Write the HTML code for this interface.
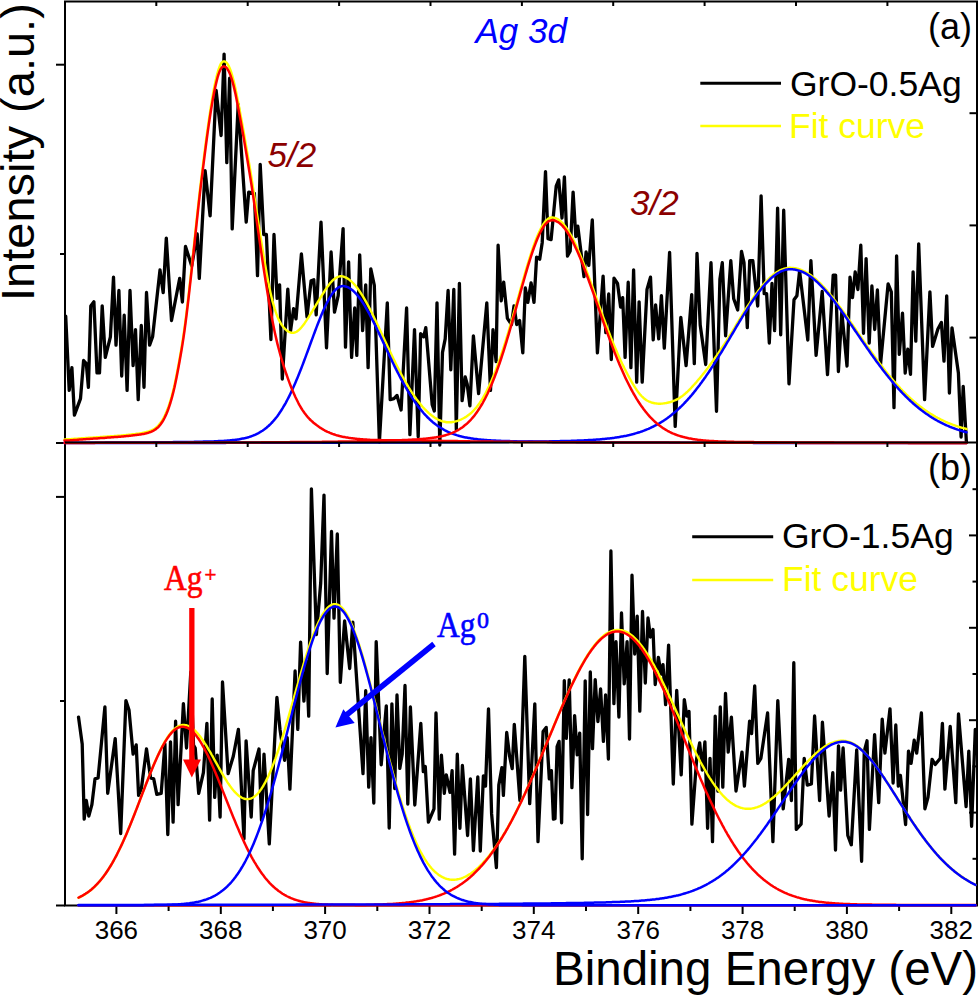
<!DOCTYPE html>
<html><head><meta charset="utf-8"><style>
html,body{margin:0;padding:0;background:#fff;}
body{width:979px;height:995px;overflow:hidden;}
svg{display:block;}
text{font-family:"Liberation Sans",sans-serif;}
.serif{font-family:"Liberation Serif",serif;}
</style></head><body>
<svg width="979" height="995" viewBox="0 0 979 995">
<rect width="979" height="995" fill="#fff"/>
<g stroke="#000" stroke-width="2" fill="none" stroke-linecap="butt">
<rect x="65" y="1.5" width="912" height="904" />
<line x1="56" y1="64.7" x2="65" y2="64.7"/><line x1="60" y1="254" x2="65" y2="254"/><line x1="56" y1="443" x2="65" y2="443"/><line x1="56" y1="496.9" x2="65" y2="496.9"/><line x1="60" y1="701" x2="65" y2="701"/><line x1="56" y1="905.5" x2="65" y2="905.5"/><line x1="156.3" y1="1" x2="156.3" y2="6"/><line x1="247.7" y1="1" x2="247.7" y2="6"/><line x1="339.1" y1="1" x2="339.1" y2="6"/><line x1="430.5" y1="1" x2="430.5" y2="6"/><line x1="521.9" y1="1" x2="521.9" y2="6"/><line x1="613.2" y1="1" x2="613.2" y2="6"/><line x1="704.6" y1="1" x2="704.6" y2="6"/><line x1="796.0" y1="1" x2="796.0" y2="6"/><line x1="887.4" y1="1" x2="887.4" y2="6"/><line x1="969.5" y1="113.2" x2="977" y2="113.2"/><line x1="969.5" y1="225.4" x2="977" y2="225.4"/><line x1="969.5" y1="337.6" x2="977" y2="337.6"/><line x1="972.5" y1="489.2" x2="977" y2="489.2"/><line x1="969" y1="535.4" x2="977" y2="535.4"/><line x1="972.5" y1="581.6" x2="977" y2="581.6"/><line x1="969" y1="627.8" x2="977" y2="627.8"/><line x1="972.5" y1="674.0" x2="977" y2="674.0"/><line x1="969" y1="720.2" x2="977" y2="720.2"/><line x1="972.5" y1="766.4" x2="977" y2="766.4"/><line x1="969" y1="812.6" x2="977" y2="812.6"/><line x1="972.5" y1="858.8" x2="977" y2="858.8"/><line x1="116.4" y1="905" x2="116.4" y2="914"/><line x1="168.6" y1="905" x2="168.6" y2="911"/><line x1="220.8" y1="905" x2="220.8" y2="914"/><line x1="272.9" y1="905" x2="272.9" y2="911"/><line x1="325.1" y1="905" x2="325.1" y2="914"/><line x1="377.3" y1="905" x2="377.3" y2="911"/><line x1="429.5" y1="905" x2="429.5" y2="914"/><line x1="481.7" y1="905" x2="481.7" y2="911"/><line x1="533.8" y1="905" x2="533.8" y2="914"/><line x1="586.0" y1="905" x2="586.0" y2="911"/><line x1="638.2" y1="905" x2="638.2" y2="914"/><line x1="690.4" y1="905" x2="690.4" y2="911"/><line x1="742.6" y1="905" x2="742.6" y2="914"/><line x1="794.7" y1="905" x2="794.7" y2="911"/><line x1="846.9" y1="905" x2="846.9" y2="914"/><line x1="899.1" y1="905" x2="899.1" y2="911"/><line x1="951.3" y1="905" x2="951.3" y2="914"/>
</g>
<g fill="none" stroke-linejoin="round" stroke-linecap="round">
<polyline points="78.5,717.1 82.2,743.9 84.2,819.1 86.3,800.5 88.8,816.0 91.9,804.6 95.0,778.9 98.1,777.9 104.9,706.8 107.7,793.3 115.2,738.7 120.7,833.5 125.9,700.6 129.0,709.9 133.1,754.2 136.2,744.9 138.6,795.4 141.3,789.2 146.5,749.0 150.6,777.9 153.7,778.9 156.8,794.3 161.2,793.3 164.9,743.9 167.8,834.5 170.5,741.8 173.1,822.1 175.6,721.2 178.1,804.6 183.4,703.6 186.5,748.0 190.8,672.0 193.5,745.0 195.2,748.0 198.7,793.3 203.4,772.7 206.9,723.3 209.6,820.1 212.2,699.0 214.7,797.4 217.2,755.2 220.1,817.0 222.5,682.0 228.1,773.7 233.3,756.2 238.4,729.4 244.0,838.6 246.1,740.8 251.2,817.0 253.2,770.6 259.0,749.0 261.5,820.1 264.0,754.2 269.3,843.8 276.9,697.5 280.0,729.4 284.6,760.3 287.2,737.7 289.9,789.2 295.1,671.0 297.8,729.4 300.6,642.1 303.9,701.1 306.4,660.9 308.7,716.2 311.4,488.8 316.4,634.5 320.7,583.0 324.0,495.1 327.2,673.5 331.5,531.5 334.0,618.2 337.3,534.0 340.3,682.3 344.6,621.0 349.7,668.5 352.8,622.2 363.0,773.6 365.7,690.7 368.7,787.2 371.0,737.6 373.8,803.0 376.2,641.7 381.2,764.8 386.3,705.9 389.2,828.0 391.9,703.8 394.7,788.5 397.0,695.0 399.8,768.4 402.2,754.2 405.0,685.5 407.8,804.0 410.4,707.0 414.8,805.0 420.8,723.3 423.3,771.7 425.3,766.5 428.4,822.1 434.0,808.8 436.0,713.0 439.3,819.1 441.4,755.2 444.3,793.3 446.3,774.8 450.0,792.3 452.1,770.6 454.6,854.1 457.3,754.2 459.9,828.3 462.4,765.5 467.6,835.5 470.4,778.9 473.4,850.5 477.8,776.8 480.3,851.0 483.4,775.8 485.5,786.1 488.5,708.8 491.6,813.9 496.4,867.5 498.8,785.1 501.9,767.6 503.4,795.4 506.7,732.5 509.6,756.2 512.2,768.6 514.3,724.3 519.9,800.5 524.8,656.4 529.7,803.6 534.8,703.8 538.0,841.7 543.1,731.5 546.2,727.4 549.3,778.9 551.4,770.6 553.4,819.1 555.0,818.6 557.1,746.5 559.1,741.4 561.6,822.8 564.3,680.6 566.3,738.3 569.2,679.8 571.9,787.7 574.6,715.6 577.2,754.8 579.7,733.1 582.2,858.8 585.2,680.8 587.6,814.5 590.3,672.0 592.5,748.6 595.2,679.6 597.9,721.5 600.6,689.0 603.4,741.3 605.6,694.8 608.4,759.0 610.9,551.0 613.9,703.7 616.0,641.7 618.9,717.0 621.5,613.0 624.2,683.9 627.1,641.7 629.5,739.0 632.0,575.2 634.7,654.0 637.2,616.2 639.8,711.2 642.5,611.5 645.3,683.0 648.0,618.0 650.4,637.0 653.0,629.5 655.2,684.5 658.4,657.3 661.0,674.0 663.0,664.7 665.6,704.7 668.6,645.1 673.3,784.0 676.7,690.3 681.2,774.8 684.3,699.6 686.8,716.0 689.0,711.5 691.9,824.2 696.7,758.3 699.7,742.8 702.3,770.0 704.9,741.8 707.6,828.3 710.0,758.3 712.5,841.7 715.2,716.1 717.9,791.2 720.3,706.8 722.8,787.1 725.5,693.4 728.2,752.1 731.4,717.1 736.0,791.0 742.0,752.1 744.4,786.1 749.6,721.2 751.6,733.6 754.7,685.8 757.8,763.4 760.9,758.3 767.6,713.0 772.9,841.7 777.8,700.6 783.2,808.8 788.7,759.3 791.4,800.5 793.8,662.7 796.3,829.4 801.1,824.2 804.2,758.3 807.3,785.1 811.4,784.0 814.6,716.0 819.6,800.5 822.4,722.2 829.1,816.0 832.8,772.7 835.5,850.0 838.5,745.9 840.6,790.2 843.1,748.0 847.8,835.5 851.3,844.8 856.7,750.0 861.6,861.3 864.3,751.1 867.0,740.8 869.4,829.4 874.6,734.6 878.7,802.6 882.2,719.1 884.9,753.1 890.0,708.8 893.1,783.0 895.8,725.0 898.3,786.1 900.4,775.3 905.6,824.7 908.5,751.1 911.1,763.4 914.2,740.2 916.7,753.1 921.4,713.0 924.9,808.8 928.0,797.4 932.1,759.3 935.2,764.5 940.3,758.3 942.4,723.3 944.9,789.2 950.2,726.4 955.8,802.6 958.5,714.0 966.1,806.7 968.8,751.1 971.6,826.3 975.3,729.4" stroke="#000" stroke-width="3.3"/>
<path d="M78.5,897.8 L79.5,897.4 L80.5,896.9 L81.5,896.3 L82.5,895.8 L83.5,895.2 L84.5,894.6 L85.5,894.0 L86.5,893.3 L87.5,892.6 L88.5,891.9 L89.5,891.1 L90.5,890.3 L91.5,889.5 L92.5,888.6 L93.5,887.7 L94.5,886.8 L95.5,885.8 L96.5,884.8 L97.5,883.7 L98.5,882.6 L99.5,881.5 L100.5,880.3 L101.5,879.0 L102.5,877.8 L103.5,876.5 L104.5,875.1 L105.5,873.7 L106.5,872.2 L107.5,870.8 L108.5,869.2 L109.5,867.6 L110.5,866.0 L111.5,864.3 L112.5,862.6 L113.5,860.8 L114.5,859.0 L115.5,857.1 L116.5,855.2 L117.5,853.3 L118.5,851.3 L119.5,849.2 L120.5,847.1 L121.5,845.0 L122.5,842.8 L123.5,840.6 L124.5,838.3 L125.5,836.1 L126.5,833.7 L127.5,831.4 L128.5,829.0 L129.5,826.5 L130.5,824.1 L131.5,821.6 L132.5,819.1 L133.5,816.6 L134.5,814.0 L135.5,811.4 L136.5,808.9 L137.5,806.3 L138.5,803.6 L139.5,801.0 L140.5,798.4 L141.5,795.8 L142.5,793.1 L143.5,790.5 L144.5,787.9 L145.5,785.3 L146.5,782.7 L147.5,780.1 L148.5,777.6 L149.5,775.0 L150.5,772.5 L151.5,770.1 L152.5,767.6 L153.5,765.2 L154.5,762.8 L155.5,760.5 L156.5,758.3 L157.5,756.0 L158.5,753.9 L159.5,751.8 L160.5,749.7 L161.5,747.7 L162.5,745.8 L163.5,744.0 L164.5,742.2 L165.5,740.5 L166.5,738.8 L167.5,737.3 L168.5,735.8 L169.5,734.5 L170.5,733.2 L171.5,732.0 L172.5,730.9 L173.5,729.9 L174.5,728.9 L175.5,728.1 L176.5,727.4 L177.5,726.7 L178.5,726.2 L179.5,725.8 L180.5,725.4 L181.5,725.2 L182.5,725.0 L183.5,725.0 L184.5,725.0 L185.5,725.1 L186.5,725.3 L187.5,725.7 L188.5,726.0 L189.5,726.5 L190.5,727.1 L191.5,727.7 L192.5,728.5 L193.5,729.3 L194.5,730.2 L195.5,731.1 L196.5,732.2 L197.5,733.3 L198.5,734.5 L199.5,735.7 L200.5,737.0 L201.5,738.4 L202.5,739.8 L203.5,741.2 L204.5,742.8 L205.5,744.3 L206.5,745.9 L207.5,747.6 L208.5,749.3 L209.5,751.0 L210.5,752.7 L211.5,754.5 L212.5,756.2 L213.5,758.0 L214.5,759.8 L215.5,761.6 L216.5,763.4 L217.5,765.2 L218.5,767.0 L219.5,768.8 L220.5,770.6 L221.5,772.4 L222.5,774.1 L223.5,775.8 L224.5,777.5 L225.5,779.1 L226.5,780.7 L227.5,782.3 L228.5,783.8 L229.5,785.2 L230.5,786.6 L231.5,788.0 L232.5,789.3 L233.5,790.5 L234.5,791.6 L235.5,792.7 L236.5,793.7 L237.5,794.6 L238.5,795.5 L239.5,796.3 L240.5,796.9 L241.5,797.5 L242.5,798.0 L243.5,798.4 L244.5,798.8 L245.5,799.0 L246.5,799.1 L247.5,799.1 L248.5,799.1 L249.5,798.9 L250.5,798.6 L251.5,798.3 L252.5,797.8 L253.5,797.2 L254.5,796.5 L255.5,795.7 L256.5,794.8 L257.5,793.8 L258.5,792.7 L259.5,791.4 L260.5,790.1 L261.5,788.7 L262.5,787.1 L263.5,785.5 L264.5,783.7 L265.5,781.9 L266.5,779.9 L267.5,777.9 L268.5,775.8 L269.5,773.5 L270.5,771.2 L271.5,768.8 L272.5,766.3 L273.5,763.7 L274.5,761.0 L275.5,758.3 L276.5,755.4 L277.5,752.5 L278.5,749.6 L279.5,746.5 L280.5,743.4 L281.5,740.3 L282.5,737.0 L283.5,733.8 L284.5,730.5 L285.5,727.1 L286.5,723.7 L287.5,720.3 L288.5,716.8 L289.5,713.3 L290.5,709.8 L291.5,706.3 L292.5,702.8 L293.5,699.2 L294.5,695.7 L295.5,692.1 L296.5,688.6 L297.5,685.0 L298.5,681.5 L299.5,678.0 L300.5,674.6 L301.5,671.2 L302.5,667.8 L303.5,664.4 L304.5,661.1 L305.5,657.8 L306.5,654.7 L307.5,651.5 L308.5,648.4 L309.5,645.4 L310.5,642.5 L311.5,639.7 L312.5,636.9 L313.5,634.2 L314.5,631.6 L315.5,629.1 L316.5,626.7 L317.5,624.5 L318.5,622.3 L319.5,620.2 L320.5,618.2 L321.5,616.4 L322.5,614.7 L323.5,613.1 L324.5,611.6 L325.5,610.2 L326.5,609.0 L327.5,607.9 L328.5,607.0 L329.5,606.1 L330.5,605.5 L331.5,604.9 L332.5,604.5 L333.5,604.3 L334.5,604.1 L335.5,604.2 L336.5,604.3 L337.5,604.6 L338.5,605.1 L339.5,605.7 L340.5,606.5 L341.5,607.4 L342.5,608.4 L343.5,609.6 L344.5,610.9 L345.5,612.4 L346.5,614.0 L347.5,615.7 L348.5,617.6 L349.5,619.6 L350.5,621.7 L351.5,623.9 L352.5,626.3 L353.5,628.8 L354.5,631.4 L355.5,634.1 L356.5,636.9 L357.5,639.8 L358.5,642.8 L359.5,645.9 L360.5,649.1 L361.5,652.4 L362.5,655.7 L363.5,659.1 L364.5,662.6 L365.5,666.2 L366.5,669.8 L367.5,673.5 L368.5,677.3 L369.5,681.1 L370.5,684.9 L371.5,688.8 L372.5,692.7 L373.5,696.6 L374.5,700.6 L375.5,704.6 L376.5,708.6 L377.5,712.6 L378.5,716.6 L379.5,720.7 L380.5,724.7 L381.5,728.7 L382.5,732.7 L383.5,736.7 L384.5,740.7 L385.5,744.7 L386.5,748.6 L387.5,752.5 L388.5,756.4 L389.5,760.3 L390.5,764.1 L391.5,767.9 L392.5,771.6 L393.5,775.3 L394.5,778.9 L395.5,782.5 L396.5,786.1 L397.5,789.6 L398.5,793.0 L399.5,796.4 L400.5,799.7 L401.5,802.9 L402.5,806.1 L403.5,809.2 L404.5,812.3 L405.5,815.3 L406.5,818.2 L407.5,821.0 L408.5,823.8 L409.5,826.5 L410.5,829.2 L411.5,831.7 L412.5,834.2 L413.5,836.7 L414.5,839.0 L415.5,841.3 L416.5,843.5 L417.5,845.6 L418.5,847.7 L419.5,849.7 L420.5,851.6 L421.5,853.4 L422.5,855.2 L423.5,856.9 L424.5,858.6 L425.5,860.1 L426.5,861.6 L427.5,863.1 L428.5,864.5 L429.5,865.8 L430.5,867.0 L431.5,868.2 L432.5,869.3 L433.5,870.3 L434.5,871.3 L435.5,872.3 L436.5,873.1 L437.5,873.9 L438.5,874.7 L439.5,875.4 L440.5,876.0 L441.5,876.6 L442.5,877.2 L443.5,877.6 L444.5,878.1 L445.5,878.5 L446.5,878.8 L447.5,879.1 L448.5,879.3 L449.5,879.5 L450.5,879.6 L451.5,879.7 L452.5,879.8 L453.5,879.8 L454.5,879.7 L455.5,879.6 L456.5,879.5 L457.5,879.3 L458.5,879.1 L459.5,878.9 L460.5,878.6 L461.5,878.3 L462.5,877.9 L463.5,877.5 L464.5,877.0 L465.5,876.6 L466.5,876.1 L467.5,875.5 L468.5,874.9 L469.5,874.3 L470.5,873.7 L471.5,873.0 L472.5,872.2 L473.5,871.5 L474.5,870.7 L475.5,869.9 L476.5,869.0 L477.5,868.2 L478.5,867.3 L479.5,866.3 L480.5,865.3 L481.5,864.3 L482.5,863.3 L483.5,862.2 L484.5,861.1 L485.5,860.0 L486.5,858.8 L487.5,857.7 L488.5,856.4 L489.5,855.2 L490.5,853.9 L491.5,852.6 L492.5,851.3 L493.5,849.9 L494.5,848.5 L495.5,847.1 L496.5,845.7 L497.5,844.2 L498.5,842.7 L499.5,841.1 L500.5,839.6 L501.5,838.0 L502.5,836.4 L503.5,834.7 L504.5,833.1 L505.5,831.4 L506.5,829.6 L507.5,827.9 L508.5,826.1 L509.5,824.3 L510.5,822.5 L511.5,820.6 L512.5,818.7 L513.5,816.8 L514.5,814.9 L515.5,812.9 L516.5,811.0 L517.5,809.0 L518.5,806.9 L519.5,804.9 L520.5,802.8 L521.5,800.7 L522.5,798.6 L523.5,796.5 L524.5,794.4 L525.5,792.2 L526.5,790.0 L527.5,787.8 L528.5,785.6 L529.5,783.3 L530.5,781.1 L531.5,778.8 L532.5,776.5 L533.5,774.2 L534.5,771.9 L535.5,769.6 L536.5,767.2 L537.5,764.9 L538.5,762.5 L539.5,760.1 L540.5,757.8 L541.5,755.4 L542.5,753.0 L543.5,750.6 L544.5,748.2 L545.5,745.8 L546.5,743.4 L547.5,741.0 L548.5,738.5 L549.5,736.1 L550.5,733.7 L551.5,731.3 L552.5,728.9 L553.5,726.5 L554.5,724.1 L555.5,721.7 L556.5,719.3 L557.5,716.9 L558.5,714.6 L559.5,712.2 L560.5,709.9 L561.5,707.5 L562.5,705.2 L563.5,702.9 L564.5,700.6 L565.5,698.4 L566.5,696.1 L567.5,693.9 L568.5,691.7 L569.5,689.5 L570.5,687.3 L571.5,685.2 L572.5,683.1 L573.5,681.0 L574.5,678.9 L575.5,676.9 L576.5,674.9 L577.5,672.9 L578.5,671.0 L579.5,669.1 L580.5,667.2 L581.5,665.4 L582.5,663.6 L583.5,661.8 L584.5,660.1 L585.5,658.4 L586.5,656.8 L587.5,655.2 L588.5,653.6 L589.5,652.1 L590.5,650.6 L591.5,649.2 L592.5,647.8 L593.5,646.5 L594.5,645.2 L595.5,643.9 L596.5,642.7 L597.5,641.6 L598.5,640.5 L599.5,639.5 L600.5,638.5 L601.5,637.5 L602.5,636.7 L603.5,635.8 L604.5,635.0 L605.5,634.3 L606.5,633.6 L607.5,633.0 L608.5,632.5 L609.5,632.0 L610.5,631.5 L611.5,631.1 L612.5,630.8 L613.5,630.5 L614.5,630.3 L615.5,630.1 L616.5,630.0 L617.5,629.9 L618.5,629.9 L619.5,630.0 L620.5,630.1 L621.5,630.2 L622.5,630.5 L623.5,630.8 L624.5,631.1 L625.5,631.5 L626.5,632.0 L627.5,632.5 L628.5,633.1 L629.5,633.8 L630.5,634.5 L631.5,635.2 L632.5,636.0 L633.5,636.9 L634.5,637.8 L635.5,638.8 L636.5,639.8 L637.5,640.9 L638.5,642.0 L639.5,643.2 L640.5,644.4 L641.5,645.7 L642.5,647.0 L643.5,648.4 L644.5,649.8 L645.5,651.3 L646.5,652.8 L647.5,654.3 L648.5,655.9 L649.5,657.5 L650.5,659.2 L651.5,660.9 L652.5,662.7 L653.5,664.4 L654.5,666.2 L655.5,668.1 L656.5,669.9 L657.5,671.8 L658.5,673.8 L659.5,675.7 L660.5,677.7 L661.5,679.7 L662.5,681.7 L663.5,683.8 L664.5,685.9 L665.5,687.9 L666.5,690.1 L667.5,692.2 L668.5,694.3 L669.5,696.5 L670.5,698.6 L671.5,700.8 L672.5,703.0 L673.5,705.1 L674.5,707.3 L675.5,709.5 L676.5,711.7 L677.5,713.9 L678.5,716.1 L679.5,718.3 L680.5,720.5 L681.5,722.7 L682.5,724.9 L683.5,727.1 L684.5,729.3 L685.5,731.4 L686.5,733.6 L687.5,735.7 L688.5,737.9 L689.5,740.0 L690.5,742.1 L691.5,744.1 L692.5,746.2 L693.5,748.3 L694.5,750.3 L695.5,752.3 L696.5,754.3 L697.5,756.2 L698.5,758.2 L699.5,760.1 L700.5,762.0 L701.5,763.8 L702.5,765.6 L703.5,767.4 L704.5,769.2 L705.5,770.9 L706.5,772.7 L707.5,774.3 L708.5,776.0 L709.5,777.6 L710.5,779.1 L711.5,780.7 L712.5,782.2 L713.5,783.6 L714.5,785.1 L715.5,786.5 L716.5,787.8 L717.5,789.1 L718.5,790.4 L719.5,791.6 L720.5,792.8 L721.5,793.9 L722.5,795.1 L723.5,796.1 L724.5,797.1 L725.5,798.1 L726.5,799.1 L727.5,800.0 L728.5,800.8 L729.5,801.6 L730.5,802.4 L731.5,803.1 L732.5,803.8 L733.5,804.4 L734.5,805.0 L735.5,805.6 L736.5,806.1 L737.5,806.5 L738.5,806.9 L739.5,807.3 L740.5,807.7 L741.5,807.9 L742.5,808.2 L743.5,808.4 L744.5,808.6 L745.5,808.7 L746.5,808.8 L747.5,808.8 L748.5,808.8 L749.5,808.8 L750.5,808.7 L751.5,808.6 L752.5,808.4 L753.5,808.2 L754.5,808.0 L755.5,807.7 L756.5,807.4 L757.5,807.1 L758.5,806.7 L759.5,806.3 L760.5,805.9 L761.5,805.4 L762.5,804.9 L763.5,804.3 L764.5,803.7 L765.5,803.1 L766.5,802.5 L767.5,801.8 L768.5,801.1 L769.5,800.4 L770.5,799.6 L771.5,798.8 L772.5,798.0 L773.5,797.2 L774.5,796.4 L775.5,795.5 L776.5,794.6 L777.5,793.7 L778.5,792.7 L779.5,791.8 L780.5,790.8 L781.5,789.8 L782.5,788.8 L783.5,787.8 L784.5,786.7 L785.5,785.7 L786.5,784.6 L787.5,783.5 L788.5,782.5 L789.5,781.4 L790.5,780.3 L791.5,779.2 L792.5,778.1 L793.5,777.0 L794.5,775.8 L795.5,774.7 L796.5,773.6 L797.5,772.5 L798.5,771.4 L799.5,770.3 L800.5,769.2 L801.5,768.1 L802.5,767.0 L803.5,765.9 L804.5,764.8 L805.5,763.7 L806.5,762.7 L807.5,761.6 L808.5,760.6 L809.5,759.6 L810.5,758.6 L811.5,757.6 L812.5,756.6 L813.5,755.7 L814.5,754.7 L815.5,753.8 L816.5,752.9 L817.5,752.1 L818.5,751.2 L819.5,750.4 L820.5,749.6 L821.5,748.9 L822.5,748.2 L823.5,747.5 L824.5,746.8 L825.5,746.1 L826.5,745.5 L827.5,745.0 L828.5,744.4 L829.5,743.9 L830.5,743.4 L831.5,743.0 L832.5,742.6 L833.5,742.3 L834.5,741.9 L835.5,741.6 L836.5,741.4 L837.5,741.2 L838.5,741.0 L839.5,740.9 L840.5,740.8 L841.5,740.8 L842.5,740.7 L843.5,740.8 L844.5,740.9 L845.5,741.0 L846.5,741.2 L847.5,741.4 L848.5,741.7 L849.5,742.0 L850.5,742.4 L851.5,742.8 L852.5,743.3 L853.5,743.8 L854.5,744.3 L855.5,745.0 L856.5,745.6 L857.5,746.3 L858.5,747.1 L859.5,747.9 L860.5,748.7 L861.5,749.6 L862.5,750.5 L863.5,751.4 L864.5,752.4 L865.5,753.5 L866.5,754.5 L867.5,755.6 L868.5,756.8 L869.5,757.9 L870.5,759.1 L871.5,760.3 L872.5,761.6 L873.5,762.9 L874.5,764.2 L875.5,765.5 L876.5,766.9 L877.5,768.2 L878.5,769.6 L879.5,771.1 L880.5,772.5 L881.5,773.9 L882.5,775.4 L883.5,776.9 L884.5,778.4 L885.5,779.9 L886.5,781.4 L887.5,783.0 L888.5,784.5 L889.5,786.1 L890.5,787.6 L891.5,789.2 L892.5,790.8 L893.5,792.3 L894.5,793.9 L895.5,795.5 L896.5,797.1 L897.5,798.7 L898.5,800.3 L899.5,801.8 L900.5,803.4 L901.5,805.0 L902.5,806.6 L903.5,808.2 L904.5,809.7 L905.5,811.3 L906.5,812.8 L907.5,814.4 L908.5,815.9 L909.5,817.4 L910.5,819.0 L911.5,820.5 L912.5,822.0 L913.5,823.5 L914.5,825.0 L915.5,826.4 L916.5,827.9 L917.5,829.3 L918.5,830.7 L919.5,832.2 L920.5,833.6 L921.5,834.9 L922.5,836.3 L923.5,837.7 L924.5,839.0 L925.5,840.3 L926.5,841.7 L927.5,843.0 L928.5,844.2 L929.5,845.5 L930.5,846.7 L931.5,848.0 L932.5,849.2 L933.5,850.4 L934.5,851.5 L935.5,852.7 L936.5,853.8 L937.5,855.0 L938.5,856.1 L939.5,857.1 L940.5,858.2 L941.5,859.3 L942.5,860.3 L943.5,861.3 L944.5,862.3 L945.5,863.3 L946.5,864.2 L947.5,865.2 L948.5,866.1 L949.5,867.0 L950.5,867.9 L951.5,868.8 L952.5,869.6 L953.5,870.4 L954.5,871.3 L955.5,872.1 L956.5,872.8 L957.5,873.6 L958.5,874.4 L959.5,875.1 L960.5,875.8 L961.5,876.5 L962.5,877.2 L963.5,877.9 L964.5,878.5 L965.5,879.1 L966.5,879.8 L967.5,880.4 L968.5,881.0 L969.5,881.5 L970.5,882.1 L971.5,882.7 L972.5,883.2 L973.5,883.7 L974.5,884.2 L975.5,884.7" stroke="#ffff00" stroke-width="2.4"/>
<path d="M78.5,897.6 L79.5,897.2 L80.5,896.7 L81.5,896.2 L82.5,895.6 L83.5,895.0 L84.5,894.4 L85.5,893.8 L86.5,893.1 L87.5,892.5 L88.5,891.7 L89.5,891.0 L90.5,890.2 L91.5,889.4 L92.5,888.5 L93.5,887.6 L94.5,886.7 L95.5,885.7 L96.5,884.7 L97.5,883.6 L98.5,882.5 L99.5,881.4 L100.5,880.2 L101.5,879.0 L102.5,877.7 L103.5,876.4 L104.5,875.1 L105.5,873.7 L106.5,872.2 L107.5,870.7 L108.5,869.2 L109.5,867.6 L110.5,866.0 L111.5,864.3 L112.5,862.6 L113.5,860.8 L114.5,859.0 L115.5,857.2 L116.5,855.3 L117.5,853.3 L118.5,851.3 L119.5,849.3 L120.5,847.2 L121.5,845.1 L122.5,842.9 L123.5,840.7 L124.5,838.5 L125.5,836.2 L126.5,833.9 L127.5,831.5 L128.5,829.1 L129.5,826.7 L130.5,824.3 L131.5,821.8 L132.5,819.3 L133.5,816.8 L134.5,814.2 L135.5,811.6 L136.5,809.1 L137.5,806.5 L138.5,803.9 L139.5,801.3 L140.5,798.6 L141.5,796.0 L142.5,793.4 L143.5,790.8 L144.5,788.2 L145.5,785.6 L146.5,783.0 L147.5,780.5 L148.5,777.9 L149.5,775.4 L150.5,772.9 L151.5,770.5 L152.5,768.0 L153.5,765.6 L154.5,763.3 L155.5,761.0 L156.5,758.7 L157.5,756.5 L158.5,754.4 L159.5,752.3 L160.5,750.3 L161.5,748.3 L162.5,746.4 L163.5,744.6 L164.5,742.9 L165.5,741.2 L166.5,739.6 L167.5,738.1 L168.5,736.7 L169.5,735.3 L170.5,734.1 L171.5,732.9 L172.5,731.9 L173.5,730.9 L174.5,730.0 L175.5,729.3 L176.5,728.6 L177.5,728.0 L178.5,727.6 L179.5,727.2 L180.5,726.9 L181.5,726.8 L182.5,726.7 L183.5,726.8 L184.5,726.9 L185.5,727.2 L186.5,727.5 L187.5,727.9 L188.5,728.5 L189.5,729.1 L190.5,729.8 L191.5,730.6 L192.5,731.6 L193.5,732.5 L194.5,733.6 L195.5,734.8 L196.5,736.1 L197.5,737.4 L198.5,738.8 L199.5,740.3 L200.5,741.9 L201.5,743.5 L202.5,745.3 L203.5,747.0 L204.5,748.9 L205.5,750.8 L206.5,752.8 L207.5,754.8 L208.5,756.9 L209.5,759.0 L210.5,761.2 L211.5,763.5 L212.5,765.7 L213.5,768.0 L214.5,770.4 L215.5,772.8 L216.5,775.2 L217.5,777.6 L218.5,780.1 L219.5,782.5 L220.5,785.0 L221.5,787.5 L222.5,790.1 L223.5,792.6 L224.5,795.1 L225.5,797.7 L226.5,800.2 L227.5,802.7 L228.5,805.2 L229.5,807.8 L230.5,810.3 L231.5,812.7 L232.5,815.2 L233.5,817.7 L234.5,820.1 L235.5,822.5 L236.5,824.9 L237.5,827.3 L238.5,829.6 L239.5,831.9 L240.5,834.2 L241.5,836.4 L242.5,838.6 L243.5,840.8 L244.5,842.9 L245.5,845.0 L246.5,847.1 L247.5,849.1 L248.5,851.1 L249.5,853.0 L250.5,854.9 L251.5,856.8 L252.5,858.6 L253.5,860.3 L254.5,862.1 L255.5,863.7 L256.5,865.4 L257.5,867.0 L258.5,868.5 L259.5,870.0 L260.5,871.5 L261.5,872.9 L262.5,874.3 L263.5,875.6 L264.5,876.9 L265.5,878.2 L266.5,879.4 L267.5,880.5 L268.5,881.7 L269.5,882.8 L270.5,883.8 L271.5,884.8 L272.5,885.8 L273.5,886.7 L274.5,887.6 L275.5,888.5 L276.5,889.3 L277.5,890.1 L278.5,890.9 L279.5,891.6 L280.5,892.3 L281.5,893.0 L282.5,893.7 L283.5,894.3 L284.5,894.9 L285.5,895.4 L286.5,896.0 L287.5,896.5 L288.5,897.0 L289.5,897.4 L290.5,897.9 L291.5,898.3 L292.5,898.7 L293.5,899.1 L294.5,899.5 L295.5,899.8 L296.5,900.1 L297.5,900.4 L298.5,900.7 L299.5,901.0 L300.5,901.3 L301.5,901.5 L302.5,901.7 L303.5,902.0 L304.5,902.2 L305.5,902.4 L306.5,902.6 L307.5,902.7 L308.5,902.9 L309.5,903.0 L310.5,903.2 L311.5,903.3 L312.5,903.5 L313.5,903.6 L314.5,903.7 L315.5,903.8 L316.5,903.9 L317.5,904.0 L318.5,904.1 L319.5,904.2 L320.5,904.2 L321.5,904.3 L322.5,904.4 L323.5,904.4 L324.5,904.5 L325.5,904.5 L326.5,904.6 L327.5,904.6 L328.5,904.7 L329.5,904.7 L330.5,904.8 L331.5,904.8 L332.5,904.8 L333.5,904.9 L334.5,904.9 L335.5,904.9 L336.5,904.9 L337.5,905.0 L338.5,905.0 L339.5,905.0 L340.5,905.0 L341.5,905.0 L342.5,905.0 L343.5,905.1 L344.5,905.1 L345.5,905.1 L346.5,905.1 L347.5,905.1 L348.5,905.1 L349.5,905.1 L350.5,905.1 L351.5,905.1 L352.5,905.1 L353.5,905.1 L354.5,905.1 L355.5,905.2 L356.5,905.2 L357.5,905.2 L358.5,905.2 L359.5,905.2 L360.5,905.2 L361.5,905.2 L362.5,905.2 L363.5,905.2 L364.5,905.2 L365.5,905.2 L366.5,905.2 L367.5,905.2 L368.5,905.2 L369.5,905.2 L370.5,905.2 L371.5,905.2 L372.5,905.2 L373.5,905.2 L374.5,905.2 L375.5,905.2 L376.5,905.2 L377.5,905.2 L378.5,905.2 L379.5,905.2 L380.5,905.2 L381.5,905.2 L382.5,905.2 L383.5,905.2 L384.5,905.2 L385.5,905.2 L386.5,905.2 L387.5,905.2 L388.5,905.2 L389.5,905.2 L390.5,905.2 L391.5,905.2 L392.5,905.2 L393.5,905.2 L394.5,905.2 L395.5,905.2 L396.5,905.2 L397.5,905.2 L398.5,905.2 L399.5,905.2 L400.5,905.2 L401.5,905.2 L402.5,905.2 L403.5,905.2 L404.5,905.2 L405.5,905.2 L406.5,905.2 L407.5,905.2 L408.5,905.2 L409.5,905.2 L410.5,905.2 L411.5,905.2 L412.5,905.2 L413.5,905.2 L414.5,905.2 L415.5,905.2 L416.5,905.2 L417.5,905.2 L418.5,905.2 L419.5,905.2 L420.5,905.2 L421.5,905.2 L422.5,905.2 L423.5,905.2 L424.5,905.2 L425.5,905.2 L426.5,905.2 L427.5,905.2 L428.5,905.2 L429.5,905.2 L430.5,905.2 L431.5,905.2 L432.5,905.2 L433.5,905.2 L434.5,905.2 L435.5,905.2 L436.5,905.2 L437.5,905.2 L438.5,905.2 L439.5,905.2 L440.5,905.2 L441.5,905.2 L442.5,905.2 L443.5,905.2 L444.5,905.2 L445.5,905.2 L446.5,905.2 L447.5,905.2 L448.5,905.2 L449.5,905.2 L450.5,905.2 L451.5,905.2 L452.5,905.2 L453.5,905.2 L454.5,905.2 L455.5,905.2 L456.5,905.2 L457.5,905.2 L458.5,905.2 L459.5,905.2 L460.5,905.2 L461.5,905.2 L462.5,905.2 L463.5,905.2 L464.5,905.2 L465.5,905.2 L466.5,905.2 L467.5,905.2 L468.5,905.2 L469.5,905.2 L470.5,905.2 L471.5,905.2 L472.5,905.2 L473.5,905.2 L474.5,905.2 L475.5,905.2 L476.5,905.2 L477.5,905.2 L478.5,905.2 L479.5,905.2 L480.5,905.2 L481.5,905.2 L482.5,905.2 L483.5,905.2 L484.5,905.2 L485.5,905.2 L486.5,905.2 L487.5,905.2 L488.5,905.2 L489.5,905.2 L490.5,905.2 L491.5,905.2 L492.5,905.2 L493.5,905.2 L494.5,905.2 L495.5,905.2 L496.5,905.2 L497.5,905.2 L498.5,905.2 L499.5,905.2 L500.5,905.2 L501.5,905.2 L502.5,905.2 L503.5,905.2 L504.5,905.2 L505.5,905.2 L506.5,905.2 L507.5,905.2 L508.5,905.2 L509.5,905.2 L510.5,905.2 L511.5,905.2 L512.5,905.2 L513.5,905.2 L514.5,905.2 L515.5,905.2 L516.5,905.2 L517.5,905.2 L518.5,905.2 L519.5,905.2 L520.5,905.2 L521.5,905.2 L522.5,905.2 L523.5,905.2 L524.5,905.2 L525.5,905.2 L526.5,905.2 L527.5,905.2 L528.5,905.2 L529.5,905.2 L530.5,905.2 L531.5,905.2 L532.5,905.2 L533.5,905.2 L534.5,905.2 L535.5,905.2 L536.5,905.2 L537.5,905.2 L538.5,905.2 L539.5,905.2 L540.5,905.2 L541.5,905.2 L542.5,905.2 L543.5,905.2 L544.5,905.2 L545.5,905.2 L546.5,905.2 L547.5,905.2 L548.5,905.2 L549.5,905.2 L550.5,905.2 L551.5,905.2 L552.5,905.2 L553.5,905.2 L554.5,905.2 L555.5,905.2 L556.5,905.2 L557.5,905.2 L558.5,905.2 L559.5,905.2 L560.5,905.2 L561.5,905.2 L562.5,905.2 L563.5,905.2 L564.5,905.2 L565.5,905.2 L566.5,905.2 L567.5,905.2 L568.5,905.2 L569.5,905.2 L570.5,905.2 L571.5,905.2 L572.5,905.2 L573.5,905.2 L574.5,905.2 L575.5,905.2 L576.5,905.2 L577.5,905.2 L578.5,905.2 L579.5,905.2 L580.5,905.2 L581.5,905.2 L582.5,905.2 L583.5,905.2 L584.5,905.2 L585.5,905.2 L586.5,905.2 L587.5,905.2 L588.5,905.2 L589.5,905.2 L590.5,905.2 L591.5,905.2 L592.5,905.2 L593.5,905.2 L594.5,905.2 L595.5,905.2 L596.5,905.2 L597.5,905.2 L598.5,905.2 L599.5,905.2 L600.5,905.2 L601.5,905.2 L602.5,905.2 L603.5,905.2 L604.5,905.2 L605.5,905.2 L606.5,905.2 L607.5,905.2 L608.5,905.2 L609.5,905.2 L610.5,905.2 L611.5,905.2 L612.5,905.2 L613.5,905.2 L614.5,905.2 L615.5,905.2 L616.5,905.2 L617.5,905.2 L618.5,905.2 L619.5,905.2 L620.5,905.2 L621.5,905.2 L622.5,905.2 L623.5,905.2 L624.5,905.2 L625.5,905.2 L626.5,905.2 L627.5,905.2 L628.5,905.2 L629.5,905.2 L630.5,905.2 L631.5,905.2 L632.5,905.2 L633.5,905.2 L634.5,905.2 L635.5,905.2 L636.5,905.2 L637.5,905.2 L638.5,905.2 L639.5,905.2 L640.5,905.2 L641.5,905.2 L642.5,905.2 L643.5,905.2 L644.5,905.2 L645.5,905.2 L646.5,905.2 L647.5,905.2 L648.5,905.2 L649.5,905.2 L650.5,905.2 L651.5,905.2 L652.5,905.2 L653.5,905.2 L654.5,905.2 L655.5,905.2 L656.5,905.2 L657.5,905.2 L658.5,905.2 L659.5,905.2 L660.5,905.2 L661.5,905.2 L662.5,905.2 L663.5,905.2 L664.5,905.2 L665.5,905.2 L666.5,905.2 L667.5,905.2 L668.5,905.2 L669.5,905.2 L670.5,905.2 L671.5,905.2 L672.5,905.2 L673.5,905.2 L674.5,905.2 L675.5,905.2 L676.5,905.2 L677.5,905.2 L678.5,905.2 L679.5,905.2 L680.5,905.2 L681.5,905.2 L682.5,905.2 L683.5,905.2 L684.5,905.2 L685.5,905.2 L686.5,905.2 L687.5,905.2 L688.5,905.2 L689.5,905.2 L690.5,905.2 L691.5,905.2 L692.5,905.2 L693.5,905.2 L694.5,905.2 L695.5,905.2 L696.5,905.2 L697.5,905.2 L698.5,905.2 L699.5,905.2 L700.5,905.2 L701.5,905.2 L702.5,905.2 L703.5,905.2 L704.5,905.2 L705.5,905.2 L706.5,905.2 L707.5,905.2 L708.5,905.2 L709.5,905.2 L710.5,905.2 L711.5,905.2 L712.5,905.2 L713.5,905.2 L714.5,905.2 L715.5,905.2 L716.5,905.2 L717.5,905.2 L718.5,905.2 L719.5,905.2 L720.5,905.2 L721.5,905.2 L722.5,905.2 L723.5,905.2 L724.5,905.2 L725.5,905.2 L726.5,905.2 L727.5,905.2 L728.5,905.2 L729.5,905.2 L730.5,905.2 L731.5,905.2 L732.5,905.2 L733.5,905.2 L734.5,905.2 L735.5,905.2 L736.5,905.2 L737.5,905.2 L738.5,905.2 L739.5,905.2 L740.5,905.2 L741.5,905.2 L742.5,905.2 L743.5,905.2 L744.5,905.2 L745.5,905.2 L746.5,905.2 L747.5,905.2 L748.5,905.2 L749.5,905.2 L750.5,905.2 L751.5,905.2 L752.5,905.2 L753.5,905.2 L754.5,905.2 L755.5,905.2 L756.5,905.2 L757.5,905.2 L758.5,905.2 L759.5,905.2 L760.5,905.2 L761.5,905.2 L762.5,905.2 L763.5,905.2 L764.5,905.2 L765.5,905.2 L766.5,905.2 L767.5,905.2 L768.5,905.2 L769.5,905.2 L770.5,905.2 L771.5,905.2 L772.5,905.2 L773.5,905.2 L774.5,905.2 L775.5,905.2 L776.5,905.2 L777.5,905.2 L778.5,905.2 L779.5,905.2 L780.5,905.2 L781.5,905.2 L782.5,905.2 L783.5,905.2 L784.5,905.2 L785.5,905.2 L786.5,905.2 L787.5,905.2 L788.5,905.2 L789.5,905.2 L790.5,905.2 L791.5,905.2 L792.5,905.2 L793.5,905.2 L794.5,905.2 L795.5,905.2 L796.5,905.2 L797.5,905.2 L798.5,905.2 L799.5,905.2 L800.5,905.2 L801.5,905.2 L802.5,905.2 L803.5,905.2 L804.5,905.2 L805.5,905.2 L806.5,905.2 L807.5,905.2 L808.5,905.2 L809.5,905.2 L810.5,905.2 L811.5,905.2 L812.5,905.2 L813.5,905.2 L814.5,905.2 L815.5,905.2 L816.5,905.2 L817.5,905.2 L818.5,905.2 L819.5,905.2 L820.5,905.2 L821.5,905.2 L822.5,905.2 L823.5,905.2 L824.5,905.2 L825.5,905.2 L826.5,905.2 L827.5,905.2 L828.5,905.2 L829.5,905.2 L830.5,905.2 L831.5,905.2 L832.5,905.2 L833.5,905.2 L834.5,905.2 L835.5,905.2 L836.5,905.2 L837.5,905.2 L838.5,905.2 L839.5,905.2 L840.5,905.2 L841.5,905.2 L842.5,905.2 L843.5,905.2 L844.5,905.2 L845.5,905.2 L846.5,905.2 L847.5,905.2 L848.5,905.2 L849.5,905.2 L850.5,905.2 L851.5,905.2 L852.5,905.2 L853.5,905.2 L854.5,905.2 L855.5,905.2 L856.5,905.2 L857.5,905.2 L858.5,905.2 L859.5,905.2 L860.5,905.2 L861.5,905.2 L862.5,905.2 L863.5,905.2 L864.5,905.2 L865.5,905.2 L866.5,905.2 L867.5,905.2 L868.5,905.2 L869.5,905.2 L870.5,905.2 L871.5,905.2 L872.5,905.2 L873.5,905.2 L874.5,905.2 L875.5,905.2 L876.5,905.2 L877.5,905.2 L878.5,905.2 L879.5,905.2 L880.5,905.2 L881.5,905.2 L882.5,905.2 L883.5,905.2 L884.5,905.2 L885.5,905.2 L886.5,905.2 L887.5,905.2 L888.5,905.2 L889.5,905.2 L890.5,905.2 L891.5,905.2 L892.5,905.2 L893.5,905.2 L894.5,905.2 L895.5,905.2 L896.5,905.2 L897.5,905.2 L898.5,905.2 L899.5,905.2 L900.5,905.2 L901.5,905.2 L902.5,905.2 L903.5,905.2 L904.5,905.2 L905.5,905.2 L906.5,905.2 L907.5,905.2 L908.5,905.2 L909.5,905.2 L910.5,905.2 L911.5,905.2 L912.5,905.2 L913.5,905.2 L914.5,905.2 L915.5,905.2 L916.5,905.2 L917.5,905.2 L918.5,905.2 L919.5,905.2 L920.5,905.2 L921.5,905.2 L922.5,905.2 L923.5,905.2 L924.5,905.2 L925.5,905.2 L926.5,905.2 L927.5,905.2 L928.5,905.2 L929.5,905.2 L930.5,905.2 L931.5,905.2 L932.5,905.2 L933.5,905.2 L934.5,905.2 L935.5,905.2 L936.5,905.2 L937.5,905.2 L938.5,905.2 L939.5,905.2 L940.5,905.2 L941.5,905.2 L942.5,905.2 L943.5,905.2 L944.5,905.2 L945.5,905.2 L946.5,905.2 L947.5,905.2 L948.5,905.2 L949.5,905.2 L950.5,905.2 L951.5,905.2 L952.5,905.2 L953.5,905.2 L954.5,905.2 L955.5,905.2 L956.5,905.2 L957.5,905.2 L958.5,905.2 L959.5,905.2 L960.5,905.2 L961.5,905.2 L962.5,905.2 L963.5,905.2 L964.5,905.2 L965.5,905.2 L966.5,905.2 L967.5,905.2 L968.5,905.2 L969.5,905.2 L970.5,905.2 L971.5,905.2 L972.5,905.2 L973.5,905.2 L974.5,905.2 L975.5,905.2" stroke="#ff0000" stroke-width="2.5"/>
<path d="M78.5,905.2 L79.5,905.2 L80.5,905.2 L81.5,905.2 L82.5,905.2 L83.5,905.2 L84.5,905.2 L85.5,905.2 L86.5,905.2 L87.5,905.2 L88.5,905.2 L89.5,905.2 L90.5,905.2 L91.5,905.2 L92.5,905.2 L93.5,905.2 L94.5,905.2 L95.5,905.2 L96.5,905.2 L97.5,905.2 L98.5,905.2 L99.5,905.2 L100.5,905.2 L101.5,905.2 L102.5,905.2 L103.5,905.2 L104.5,905.2 L105.5,905.2 L106.5,905.2 L107.5,905.2 L108.5,905.2 L109.5,905.2 L110.5,905.2 L111.5,905.2 L112.5,905.2 L113.5,905.2 L114.5,905.2 L115.5,905.2 L116.5,905.2 L117.5,905.2 L118.5,905.2 L119.5,905.2 L120.5,905.2 L121.5,905.2 L122.5,905.2 L123.5,905.2 L124.5,905.2 L125.5,905.2 L126.5,905.2 L127.5,905.2 L128.5,905.2 L129.5,905.2 L130.5,905.2 L131.5,905.2 L132.5,905.2 L133.5,905.2 L134.5,905.2 L135.5,905.2 L136.5,905.2 L137.5,905.2 L138.5,905.2 L139.5,905.2 L140.5,905.2 L141.5,905.2 L142.5,905.2 L143.5,905.2 L144.5,905.2 L145.5,905.2 L146.5,905.2 L147.5,905.2 L148.5,905.2 L149.5,905.2 L150.5,905.2 L151.5,905.2 L152.5,905.2 L153.5,905.2 L154.5,905.2 L155.5,905.2 L156.5,905.2 L157.5,905.2 L158.5,905.2 L159.5,905.2 L160.5,905.2 L161.5,905.2 L162.5,905.2 L163.5,905.2 L164.5,905.2 L165.5,905.2 L166.5,905.2 L167.5,905.2 L168.5,905.2 L169.5,905.2 L170.5,905.2 L171.5,905.2 L172.5,905.2 L173.5,905.2 L174.5,905.2 L175.5,905.2 L176.5,905.2 L177.5,905.2 L178.5,905.2 L179.5,905.2 L180.5,905.2 L181.5,905.2 L182.5,905.2 L183.5,905.2 L184.5,905.2 L185.5,905.2 L186.5,905.2 L187.5,905.2 L188.5,905.2 L189.5,905.2 L190.5,905.2 L191.5,905.2 L192.5,905.2 L193.5,905.2 L194.5,905.2 L195.5,905.2 L196.5,905.2 L197.5,905.2 L198.5,905.2 L199.5,905.2 L200.5,905.2 L201.5,905.2 L202.5,905.2 L203.5,905.2 L204.5,905.2 L205.5,905.2 L206.5,905.2 L207.5,905.2 L208.5,905.2 L209.5,905.2 L210.5,905.2 L211.5,905.2 L212.5,905.2 L213.5,905.2 L214.5,905.2 L215.5,905.2 L216.5,905.2 L217.5,905.2 L218.5,905.2 L219.5,905.2 L220.5,905.2 L221.5,905.2 L222.5,905.2 L223.5,905.2 L224.5,905.2 L225.5,905.2 L226.5,905.2 L227.5,905.2 L228.5,905.2 L229.5,905.2 L230.5,905.2 L231.5,905.2 L232.5,905.2 L233.5,905.2 L234.5,905.2 L235.5,905.2 L236.5,905.2 L237.5,905.2 L238.5,905.2 L239.5,905.2 L240.5,905.2 L241.5,905.2 L242.5,905.2 L243.5,905.2 L244.5,905.2 L245.5,905.2 L246.5,905.2 L247.5,905.2 L248.5,905.2 L249.5,905.2 L250.5,905.2 L251.5,905.2 L252.5,905.2 L253.5,905.2 L254.5,905.2 L255.5,905.2 L256.5,905.2 L257.5,905.2 L258.5,905.2 L259.5,905.2 L260.5,905.2 L261.5,905.2 L262.5,905.2 L263.5,905.2 L264.5,905.2 L265.5,905.2 L266.5,905.2 L267.5,905.2 L268.5,905.2 L269.5,905.2 L270.5,905.2 L271.5,905.2 L272.5,905.2 L273.5,905.2 L274.5,905.2 L275.5,905.2 L276.5,905.2 L277.5,905.2 L278.5,905.2 L279.5,905.2 L280.5,905.2 L281.5,905.2 L282.5,905.2 L283.5,905.2 L284.5,905.2 L285.5,905.2 L286.5,905.2 L287.5,905.2 L288.5,905.2 L289.5,905.2 L290.5,905.2 L291.5,905.2 L292.5,905.2 L293.5,905.2 L294.5,905.2 L295.5,905.2 L296.5,905.2 L297.5,905.2 L298.5,905.2 L299.5,905.2 L300.5,905.2 L301.5,905.2 L302.5,905.2 L303.5,905.2 L304.5,905.2 L305.5,905.2 L306.5,905.2 L307.5,905.2 L308.5,905.2 L309.5,905.2 L310.5,905.2 L311.5,905.2 L312.5,905.2 L313.5,905.2 L314.5,905.2 L315.5,905.2 L316.5,905.2 L317.5,905.2 L318.5,905.2 L319.5,905.2 L320.5,905.2 L321.5,905.2 L322.5,905.2 L323.5,905.2 L324.5,905.2 L325.5,905.2 L326.5,905.2 L327.5,905.2 L328.5,905.2 L329.5,905.2 L330.5,905.2 L331.5,905.1 L332.5,905.1 L333.5,905.1 L334.5,905.1 L335.5,905.1 L336.5,905.1 L337.5,905.1 L338.5,905.1 L339.5,905.1 L340.5,905.1 L341.5,905.1 L342.5,905.1 L343.5,905.1 L344.5,905.1 L345.5,905.1 L346.5,905.1 L347.5,905.1 L348.5,905.1 L349.5,905.1 L350.5,905.0 L351.5,905.0 L352.5,905.0 L353.5,905.0 L354.5,905.0 L355.5,905.0 L356.5,905.0 L357.5,905.0 L358.5,905.0 L359.5,904.9 L360.5,904.9 L361.5,904.9 L362.5,904.9 L363.5,904.9 L364.5,904.9 L365.5,904.9 L366.5,904.8 L367.5,904.8 L368.5,904.8 L369.5,904.8 L370.5,904.7 L371.5,904.7 L372.5,904.7 L373.5,904.7 L374.5,904.6 L375.5,904.6 L376.5,904.6 L377.5,904.6 L378.5,904.5 L379.5,904.5 L380.5,904.5 L381.5,904.4 L382.5,904.4 L383.5,904.3 L384.5,904.3 L385.5,904.2 L386.5,904.2 L387.5,904.1 L388.5,904.1 L389.5,904.0 L390.5,904.0 L391.5,903.9 L392.5,903.9 L393.5,903.8 L394.5,903.7 L395.5,903.7 L396.5,903.6 L397.5,903.5 L398.5,903.4 L399.5,903.3 L400.5,903.3 L401.5,903.2 L402.5,903.1 L403.5,903.0 L404.5,902.9 L405.5,902.8 L406.5,902.6 L407.5,902.5 L408.5,902.4 L409.5,902.3 L410.5,902.2 L411.5,902.0 L412.5,901.9 L413.5,901.7 L414.5,901.6 L415.5,901.4 L416.5,901.3 L417.5,901.1 L418.5,900.9 L419.5,900.7 L420.5,900.6 L421.5,900.4 L422.5,900.2 L423.5,899.9 L424.5,899.7 L425.5,899.5 L426.5,899.3 L427.5,899.0 L428.5,898.8 L429.5,898.5 L430.5,898.2 L431.5,898.0 L432.5,897.7 L433.5,897.4 L434.5,897.1 L435.5,896.8 L436.5,896.4 L437.5,896.1 L438.5,895.7 L439.5,895.4 L440.5,895.0 L441.5,894.6 L442.5,894.2 L443.5,893.8 L444.5,893.4 L445.5,892.9 L446.5,892.5 L447.5,892.0 L448.5,891.6 L449.5,891.1 L450.5,890.6 L451.5,890.0 L452.5,889.5 L453.5,888.9 L454.5,888.4 L455.5,887.8 L456.5,887.2 L457.5,886.6 L458.5,885.9 L459.5,885.3 L460.5,884.6 L461.5,883.9 L462.5,883.2 L463.5,882.5 L464.5,881.8 L465.5,881.0 L466.5,880.2 L467.5,879.4 L468.5,878.6 L469.5,877.7 L470.5,876.9 L471.5,876.0 L472.5,875.1 L473.5,874.2 L474.5,873.2 L475.5,872.2 L476.5,871.2 L477.5,870.2 L478.5,869.2 L479.5,868.1 L480.5,867.0 L481.5,865.9 L482.5,864.8 L483.5,863.6 L484.5,862.4 L485.5,861.2 L486.5,860.0 L487.5,858.7 L488.5,857.5 L489.5,856.2 L490.5,854.8 L491.5,853.5 L492.5,852.1 L493.5,850.7 L494.5,849.2 L495.5,847.8 L496.5,846.3 L497.5,844.8 L498.5,843.3 L499.5,841.7 L500.5,840.1 L501.5,838.5 L502.5,836.9 L503.5,835.2 L504.5,833.5 L505.5,831.8 L506.5,830.0 L507.5,828.3 L508.5,826.5 L509.5,824.7 L510.5,822.8 L511.5,821.0 L512.5,819.1 L513.5,817.2 L514.5,815.2 L515.5,813.3 L516.5,811.3 L517.5,809.3 L518.5,807.3 L519.5,805.2 L520.5,803.2 L521.5,801.1 L522.5,799.0 L523.5,796.8 L524.5,794.7 L525.5,792.5 L526.5,790.3 L527.5,788.1 L528.5,785.9 L529.5,783.7 L530.5,781.4 L531.5,779.1 L532.5,776.9 L533.5,774.6 L534.5,772.3 L535.5,769.9 L536.5,767.6 L537.5,765.2 L538.5,762.9 L539.5,760.5 L540.5,758.2 L541.5,755.8 L542.5,753.4 L543.5,751.0 L544.5,748.6 L545.5,746.2 L546.5,743.8 L547.5,741.4 L548.5,739.0 L549.5,736.6 L550.5,734.2 L551.5,731.8 L552.5,729.4 L553.5,727.0 L554.5,724.6 L555.5,722.2 L556.5,719.8 L557.5,717.4 L558.5,715.1 L559.5,712.7 L560.5,710.4 L561.5,708.1 L562.5,705.8 L563.5,703.5 L564.5,701.2 L565.5,698.9 L566.5,696.7 L567.5,694.5 L568.5,692.3 L569.5,690.1 L570.5,687.9 L571.5,685.8 L572.5,683.7 L573.5,681.6 L574.5,679.6 L575.5,677.6 L576.5,675.6 L577.5,673.6 L578.5,671.7 L579.5,669.8 L580.5,667.9 L581.5,666.1 L582.5,664.3 L583.5,662.6 L584.5,660.9 L585.5,659.2 L586.5,657.6 L587.5,656.0 L588.5,654.4 L589.5,652.9 L590.5,651.5 L591.5,650.1 L592.5,648.7 L593.5,647.4 L594.5,646.1 L595.5,644.9 L596.5,643.7 L597.5,642.6 L598.5,641.5 L599.5,640.5 L600.5,639.5 L601.5,638.6 L602.5,637.8 L603.5,636.9 L604.5,636.2 L605.5,635.5 L606.5,634.8 L607.5,634.2 L608.5,633.7 L609.5,633.2 L610.5,632.8 L611.5,632.4 L612.5,632.1 L613.5,631.9 L614.5,631.7 L615.5,631.6 L616.5,631.5 L617.5,631.5 L618.5,631.5 L619.5,631.6 L620.5,631.8 L621.5,632.0 L622.5,632.3 L623.5,632.6 L624.5,633.0 L625.5,633.5 L626.5,634.0 L627.5,634.6 L628.5,635.2 L629.5,635.9 L630.5,636.7 L631.5,637.5 L632.5,638.4 L633.5,639.3 L634.5,640.3 L635.5,641.4 L636.5,642.5 L637.5,643.6 L638.5,644.8 L639.5,646.1 L640.5,647.4 L641.5,648.8 L642.5,650.2 L643.5,651.7 L644.5,653.2 L645.5,654.7 L646.5,656.3 L647.5,658.0 L648.5,659.7 L649.5,661.4 L650.5,663.2 L651.5,665.0 L652.5,666.9 L653.5,668.8 L654.5,670.7 L655.5,672.7 L656.5,674.7 L657.5,676.7 L658.5,678.8 L659.5,680.9 L660.5,683.0 L661.5,685.2 L662.5,687.3 L663.5,689.6 L664.5,691.8 L665.5,694.1 L666.5,696.3 L667.5,698.6 L668.5,701.0 L669.5,703.3 L670.5,705.7 L671.5,708.0 L672.5,710.4 L673.5,712.8 L674.5,715.3 L675.5,717.7 L676.5,720.1 L677.5,722.6 L678.5,725.0 L679.5,727.5 L680.5,730.0 L681.5,732.4 L682.5,734.9 L683.5,737.4 L684.5,739.8 L685.5,742.3 L686.5,744.8 L687.5,747.3 L688.5,749.7 L689.5,752.2 L690.5,754.6 L691.5,757.1 L692.5,759.5 L693.5,762.0 L694.5,764.4 L695.5,766.8 L696.5,769.2 L697.5,771.6 L698.5,774.0 L699.5,776.3 L700.5,778.7 L701.5,781.0 L702.5,783.3 L703.5,785.6 L704.5,787.9 L705.5,790.2 L706.5,792.4 L707.5,794.6 L708.5,796.8 L709.5,799.0 L710.5,801.2 L711.5,803.3 L712.5,805.4 L713.5,807.5 L714.5,809.6 L715.5,811.7 L716.5,813.7 L717.5,815.7 L718.5,817.7 L719.5,819.6 L720.5,821.5 L721.5,823.4 L722.5,825.3 L723.5,827.1 L724.5,829.0 L725.5,830.8 L726.5,832.5 L727.5,834.3 L728.5,836.0 L729.5,837.7 L730.5,839.3 L731.5,841.0 L732.5,842.6 L733.5,844.2 L734.5,845.7 L735.5,847.2 L736.5,848.7 L737.5,850.2 L738.5,851.7 L739.5,853.1 L740.5,854.5 L741.5,855.8 L742.5,857.2 L743.5,858.5 L744.5,859.8 L745.5,861.0 L746.5,862.2 L747.5,863.5 L748.5,864.6 L749.5,865.8 L750.5,866.9 L751.5,868.0 L752.5,869.1 L753.5,870.2 L754.5,871.2 L755.5,872.2 L756.5,873.2 L757.5,874.2 L758.5,875.1 L759.5,876.0 L760.5,876.9 L761.5,877.8 L762.5,878.6 L763.5,879.5 L764.5,880.3 L765.5,881.1 L766.5,881.8 L767.5,882.6 L768.5,883.3 L769.5,884.0 L770.5,884.7 L771.5,885.4 L772.5,886.0 L773.5,886.7 L774.5,887.3 L775.5,887.9 L776.5,888.5 L777.5,889.0 L778.5,889.6 L779.5,890.1 L780.5,890.6 L781.5,891.1 L782.5,891.6 L783.5,892.1 L784.5,892.6 L785.5,893.0 L786.5,893.4 L787.5,893.9 L788.5,894.3 L789.5,894.7 L790.5,895.0 L791.5,895.4 L792.5,895.8 L793.5,896.1 L794.5,896.4 L795.5,896.7 L796.5,897.1 L797.5,897.4 L798.5,897.6 L799.5,897.9 L800.5,898.2 L801.5,898.5 L802.5,898.7 L803.5,899.0 L804.5,899.2 L805.5,899.4 L806.5,899.6 L807.5,899.9 L808.5,900.1 L809.5,900.2 L810.5,900.4 L811.5,900.6 L812.5,900.8 L813.5,901.0 L814.5,901.1 L815.5,901.3 L816.5,901.4 L817.5,901.6 L818.5,901.7 L819.5,901.9 L820.5,902.0 L821.5,902.1 L822.5,902.2 L823.5,902.3 L824.5,902.4 L825.5,902.6 L826.5,902.7 L827.5,902.8 L828.5,902.8 L829.5,902.9 L830.5,903.0 L831.5,903.1 L832.5,903.2 L833.5,903.3 L834.5,903.3 L835.5,903.4 L836.5,903.5 L837.5,903.5 L838.5,903.6 L839.5,903.7 L840.5,903.7 L841.5,903.8 L842.5,903.8 L843.5,903.9 L844.5,903.9 L845.5,904.0 L846.5,904.0 L847.5,904.0 L848.5,904.1 L849.5,904.1 L850.5,904.2 L851.5,904.2 L852.5,904.2 L853.5,904.3 L854.5,904.3 L855.5,904.3 L856.5,904.3 L857.5,904.4 L858.5,904.4 L859.5,904.4 L860.5,904.4 L861.5,904.5 L862.5,904.5 L863.5,904.5 L864.5,904.5 L865.5,904.5 L866.5,904.6 L867.5,904.6 L868.5,904.6 L869.5,904.6 L870.5,904.6 L871.5,904.6 L872.5,904.7 L873.5,904.7 L874.5,904.7 L875.5,904.7 L876.5,904.7 L877.5,904.7 L878.5,904.7 L879.5,904.7 L880.5,904.7 L881.5,904.8 L882.5,904.8 L883.5,904.8 L884.5,904.8 L885.5,904.8 L886.5,904.8 L887.5,904.8 L888.5,904.8 L889.5,904.8 L890.5,904.8 L891.5,904.8 L892.5,904.8 L893.5,904.8 L894.5,904.8 L895.5,904.8 L896.5,904.9 L897.5,904.9 L898.5,904.9 L899.5,904.9 L900.5,904.9 L901.5,904.9 L902.5,904.9 L903.5,904.9 L904.5,904.9 L905.5,904.9 L906.5,904.9 L907.5,904.9 L908.5,904.9 L909.5,904.9 L910.5,904.9 L911.5,904.9 L912.5,904.9 L913.5,904.9 L914.5,904.9 L915.5,904.9 L916.5,904.9 L917.5,904.9 L918.5,904.9 L919.5,904.9 L920.5,904.9 L921.5,904.9 L922.5,904.9 L923.5,904.9 L924.5,904.9 L925.5,904.9 L926.5,904.9 L927.5,904.9 L928.5,904.9 L929.5,904.9 L930.5,905.0 L931.5,905.0 L932.5,905.0 L933.5,905.0 L934.5,905.0 L935.5,905.0 L936.5,905.0 L937.5,905.0 L938.5,905.0 L939.5,905.0 L940.5,905.0 L941.5,905.0 L942.5,905.0 L943.5,905.0 L944.5,905.0 L945.5,905.0 L946.5,905.0 L947.5,905.0 L948.5,905.0 L949.5,905.0 L950.5,905.0 L951.5,905.0 L952.5,905.0 L953.5,905.0 L954.5,905.0 L955.5,905.0 L956.5,905.0 L957.5,905.0 L958.5,905.0 L959.5,905.0 L960.5,905.0 L961.5,905.0 L962.5,905.0 L963.5,905.0 L964.5,905.0 L965.5,905.0 L966.5,905.0 L967.5,905.0 L968.5,905.0 L969.5,905.0 L970.5,905.0 L971.5,905.0 L972.5,905.0 L973.5,905.0 L974.5,905.0 L975.5,905.0" stroke="#ff0000" stroke-width="2.5"/>
<path d="M78.5,905.2 L79.5,905.2 L80.5,905.2 L81.5,905.2 L82.5,905.2 L83.5,905.2 L84.5,905.2 L85.5,905.2 L86.5,905.2 L87.5,905.2 L88.5,905.2 L89.5,905.2 L90.5,905.2 L91.5,905.2 L92.5,905.2 L93.5,905.2 L94.5,905.2 L95.5,905.2 L96.5,905.2 L97.5,905.2 L98.5,905.2 L99.5,905.2 L100.5,905.2 L101.5,905.2 L102.5,905.2 L103.5,905.2 L104.5,905.2 L105.5,905.2 L106.5,905.2 L107.5,905.2 L108.5,905.2 L109.5,905.2 L110.5,905.2 L111.5,905.2 L112.5,905.2 L113.5,905.2 L114.5,905.2 L115.5,905.2 L116.5,905.2 L117.5,905.2 L118.5,905.2 L119.5,905.2 L120.5,905.2 L121.5,905.2 L122.5,905.2 L123.5,905.2 L124.5,905.2 L125.5,905.2 L126.5,905.2 L127.5,905.2 L128.5,905.2 L129.5,905.2 L130.5,905.2 L131.5,905.2 L132.5,905.2 L133.5,905.2 L134.5,905.2 L135.5,905.2 L136.5,905.2 L137.5,905.2 L138.5,905.2 L139.5,905.2 L140.5,905.2 L141.5,905.2 L142.5,905.2 L143.5,905.2 L144.5,905.1 L145.5,905.1 L146.5,905.1 L147.5,905.1 L148.5,905.1 L149.5,905.1 L150.5,905.1 L151.5,905.1 L152.5,905.1 L153.5,905.1 L154.5,905.1 L155.5,905.1 L156.5,905.0 L157.5,905.0 L158.5,905.0 L159.5,905.0 L160.5,905.0 L161.5,905.0 L162.5,905.0 L163.5,904.9 L164.5,904.9 L165.5,904.9 L166.5,904.9 L167.5,904.8 L168.5,904.8 L169.5,904.8 L170.5,904.7 L171.5,904.7 L172.5,904.6 L173.5,904.6 L174.5,904.6 L175.5,904.5 L176.5,904.4 L177.5,904.4 L178.5,904.3 L179.5,904.3 L180.5,904.2 L181.5,904.1 L182.5,904.0 L183.5,903.9 L184.5,903.8 L185.5,903.7 L186.5,903.6 L187.5,903.5 L188.5,903.4 L189.5,903.3 L190.5,903.1 L191.5,903.0 L192.5,902.8 L193.5,902.7 L194.5,902.5 L195.5,902.3 L196.5,902.1 L197.5,901.9 L198.5,901.7 L199.5,901.4 L200.5,901.2 L201.5,900.9 L202.5,900.6 L203.5,900.3 L204.5,900.0 L205.5,899.7 L206.5,899.4 L207.5,899.0 L208.5,898.6 L209.5,898.2 L210.5,897.8 L211.5,897.3 L212.5,896.8 L213.5,896.3 L214.5,895.8 L215.5,895.3 L216.5,894.7 L217.5,894.1 L218.5,893.4 L219.5,892.8 L220.5,892.1 L221.5,891.3 L222.5,890.6 L223.5,889.8 L224.5,888.9 L225.5,888.1 L226.5,887.1 L227.5,886.2 L228.5,885.2 L229.5,884.2 L230.5,883.1 L231.5,882.0 L232.5,880.8 L233.5,879.6 L234.5,878.3 L235.5,877.0 L236.5,875.6 L237.5,874.2 L238.5,872.8 L239.5,871.2 L240.5,869.7 L241.5,868.0 L242.5,866.4 L243.5,864.6 L244.5,862.8 L245.5,861.0 L246.5,859.0 L247.5,857.1 L248.5,855.0 L249.5,852.9 L250.5,850.8 L251.5,848.6 L252.5,846.3 L253.5,843.9 L254.5,841.5 L255.5,839.0 L256.5,836.5 L257.5,833.9 L258.5,831.2 L259.5,828.5 L260.5,825.7 L261.5,822.9 L262.5,820.0 L263.5,817.0 L264.5,813.9 L265.5,810.8 L266.5,807.7 L267.5,804.5 L268.5,801.2 L269.5,797.9 L270.5,794.5 L271.5,791.1 L272.5,787.6 L273.5,784.1 L274.5,780.5 L275.5,776.9 L276.5,773.2 L277.5,769.5 L278.5,765.8 L279.5,762.0 L280.5,758.2 L281.5,754.4 L282.5,750.5 L283.5,746.7 L284.5,742.8 L285.5,738.8 L286.5,734.9 L287.5,731.0 L288.5,727.0 L289.5,723.1 L290.5,719.1 L291.5,715.2 L292.5,711.2 L293.5,707.3 L294.5,703.4 L295.5,699.5 L296.5,695.7 L297.5,691.8 L298.5,688.0 L299.5,684.3 L300.5,680.5 L301.5,676.9 L302.5,673.2 L303.5,669.7 L304.5,666.2 L305.5,662.7 L306.5,659.3 L307.5,656.0 L308.5,652.8 L309.5,649.6 L310.5,646.6 L311.5,643.6 L312.5,640.7 L313.5,637.9 L314.5,635.2 L315.5,632.6 L316.5,630.1 L317.5,627.8 L318.5,625.5 L319.5,623.3 L320.5,621.3 L321.5,619.4 L322.5,617.6 L323.5,615.9 L324.5,614.4 L325.5,613.0 L326.5,611.8 L327.5,610.6 L328.5,609.6 L329.5,608.8 L330.5,608.0 L331.5,607.5 L332.5,607.0 L333.5,606.7 L334.5,606.6 L335.5,606.6 L336.5,606.7 L337.5,607.0 L338.5,607.4 L339.5,608.0 L340.5,608.7 L341.5,609.6 L342.5,610.6 L343.5,611.8 L344.5,613.1 L345.5,614.5 L346.5,616.1 L347.5,617.8 L348.5,619.7 L349.5,621.6 L350.5,623.7 L351.5,626.0 L352.5,628.3 L353.5,630.8 L354.5,633.4 L355.5,636.1 L356.5,638.8 L357.5,641.7 L358.5,644.7 L359.5,647.8 L360.5,651.0 L361.5,654.3 L362.5,657.6 L363.5,661.1 L364.5,664.6 L365.5,668.1 L366.5,671.8 L367.5,675.5 L368.5,679.2 L369.5,683.0 L370.5,686.8 L371.5,690.7 L372.5,694.6 L373.5,698.6 L374.5,702.6 L375.5,706.6 L376.5,710.6 L377.5,714.6 L378.5,718.6 L379.5,722.7 L380.5,726.7 L381.5,730.8 L382.5,734.8 L383.5,738.8 L384.5,742.9 L385.5,746.9 L386.5,750.8 L387.5,754.8 L388.5,758.7 L389.5,762.6 L390.5,766.5 L391.5,770.3 L392.5,774.1 L393.5,777.8 L394.5,781.5 L395.5,785.1 L396.5,788.7 L397.5,792.3 L398.5,795.8 L399.5,799.2 L400.5,802.6 L401.5,805.9 L402.5,809.2 L403.5,812.4 L404.5,815.5 L405.5,818.6 L406.5,821.6 L407.5,824.6 L408.5,827.4 L409.5,830.3 L410.5,833.0 L411.5,835.7 L412.5,838.3 L413.5,840.9 L414.5,843.4 L415.5,845.8 L416.5,848.1 L417.5,850.4 L418.5,852.6 L419.5,854.8 L420.5,856.9 L421.5,858.9 L422.5,860.9 L423.5,862.8 L424.5,864.6 L425.5,866.4 L426.5,868.1 L427.5,869.8 L428.5,871.4 L429.5,872.9 L430.5,874.4 L431.5,875.9 L432.5,877.3 L433.5,878.6 L434.5,879.9 L435.5,881.1 L436.5,882.3 L437.5,883.4 L438.5,884.5 L439.5,885.6 L440.5,886.6 L441.5,887.5 L442.5,888.4 L443.5,889.3 L444.5,890.2 L445.5,891.0 L446.5,891.7 L447.5,892.5 L448.5,893.2 L449.5,893.8 L450.5,894.5 L451.5,895.1 L452.5,895.6 L453.5,896.2 L454.5,896.7 L455.5,897.2 L456.5,897.7 L457.5,898.1 L458.5,898.5 L459.5,898.9 L460.5,899.3 L461.5,899.7 L462.5,900.0 L463.5,900.3 L464.5,900.6 L465.5,900.9 L466.5,901.2 L467.5,901.5 L468.5,901.7 L469.5,901.9 L470.5,902.1 L471.5,902.3 L472.5,902.5 L473.5,902.7 L474.5,902.9 L475.5,903.0 L476.5,903.2 L477.5,903.3 L478.5,903.4 L479.5,903.6 L480.5,903.7 L481.5,903.8 L482.5,903.9 L483.5,904.0 L484.5,904.1 L485.5,904.1 L486.5,904.2 L487.5,904.3 L488.5,904.4 L489.5,904.4 L490.5,904.5 L491.5,904.5 L492.5,904.6 L493.5,904.6 L494.5,904.7 L495.5,904.7 L496.5,904.8 L497.5,904.8 L498.5,904.8 L499.5,904.9 L500.5,904.9 L501.5,904.9 L502.5,904.9 L503.5,904.9 L504.5,905.0 L505.5,905.0 L506.5,905.0 L507.5,905.0 L508.5,905.0 L509.5,905.0 L510.5,905.1 L511.5,905.1 L512.5,905.1 L513.5,905.1 L514.5,905.1 L515.5,905.1 L516.5,905.1 L517.5,905.1 L518.5,905.1 L519.5,905.1 L520.5,905.1 L521.5,905.1 L522.5,905.2 L523.5,905.2 L524.5,905.2 L525.5,905.2 L526.5,905.2 L527.5,905.2 L528.5,905.2 L529.5,905.2 L530.5,905.2 L531.5,905.2 L532.5,905.2 L533.5,905.2 L534.5,905.2 L535.5,905.2 L536.5,905.2 L537.5,905.2 L538.5,905.2 L539.5,905.2 L540.5,905.2 L541.5,905.2 L542.5,905.2 L543.5,905.2 L544.5,905.2 L545.5,905.2 L546.5,905.2 L547.5,905.2 L548.5,905.2 L549.5,905.2 L550.5,905.2 L551.5,905.2 L552.5,905.2 L553.5,905.2 L554.5,905.2 L555.5,905.2 L556.5,905.2 L557.5,905.2 L558.5,905.2 L559.5,905.2 L560.5,905.2 L561.5,905.2 L562.5,905.2 L563.5,905.2 L564.5,905.2 L565.5,905.2 L566.5,905.2 L567.5,905.2 L568.5,905.2 L569.5,905.2 L570.5,905.2 L571.5,905.2 L572.5,905.2 L573.5,905.2 L574.5,905.2 L575.5,905.2 L576.5,905.2 L577.5,905.2 L578.5,905.2 L579.5,905.2 L580.5,905.2 L581.5,905.2 L582.5,905.2 L583.5,905.2 L584.5,905.2 L585.5,905.2 L586.5,905.2 L587.5,905.2 L588.5,905.2 L589.5,905.2 L590.5,905.2 L591.5,905.2 L592.5,905.2 L593.5,905.2 L594.5,905.2 L595.5,905.2 L596.5,905.2 L597.5,905.2 L598.5,905.2 L599.5,905.2 L600.5,905.2 L601.5,905.2 L602.5,905.2 L603.5,905.2 L604.5,905.2 L605.5,905.2 L606.5,905.2 L607.5,905.2 L608.5,905.2 L609.5,905.2 L610.5,905.2 L611.5,905.2 L612.5,905.2 L613.5,905.2 L614.5,905.2 L615.5,905.2 L616.5,905.2 L617.5,905.2 L618.5,905.2 L619.5,905.2 L620.5,905.2 L621.5,905.2 L622.5,905.2 L623.5,905.2 L624.5,905.2 L625.5,905.2 L626.5,905.2 L627.5,905.2 L628.5,905.2 L629.5,905.2 L630.5,905.2 L631.5,905.2 L632.5,905.2 L633.5,905.2 L634.5,905.2 L635.5,905.2 L636.5,905.2 L637.5,905.2 L638.5,905.2 L639.5,905.2 L640.5,905.2 L641.5,905.2 L642.5,905.2 L643.5,905.2 L644.5,905.2 L645.5,905.2 L646.5,905.2 L647.5,905.2 L648.5,905.2 L649.5,905.2 L650.5,905.2 L651.5,905.2 L652.5,905.2 L653.5,905.2 L654.5,905.2 L655.5,905.2 L656.5,905.2 L657.5,905.2 L658.5,905.2 L659.5,905.2 L660.5,905.2 L661.5,905.2 L662.5,905.2 L663.5,905.2 L664.5,905.2 L665.5,905.2 L666.5,905.2 L667.5,905.2 L668.5,905.2 L669.5,905.2 L670.5,905.2 L671.5,905.2 L672.5,905.2 L673.5,905.2 L674.5,905.2 L675.5,905.2 L676.5,905.2 L677.5,905.2 L678.5,905.2 L679.5,905.2 L680.5,905.2 L681.5,905.2 L682.5,905.2 L683.5,905.2 L684.5,905.2 L685.5,905.2 L686.5,905.2 L687.5,905.2 L688.5,905.2 L689.5,905.2 L690.5,905.2 L691.5,905.2 L692.5,905.2 L693.5,905.2 L694.5,905.2 L695.5,905.2 L696.5,905.2 L697.5,905.2 L698.5,905.2 L699.5,905.2 L700.5,905.2 L701.5,905.2 L702.5,905.2 L703.5,905.2 L704.5,905.2 L705.5,905.2 L706.5,905.2 L707.5,905.2 L708.5,905.2 L709.5,905.2 L710.5,905.2 L711.5,905.2 L712.5,905.2 L713.5,905.2 L714.5,905.2 L715.5,905.2 L716.5,905.2 L717.5,905.2 L718.5,905.2 L719.5,905.2 L720.5,905.2 L721.5,905.2 L722.5,905.2 L723.5,905.2 L724.5,905.2 L725.5,905.2 L726.5,905.2 L727.5,905.2 L728.5,905.2 L729.5,905.2 L730.5,905.2 L731.5,905.2 L732.5,905.2 L733.5,905.2 L734.5,905.2 L735.5,905.2 L736.5,905.2 L737.5,905.2 L738.5,905.2 L739.5,905.2 L740.5,905.2 L741.5,905.2 L742.5,905.2 L743.5,905.2 L744.5,905.2 L745.5,905.2 L746.5,905.2 L747.5,905.2 L748.5,905.2 L749.5,905.2 L750.5,905.2 L751.5,905.2 L752.5,905.2 L753.5,905.2 L754.5,905.2 L755.5,905.2 L756.5,905.2 L757.5,905.2 L758.5,905.2 L759.5,905.2 L760.5,905.2 L761.5,905.2 L762.5,905.2 L763.5,905.2 L764.5,905.2 L765.5,905.2 L766.5,905.2 L767.5,905.2 L768.5,905.2 L769.5,905.2 L770.5,905.2 L771.5,905.2 L772.5,905.2 L773.5,905.2 L774.5,905.2 L775.5,905.2 L776.5,905.2 L777.5,905.2 L778.5,905.2 L779.5,905.2 L780.5,905.2 L781.5,905.2 L782.5,905.2 L783.5,905.2 L784.5,905.2 L785.5,905.2 L786.5,905.2 L787.5,905.2 L788.5,905.2 L789.5,905.2 L790.5,905.2 L791.5,905.2 L792.5,905.2 L793.5,905.2 L794.5,905.2 L795.5,905.2 L796.5,905.2 L797.5,905.2 L798.5,905.2 L799.5,905.2 L800.5,905.2 L801.5,905.2 L802.5,905.2 L803.5,905.2 L804.5,905.2 L805.5,905.2 L806.5,905.2 L807.5,905.2 L808.5,905.2 L809.5,905.2 L810.5,905.2 L811.5,905.2 L812.5,905.2 L813.5,905.2 L814.5,905.2 L815.5,905.2 L816.5,905.2 L817.5,905.2 L818.5,905.2 L819.5,905.2 L820.5,905.2 L821.5,905.2 L822.5,905.2 L823.5,905.2 L824.5,905.2 L825.5,905.2 L826.5,905.2 L827.5,905.2 L828.5,905.2 L829.5,905.2 L830.5,905.2 L831.5,905.2 L832.5,905.2 L833.5,905.2 L834.5,905.2 L835.5,905.2 L836.5,905.2 L837.5,905.2 L838.5,905.2 L839.5,905.2 L840.5,905.2 L841.5,905.2 L842.5,905.2 L843.5,905.2 L844.5,905.2 L845.5,905.2 L846.5,905.2 L847.5,905.2 L848.5,905.2 L849.5,905.2 L850.5,905.2 L851.5,905.2 L852.5,905.2 L853.5,905.2 L854.5,905.2 L855.5,905.2 L856.5,905.2 L857.5,905.2 L858.5,905.2 L859.5,905.2 L860.5,905.2 L861.5,905.2 L862.5,905.2 L863.5,905.2 L864.5,905.2 L865.5,905.2 L866.5,905.2 L867.5,905.2 L868.5,905.2 L869.5,905.2 L870.5,905.2 L871.5,905.2 L872.5,905.2 L873.5,905.2 L874.5,905.2 L875.5,905.2 L876.5,905.2 L877.5,905.2 L878.5,905.2 L879.5,905.2 L880.5,905.2 L881.5,905.2 L882.5,905.2 L883.5,905.2 L884.5,905.2 L885.5,905.2 L886.5,905.2 L887.5,905.2 L888.5,905.2 L889.5,905.2 L890.5,905.2 L891.5,905.2 L892.5,905.2 L893.5,905.2 L894.5,905.2 L895.5,905.2 L896.5,905.2 L897.5,905.2 L898.5,905.2 L899.5,905.2 L900.5,905.2 L901.5,905.2 L902.5,905.2 L903.5,905.2 L904.5,905.2 L905.5,905.2 L906.5,905.2 L907.5,905.2 L908.5,905.2 L909.5,905.2 L910.5,905.2 L911.5,905.2 L912.5,905.2 L913.5,905.2 L914.5,905.2 L915.5,905.2 L916.5,905.2 L917.5,905.2 L918.5,905.2 L919.5,905.2 L920.5,905.2 L921.5,905.2 L922.5,905.2 L923.5,905.2 L924.5,905.2 L925.5,905.2 L926.5,905.2 L927.5,905.2 L928.5,905.2 L929.5,905.2 L930.5,905.2 L931.5,905.2 L932.5,905.2 L933.5,905.2 L934.5,905.2 L935.5,905.2 L936.5,905.2 L937.5,905.2 L938.5,905.2 L939.5,905.2 L940.5,905.2 L941.5,905.2 L942.5,905.2 L943.5,905.2 L944.5,905.2 L945.5,905.2 L946.5,905.2 L947.5,905.2 L948.5,905.2 L949.5,905.2 L950.5,905.2 L951.5,905.2 L952.5,905.2 L953.5,905.2 L954.5,905.2 L955.5,905.2 L956.5,905.2 L957.5,905.2 L958.5,905.2 L959.5,905.2 L960.5,905.2 L961.5,905.2 L962.5,905.2 L963.5,905.2 L964.5,905.2 L965.5,905.2 L966.5,905.2 L967.5,905.2 L968.5,905.2 L969.5,905.2 L970.5,905.2 L971.5,905.2 L972.5,905.2 L973.5,905.2 L974.5,905.2 L975.5,905.2" stroke="#0000ff" stroke-width="2.5"/>
<path d="M78.5,904.9 L79.5,904.9 L80.5,904.9 L81.5,904.9 L82.5,904.9 L83.5,904.9 L84.5,904.9 L85.5,904.9 L86.5,904.9 L87.5,904.9 L88.5,904.9 L89.5,904.9 L90.5,904.9 L91.5,904.9 L92.5,904.9 L93.5,904.9 L94.5,904.9 L95.5,904.9 L96.5,904.9 L97.5,904.9 L98.5,904.9 L99.5,904.9 L100.5,904.9 L101.5,904.9 L102.5,904.9 L103.5,904.9 L104.5,904.9 L105.5,904.9 L106.5,904.9 L107.5,904.9 L108.5,904.9 L109.5,904.9 L110.5,904.9 L111.5,904.9 L112.5,904.9 L113.5,904.9 L114.5,904.9 L115.5,904.9 L116.5,904.9 L117.5,904.9 L118.5,904.9 L119.5,904.9 L120.5,904.9 L121.5,904.9 L122.5,904.9 L123.5,904.9 L124.5,904.9 L125.5,904.9 L126.5,904.9 L127.5,904.9 L128.5,904.9 L129.5,904.9 L130.5,904.9 L131.5,904.9 L132.5,904.9 L133.5,904.9 L134.5,904.9 L135.5,904.9 L136.5,904.9 L137.5,904.9 L138.5,904.9 L139.5,904.9 L140.5,904.9 L141.5,904.9 L142.5,904.9 L143.5,904.9 L144.5,904.9 L145.5,904.9 L146.5,904.9 L147.5,904.9 L148.5,904.9 L149.5,904.9 L150.5,904.9 L151.5,904.9 L152.5,904.9 L153.5,904.9 L154.5,904.8 L155.5,904.8 L156.5,904.8 L157.5,904.8 L158.5,904.8 L159.5,904.8 L160.5,904.8 L161.5,904.8 L162.5,904.8 L163.5,904.8 L164.5,904.8 L165.5,904.8 L166.5,904.8 L167.5,904.8 L168.5,904.8 L169.5,904.8 L170.5,904.8 L171.5,904.8 L172.5,904.8 L173.5,904.8 L174.5,904.8 L175.5,904.8 L176.5,904.8 L177.5,904.8 L178.5,904.8 L179.5,904.8 L180.5,904.8 L181.5,904.8 L182.5,904.8 L183.5,904.8 L184.5,904.8 L185.5,904.8 L186.5,904.8 L187.5,904.8 L188.5,904.8 L189.5,904.8 L190.5,904.8 L191.5,904.8 L192.5,904.8 L193.5,904.8 L194.5,904.8 L195.5,904.8 L196.5,904.8 L197.5,904.8 L198.5,904.8 L199.5,904.8 L200.5,904.8 L201.5,904.8 L202.5,904.8 L203.5,904.8 L204.5,904.8 L205.5,904.8 L206.5,904.8 L207.5,904.8 L208.5,904.8 L209.5,904.8 L210.5,904.8 L211.5,904.8 L212.5,904.8 L213.5,904.8 L214.5,904.8 L215.5,904.8 L216.5,904.8 L217.5,904.8 L218.5,904.8 L219.5,904.8 L220.5,904.8 L221.5,904.8 L222.5,904.8 L223.5,904.8 L224.5,904.8 L225.5,904.8 L226.5,904.8 L227.5,904.8 L228.5,904.8 L229.5,904.8 L230.5,904.8 L231.5,904.8 L232.5,904.8 L233.5,904.8 L234.5,904.8 L235.5,904.8 L236.5,904.8 L237.5,904.7 L238.5,904.7 L239.5,904.7 L240.5,904.7 L241.5,904.7 L242.5,904.7 L243.5,904.7 L244.5,904.7 L245.5,904.7 L246.5,904.7 L247.5,904.7 L248.5,904.7 L249.5,904.7 L250.5,904.7 L251.5,904.7 L252.5,904.7 L253.5,904.7 L254.5,904.7 L255.5,904.7 L256.5,904.7 L257.5,904.7 L258.5,904.7 L259.5,904.7 L260.5,904.7 L261.5,904.7 L262.5,904.7 L263.5,904.7 L264.5,904.7 L265.5,904.7 L266.5,904.7 L267.5,904.7 L268.5,904.7 L269.5,904.7 L270.5,904.7 L271.5,904.7 L272.5,904.7 L273.5,904.7 L274.5,904.7 L275.5,904.7 L276.5,904.7 L277.5,904.7 L278.5,904.7 L279.5,904.7 L280.5,904.7 L281.5,904.7 L282.5,904.7 L283.5,904.7 L284.5,904.7 L285.5,904.7 L286.5,904.7 L287.5,904.7 L288.5,904.7 L289.5,904.7 L290.5,904.7 L291.5,904.7 L292.5,904.7 L293.5,904.7 L294.5,904.7 L295.5,904.7 L296.5,904.6 L297.5,904.6 L298.5,904.6 L299.5,904.6 L300.5,904.6 L301.5,904.6 L302.5,904.6 L303.5,904.6 L304.5,904.6 L305.5,904.6 L306.5,904.6 L307.5,904.6 L308.5,904.6 L309.5,904.6 L310.5,904.6 L311.5,904.6 L312.5,904.6 L313.5,904.6 L314.5,904.6 L315.5,904.6 L316.5,904.6 L317.5,904.6 L318.5,904.6 L319.5,904.6 L320.5,904.6 L321.5,904.6 L322.5,904.6 L323.5,904.6 L324.5,904.6 L325.5,904.6 L326.5,904.6 L327.5,904.6 L328.5,904.6 L329.5,904.6 L330.5,904.6 L331.5,904.6 L332.5,904.6 L333.5,904.6 L334.5,904.6 L335.5,904.6 L336.5,904.6 L337.5,904.6 L338.5,904.6 L339.5,904.6 L340.5,904.5 L341.5,904.5 L342.5,904.5 L343.5,904.5 L344.5,904.5 L345.5,904.5 L346.5,904.5 L347.5,904.5 L348.5,904.5 L349.5,904.5 L350.5,904.5 L351.5,904.5 L352.5,904.5 L353.5,904.5 L354.5,904.5 L355.5,904.5 L356.5,904.5 L357.5,904.5 L358.5,904.5 L359.5,904.5 L360.5,904.5 L361.5,904.5 L362.5,904.5 L363.5,904.5 L364.5,904.5 L365.5,904.5 L366.5,904.5 L367.5,904.5 L368.5,904.5 L369.5,904.5 L370.5,904.5 L371.5,904.5 L372.5,904.5 L373.5,904.5 L374.5,904.5 L375.5,904.5 L376.5,904.4 L377.5,904.4 L378.5,904.4 L379.5,904.4 L380.5,904.4 L381.5,904.4 L382.5,904.4 L383.5,904.4 L384.5,904.4 L385.5,904.4 L386.5,904.4 L387.5,904.4 L388.5,904.4 L389.5,904.4 L390.5,904.4 L391.5,904.4 L392.5,904.4 L393.5,904.4 L394.5,904.4 L395.5,904.4 L396.5,904.4 L397.5,904.4 L398.5,904.4 L399.5,904.4 L400.5,904.4 L401.5,904.4 L402.5,904.4 L403.5,904.4 L404.5,904.4 L405.5,904.3 L406.5,904.3 L407.5,904.3 L408.5,904.3 L409.5,904.3 L410.5,904.3 L411.5,904.3 L412.5,904.3 L413.5,904.3 L414.5,904.3 L415.5,904.3 L416.5,904.3 L417.5,904.3 L418.5,904.3 L419.5,904.3 L420.5,904.3 L421.5,904.3 L422.5,904.3 L423.5,904.3 L424.5,904.3 L425.5,904.3 L426.5,904.3 L427.5,904.3 L428.5,904.3 L429.5,904.3 L430.5,904.2 L431.5,904.2 L432.5,904.2 L433.5,904.2 L434.5,904.2 L435.5,904.2 L436.5,904.2 L437.5,904.2 L438.5,904.2 L439.5,904.2 L440.5,904.2 L441.5,904.2 L442.5,904.2 L443.5,904.2 L444.5,904.2 L445.5,904.2 L446.5,904.2 L447.5,904.2 L448.5,904.2 L449.5,904.2 L450.5,904.1 L451.5,904.1 L452.5,904.1 L453.5,904.1 L454.5,904.1 L455.5,904.1 L456.5,904.1 L457.5,904.1 L458.5,904.1 L459.5,904.1 L460.5,904.1 L461.5,904.1 L462.5,904.1 L463.5,904.1 L464.5,904.1 L465.5,904.1 L466.5,904.1 L467.5,904.1 L468.5,904.1 L469.5,904.0 L470.5,904.0 L471.5,904.0 L472.5,904.0 L473.5,904.0 L474.5,904.0 L475.5,904.0 L476.5,904.0 L477.5,904.0 L478.5,904.0 L479.5,904.0 L480.5,904.0 L481.5,904.0 L482.5,904.0 L483.5,904.0 L484.5,903.9 L485.5,903.9 L486.5,903.9 L487.5,903.9 L488.5,903.9 L489.5,903.9 L490.5,903.9 L491.5,903.9 L492.5,903.9 L493.5,903.9 L494.5,903.9 L495.5,903.9 L496.5,903.9 L497.5,903.9 L498.5,903.9 L499.5,903.8 L500.5,903.8 L501.5,903.8 L502.5,903.8 L503.5,903.8 L504.5,903.8 L505.5,903.8 L506.5,903.8 L507.5,903.8 L508.5,903.8 L509.5,903.8 L510.5,903.8 L511.5,903.7 L512.5,903.7 L513.5,903.7 L514.5,903.7 L515.5,903.7 L516.5,903.7 L517.5,903.7 L518.5,903.7 L519.5,903.7 L520.5,903.7 L521.5,903.7 L522.5,903.7 L523.5,903.6 L524.5,903.6 L525.5,903.6 L526.5,903.6 L527.5,903.6 L528.5,903.6 L529.5,903.6 L530.5,903.6 L531.5,903.6 L532.5,903.6 L533.5,903.5 L534.5,903.5 L535.5,903.5 L536.5,903.5 L537.5,903.5 L538.5,903.5 L539.5,903.5 L540.5,903.5 L541.5,903.5 L542.5,903.5 L543.5,903.4 L544.5,903.4 L545.5,903.4 L546.5,903.4 L547.5,903.4 L548.5,903.4 L549.5,903.4 L550.5,903.4 L551.5,903.3 L552.5,903.3 L553.5,903.3 L554.5,903.3 L555.5,903.3 L556.5,903.3 L557.5,903.3 L558.5,903.3 L559.5,903.2 L560.5,903.2 L561.5,903.2 L562.5,903.2 L563.5,903.2 L564.5,903.2 L565.5,903.2 L566.5,903.1 L567.5,903.1 L568.5,903.1 L569.5,903.1 L570.5,903.1 L571.5,903.1 L572.5,903.1 L573.5,903.0 L574.5,903.0 L575.5,903.0 L576.5,903.0 L577.5,903.0 L578.5,903.0 L579.5,902.9 L580.5,902.9 L581.5,902.9 L582.5,902.9 L583.5,902.9 L584.5,902.8 L585.5,902.8 L586.5,902.8 L587.5,902.8 L588.5,902.8 L589.5,902.8 L590.5,902.7 L591.5,902.7 L592.5,902.7 L593.5,902.7 L594.5,902.6 L595.5,902.6 L596.5,902.6 L597.5,902.6 L598.5,902.5 L599.5,902.5 L600.5,902.5 L601.5,902.5 L602.5,902.4 L603.5,902.4 L604.5,902.4 L605.5,902.4 L606.5,902.3 L607.5,902.3 L608.5,902.3 L609.5,902.2 L610.5,902.2 L611.5,902.2 L612.5,902.1 L613.5,902.1 L614.5,902.1 L615.5,902.0 L616.5,902.0 L617.5,902.0 L618.5,901.9 L619.5,901.9 L620.5,901.8 L621.5,901.8 L622.5,901.8 L623.5,901.7 L624.5,901.7 L625.5,901.6 L626.5,901.6 L627.5,901.5 L628.5,901.5 L629.5,901.4 L630.5,901.4 L631.5,901.3 L632.5,901.2 L633.5,901.2 L634.5,901.1 L635.5,901.1 L636.5,901.0 L637.5,900.9 L638.5,900.9 L639.5,900.8 L640.5,900.7 L641.5,900.6 L642.5,900.6 L643.5,900.5 L644.5,900.4 L645.5,900.3 L646.5,900.2 L647.5,900.1 L648.5,900.0 L649.5,899.9 L650.5,899.8 L651.5,899.7 L652.5,899.6 L653.5,899.5 L654.5,899.4 L655.5,899.3 L656.5,899.1 L657.5,899.0 L658.5,898.9 L659.5,898.7 L660.5,898.6 L661.5,898.5 L662.5,898.3 L663.5,898.2 L664.5,898.0 L665.5,897.8 L666.5,897.7 L667.5,897.5 L668.5,897.3 L669.5,897.1 L670.5,896.9 L671.5,896.7 L672.5,896.5 L673.5,896.3 L674.5,896.1 L675.5,895.9 L676.5,895.6 L677.5,895.4 L678.5,895.2 L679.5,894.9 L680.5,894.7 L681.5,894.4 L682.5,894.1 L683.5,893.8 L684.5,893.5 L685.5,893.2 L686.5,892.9 L687.5,892.6 L688.5,892.3 L689.5,891.9 L690.5,891.6 L691.5,891.2 L692.5,890.9 L693.5,890.5 L694.5,890.1 L695.5,889.7 L696.5,889.3 L697.5,888.9 L698.5,888.4 L699.5,888.0 L700.5,887.6 L701.5,887.1 L702.5,886.6 L703.5,886.1 L704.5,885.6 L705.5,885.1 L706.5,884.6 L707.5,884.0 L708.5,883.5 L709.5,882.9 L710.5,882.3 L711.5,881.7 L712.5,881.1 L713.5,880.5 L714.5,879.9 L715.5,879.2 L716.5,878.5 L717.5,877.9 L718.5,877.2 L719.5,876.5 L720.5,875.7 L721.5,875.0 L722.5,874.2 L723.5,873.5 L724.5,872.7 L725.5,871.9 L726.5,871.0 L727.5,870.2 L728.5,869.4 L729.5,868.5 L730.5,867.6 L731.5,866.7 L732.5,865.8 L733.5,864.8 L734.5,863.9 L735.5,862.9 L736.5,861.9 L737.5,860.9 L738.5,859.9 L739.5,858.9 L740.5,857.8 L741.5,856.8 L742.5,855.7 L743.5,854.6 L744.5,853.5 L745.5,852.4 L746.5,851.2 L747.5,850.1 L748.5,848.9 L749.5,847.7 L750.5,846.5 L751.5,845.3 L752.5,844.0 L753.5,842.8 L754.5,841.5 L755.5,840.2 L756.5,839.0 L757.5,837.7 L758.5,836.3 L759.5,835.0 L760.5,833.7 L761.5,832.3 L762.5,830.9 L763.5,829.6 L764.5,828.2 L765.5,826.8 L766.5,825.4 L767.5,824.0 L768.5,822.5 L769.5,821.1 L770.5,819.7 L771.5,818.2 L772.5,816.7 L773.5,815.3 L774.5,813.8 L775.5,812.3 L776.5,810.9 L777.5,809.4 L778.5,807.9 L779.5,806.4 L780.5,804.9 L781.5,803.4 L782.5,801.9 L783.5,800.4 L784.5,798.9 L785.5,797.4 L786.5,795.9 L787.5,794.4 L788.5,793.0 L789.5,791.5 L790.5,790.0 L791.5,788.5 L792.5,787.1 L793.5,785.6 L794.5,784.2 L795.5,782.7 L796.5,781.3 L797.5,779.9 L798.5,778.5 L799.5,777.1 L800.5,775.7 L801.5,774.4 L802.5,773.0 L803.5,771.7 L804.5,770.4 L805.5,769.1 L806.5,767.8 L807.5,766.5 L808.5,765.3 L809.5,764.1 L810.5,762.9 L811.5,761.7 L812.5,760.6 L813.5,759.5 L814.5,758.4 L815.5,757.3 L816.5,756.3 L817.5,755.3 L818.5,754.3 L819.5,753.4 L820.5,752.4 L821.5,751.6 L822.5,750.7 L823.5,749.9 L824.5,749.1 L825.5,748.4 L826.5,747.7 L827.5,747.0 L828.5,746.4 L829.5,745.8 L830.5,745.2 L831.5,744.7 L832.5,744.2 L833.5,743.8 L834.5,743.4 L835.5,743.0 L836.5,742.7 L837.5,742.4 L838.5,742.2 L839.5,742.0 L840.5,741.9 L841.5,741.8 L842.5,741.7 L843.5,741.7 L844.5,741.7 L845.5,741.8 L846.5,742.0 L847.5,742.2 L848.5,742.4 L849.5,742.7 L850.5,743.0 L851.5,743.4 L852.5,743.9 L853.5,744.4 L854.5,744.9 L855.5,745.5 L856.5,746.1 L857.5,746.8 L858.5,747.5 L859.5,748.3 L860.5,749.1 L861.5,750.0 L862.5,750.9 L863.5,751.8 L864.5,752.8 L865.5,753.8 L866.5,754.8 L867.5,755.9 L868.5,757.0 L869.5,758.2 L870.5,759.4 L871.5,760.6 L872.5,761.8 L873.5,763.1 L874.5,764.4 L875.5,765.7 L876.5,767.1 L877.5,768.4 L878.5,769.8 L879.5,771.2 L880.5,772.7 L881.5,774.1 L882.5,775.6 L883.5,777.1 L884.5,778.5 L885.5,780.1 L886.5,781.6 L887.5,783.1 L888.5,784.6 L889.5,786.2 L890.5,787.8 L891.5,789.3 L892.5,790.9 L893.5,792.5 L894.5,794.0 L895.5,795.6 L896.5,797.2 L897.5,798.8 L898.5,800.4 L899.5,802.0 L900.5,803.5 L901.5,805.1 L902.5,806.7 L903.5,808.3 L904.5,809.8 L905.5,811.4 L906.5,812.9 L907.5,814.5 L908.5,816.0 L909.5,817.5 L910.5,819.1 L911.5,820.6 L912.5,822.1 L913.5,823.6 L914.5,825.1 L915.5,826.5 L916.5,828.0 L917.5,829.4 L918.5,830.8 L919.5,832.3 L920.5,833.7 L921.5,835.1 L922.5,836.4 L923.5,837.8 L924.5,839.1 L925.5,840.5 L926.5,841.8 L927.5,843.1 L928.5,844.3 L929.5,845.6 L930.5,846.8 L931.5,848.1 L932.5,849.3 L933.5,850.5 L934.5,851.7 L935.5,852.8 L936.5,854.0 L937.5,855.1 L938.5,856.2 L939.5,857.3 L940.5,858.3 L941.5,859.4 L942.5,860.4 L943.5,861.4 L944.5,862.4 L945.5,863.4 L946.5,864.4 L947.5,865.3 L948.5,866.2 L949.5,867.1 L950.5,868.0 L951.5,868.9 L952.5,869.8 L953.5,870.6 L954.5,871.4 L955.5,872.2 L956.5,873.0 L957.5,873.8 L958.5,874.5 L959.5,875.2 L960.5,876.0 L961.5,876.7 L962.5,877.4 L963.5,878.0 L964.5,878.7 L965.5,879.3 L966.5,879.9 L967.5,880.5 L968.5,881.1 L969.5,881.7 L970.5,882.3 L971.5,882.8 L972.5,883.4 L973.5,883.9 L974.5,884.4 L975.5,884.9" stroke="#0000ff" stroke-width="2.5"/>
<polyline points="65.7,316.2 69.2,390.4 71.9,367.7 74.4,415.1 80.5,398.6 83.6,360.5 86.3,363.6 88.4,387.3 90.8,305.9 93.9,301.8 97.0,372.9 99.5,372.9 102.2,305.9 105.3,357.4 110.4,336.8 113.5,277.1 116.0,345.1 118.9,290.5 121.7,376.0 124.2,315.2 127.1,390.4 130.0,290.5 133.1,365.7 135.5,329.6 138.2,399.7 141.3,325.5 144.0,387.3 146.5,292.5 149.6,345.1 152.6,336.8 160.0,270.0 163.2,292.7 166.3,238.1 171.5,320.5 179.7,278.3 182.4,302.0 185.5,246.4 191.7,265.9 197.2,234.0 199.3,278.3 205.1,170.7 210.1,215.9 216.1,90.3 221.1,135.5 224.1,54.1 226.8,162.6 229.6,78.2 232.2,228.9 238.2,104.3 246.2,222.1 248.7,192.2 254.4,193.3 257.5,275.7 260.2,164.4 263.7,234.5 266.4,234.5 270.9,339.5 274.0,234.5 277.1,298.3 279.6,284.9 282.3,379.0 287.8,289.1 290.5,331.3 293.6,308.6 296.0,318.9 301.4,254.0 307.0,316.9 311.1,280.8 313.8,279.8 316.2,314.8 321.0,222.1 326.5,347.8 331.1,252.0 334.5,312.1 338.2,295.6 343.1,228.6 345.5,347.1 348.6,261.8 351.6,357.4 354.7,308.0 356.8,355.4 359.7,254.8 362.6,330.6 365.7,284.9 368.1,367.7 370.8,268.8 374.3,285.3 379.4,442.0 387.3,302.8 390.2,399.7 393.9,398.6 397.0,395.5 401.1,410.0 406.6,308.0 409.9,434.7 414.5,329.6 418.2,436.7 420.6,333.7 423.7,336.8 425.8,327.6 432.2,404.8 434.3,411.0 437.0,302.8 439.8,445.0 442.5,352.3 445.2,338.9 448.1,290.5 450.8,369.8 453.8,289.4 456.3,429.5 459.4,283.3 462.1,400.7 465.2,377.0 467.2,384.2 469.9,405.8 473.4,335.8 478.6,393.5 486.8,302.8 490.5,390.4 493.0,329.6 496.1,361.5 498.1,245.2 501.2,300.8 503.7,282.2 507.4,318.3 511.5,324.5 514.0,305.9 516.7,324.5 519.6,320.5 522.8,352.9 525.3,288.0 527.8,302.4 531.1,282.9 534.0,302.4 536.6,257.1 539.7,259.2 542.2,242.7 545.5,171.6 548.0,238.6 551.1,239.6 556.2,186.1 558.7,179.9 562.0,218.0 564.4,176.8 567.5,256.1 570.2,250.9 573.1,192.2 575.8,236.5 577.8,226.2 584.0,276.7 586.1,252.0 588.8,265.4 592.3,220.0 597.4,352.9 603.1,276.1 605.8,332.7 608.7,294.0 611.3,359.5 614.0,278.1 617.5,283.3 620.6,307.0 622.7,297.7 625.1,357.4 628.2,282.2 630.9,367.7 633.6,269.9 636.7,382.2 639.1,301.8 642.2,382.2 647.0,289.4 650.5,277.1 653.2,339.9 655.6,304.9 658.7,338.9 661.4,295.6 664.3,348.2 669.6,252.4 675.2,426.4 680.8,317.3 686.1,365.7 691.7,294.6 694.3,363.6 697.0,253.4 700.2,325.0 705.7,364.5 711.0,262.7 716.5,411.3 719.9,279.2 722.3,262.7 725.6,335.8 730.8,260.6 733.7,298.8 737.7,310.0 741.5,251.4 744.0,262.7 747.3,327.6 749.7,260.6 752.8,260.6 757.7,306.0 761.1,195.8 764.2,293.6 766.6,293.6 769.3,343.0 772.0,283.3 774.6,330.7 777.6,208.1 780.7,334.8 783.7,210.2 789.0,383.8 794.0,299.8 796.9,295.7 799.6,270.9 807.8,340.0 810.9,260.6 816.1,355.4 822.2,291.5 827.5,374.6 833.2,275.1 835.6,275.1 838.4,371.5 841.8,312.2 847.0,366.0 850.0,277.1 852.5,297.7 855.2,272.0 857.9,289.5 860.8,245.2 863.5,333.3 866.1,258.6 869.2,343.0 871.9,286.0 874.7,329.5 877.4,290.0 880.5,364.5 888.1,283.9 891.3,291.9 894.0,407.7 896.6,255.9 899.3,354.4 902.5,313.2 905.2,373.1 907.8,349.1 910.5,374.4 913.1,271.9 915.8,341.1 918.7,243.9 924.6,399.7 929.9,291.9 932.6,346.4 937.9,329.1 941.4,322.5 944.0,361.1 946.7,295.8 949.4,393.0 952.0,327.8 958.4,373.1 961.1,437.0 963.2,386.4 966.4,442.0" stroke="#000" stroke-width="3.3"/>
<path d="M64.5,439.4 L65.5,439.4 L66.5,439.3 L67.5,439.3 L68.5,439.2 L69.5,439.2 L70.5,439.1 L71.5,439.0 L72.5,438.9 L73.5,438.9 L74.5,438.8 L75.5,438.7 L76.5,438.7 L77.5,438.6 L78.5,438.5 L79.5,438.4 L80.5,438.4 L81.5,438.3 L82.5,438.2 L83.5,438.2 L84.5,438.1 L85.5,438.0 L86.5,438.0 L87.5,437.9 L88.5,437.8 L89.5,437.8 L90.5,437.7 L91.5,437.6 L92.5,437.6 L93.5,437.5 L94.5,437.4 L95.5,437.4 L96.5,437.3 L97.5,437.2 L98.5,437.1 L99.5,437.1 L100.5,437.0 L101.5,436.9 L102.5,436.9 L103.5,436.8 L104.5,436.7 L105.5,436.6 L106.5,436.6 L107.5,436.5 L108.5,436.4 L109.5,436.4 L110.5,436.3 L111.5,436.2 L112.5,436.1 L113.5,436.1 L114.5,436.0 L115.5,435.9 L116.5,435.9 L117.5,435.8 L118.5,435.7 L119.5,435.6 L120.5,435.6 L121.5,435.5 L122.5,435.4 L123.5,435.3 L124.5,435.2 L125.5,435.1 L126.5,435.0 L127.5,434.9 L128.5,434.8 L129.5,434.7 L130.5,434.6 L131.5,434.4 L132.5,434.3 L133.5,434.2 L134.5,434.1 L135.5,434.0 L136.5,433.8 L137.5,433.7 L138.5,433.6 L139.5,433.4 L140.5,433.3 L141.5,433.1 L142.5,432.9 L143.5,432.7 L144.5,432.5 L145.5,432.3 L146.5,432.0 L147.5,431.8 L148.5,431.5 L149.5,431.1 L150.5,430.7 L151.5,430.3 L152.5,429.8 L153.5,429.3 L154.5,428.7 L155.5,428.0 L156.5,427.2 L157.5,426.3 L158.5,425.3 L159.5,424.1 L160.5,422.8 L161.5,421.4 L162.5,419.8 L163.5,418.1 L164.5,416.2 L165.5,414.1 L166.5,411.8 L167.5,409.3 L168.5,406.6 L169.5,403.6 L170.5,400.4 L171.5,397.0 L172.5,393.2 L173.5,389.3 L174.5,385.1 L175.5,380.3 L176.5,375.3 L177.5,370.1 L178.5,364.7 L179.5,359.2 L180.5,353.5 L181.5,347.6 L182.5,341.4 L183.5,334.9 L184.5,327.8 L185.5,320.4 L186.5,312.5 L187.5,304.1 L188.5,295.5 L189.5,286.7 L190.5,277.7 L191.5,268.5 L192.5,259.2 L193.5,249.8 L194.5,240.2 L195.5,230.5 L196.5,221.0 L197.5,211.6 L198.5,202.4 L199.5,193.5 L200.5,184.9 L201.5,176.6 L202.5,168.6 L203.5,160.5 L204.5,152.6 L205.5,144.7 L206.5,137.0 L207.5,129.6 L208.5,122.5 L209.5,115.6 L210.5,109.1 L211.5,102.8 L212.5,96.9 L213.5,91.3 L214.5,86.1 L215.5,81.3 L216.5,76.9 L217.5,73.0 L218.5,69.6 L219.5,66.8 L220.5,64.5 L221.5,62.9 L222.5,61.8 L223.5,61.4 L224.5,61.4 L225.5,61.8 L226.5,62.6 L227.5,63.9 L228.5,65.6 L229.5,67.7 L230.5,70.2 L231.5,73.1 L232.5,76.5 L233.5,80.2 L234.5,84.4 L235.5,88.9 L236.5,93.8 L237.5,99.0 L238.5,104.1 L239.5,109.3 L240.5,114.6 L241.5,119.9 L242.5,125.4 L243.5,131.0 L244.5,136.8 L245.5,142.6 L246.5,148.4 L247.5,154.2 L248.5,160.0 L249.5,165.8 L250.5,171.7 L251.5,177.8 L252.5,184.2 L253.5,190.7 L254.5,197.3 L255.5,204.0 L256.5,210.7 L257.5,217.3 L258.5,223.8 L259.5,230.3 L260.5,236.7 L261.5,242.9 L262.5,249.1 L263.5,255.1 L264.5,261.0 L265.5,266.8 L266.5,272.4 L267.5,277.9 L268.5,283.1 L269.5,288.0 L270.5,292.7 L271.5,297.0 L272.5,301.1 L273.5,304.8 L274.5,308.3 L275.5,311.4 L276.5,314.2 L277.5,316.8 L278.5,319.1 L279.5,321.1 L280.5,322.9 L281.5,324.5 L282.5,325.9 L283.5,327.2 L284.5,328.3 L285.5,329.3 L286.5,330.2 L287.5,331.0 L288.5,331.6 L289.5,332.1 L290.5,332.5 L291.5,332.8 L292.5,332.9 L293.5,332.8 L294.5,332.6 L295.5,332.2 L296.5,331.7 L297.5,331.1 L298.5,330.3 L299.5,329.4 L300.5,328.4 L301.5,327.3 L302.5,326.1 L303.5,324.7 L304.5,323.4 L305.5,321.9 L306.5,320.4 L307.5,318.9 L308.5,317.3 L309.5,315.7 L310.5,314.1 L311.5,312.5 L312.5,310.9 L313.5,309.2 L314.5,307.5 L315.5,305.9 L316.5,304.2 L317.5,302.5 L318.5,300.9 L319.5,299.3 L320.5,297.6 L321.5,296.0 L322.5,294.4 L323.5,292.8 L324.5,291.2 L325.5,289.7 L326.5,288.2 L327.5,286.7 L328.5,285.4 L329.5,284.1 L330.5,282.8 L331.5,281.7 L332.5,280.7 L333.5,279.7 L334.5,278.9 L335.5,278.2 L336.5,277.5 L337.5,277.1 L338.5,276.7 L339.5,276.4 L340.5,276.3 L341.5,276.3 L342.5,276.4 L343.5,276.7 L344.5,277.0 L345.5,277.4 L346.5,277.9 L347.5,278.5 L348.5,279.1 L349.5,279.9 L350.5,280.7 L351.5,281.5 L352.5,282.5 L353.5,283.5 L354.5,284.6 L355.5,285.8 L356.5,287.0 L357.5,288.3 L358.5,289.7 L359.5,291.1 L360.5,292.6 L361.5,294.1 L362.5,295.7 L363.5,297.4 L364.5,299.1 L365.5,300.9 L366.5,302.7 L367.5,304.5 L368.5,306.4 L369.5,308.3 L370.5,310.3 L371.5,312.3 L372.5,314.3 L373.5,316.3 L374.5,318.4 L375.5,320.5 L376.5,322.6 L377.5,324.7 L378.5,326.8 L379.5,328.9 L380.5,331.1 L381.5,333.2 L382.5,335.4 L383.5,337.6 L384.5,339.7 L385.5,341.9 L386.5,344.0 L387.5,346.2 L388.5,348.3 L389.5,350.5 L390.5,352.6 L391.5,354.7 L392.5,356.8 L393.5,358.9 L394.5,360.9 L395.5,363.0 L396.5,365.0 L397.5,367.0 L398.5,368.9 L399.5,370.9 L400.5,372.8 L401.5,374.7 L402.5,376.6 L403.5,378.4 L404.5,380.2 L405.5,382.0 L406.5,383.7 L407.5,385.4 L408.5,387.1 L409.5,388.7 L410.5,390.3 L411.5,391.9 L412.5,393.4 L413.5,394.9 L414.5,396.4 L415.5,397.8 L416.5,399.2 L417.5,400.5 L418.5,401.8 L419.5,403.1 L420.5,404.3 L421.5,405.5 L422.5,406.7 L423.5,407.8 L424.5,408.9 L425.5,409.9 L426.5,410.9 L427.5,411.8 L428.5,412.8 L429.5,413.7 L430.5,414.5 L431.5,415.3 L432.5,416.1 L433.5,416.8 L434.5,417.5 L435.5,418.1 L436.5,418.7 L437.5,419.3 L438.5,419.8 L439.5,420.2 L440.5,420.6 L441.5,421.0 L442.5,421.3 L443.5,421.6 L444.5,421.8 L445.5,422.0 L446.5,422.2 L447.5,422.2 L448.5,422.3 L449.5,422.3 L450.5,422.2 L451.5,422.2 L452.5,422.0 L453.5,421.9 L454.5,421.7 L455.5,421.4 L456.5,421.2 L457.5,420.9 L458.5,420.5 L459.5,420.2 L460.5,419.7 L461.5,419.3 L462.5,418.8 L463.5,418.3 L464.5,417.7 L465.5,417.1 L466.5,416.5 L467.5,415.8 L468.5,415.1 L469.5,414.3 L470.5,413.5 L471.5,412.6 L472.5,411.6 L473.5,410.6 L474.5,409.5 L475.5,408.4 L476.5,407.2 L477.5,405.9 L478.5,404.6 L479.5,403.2 L480.5,401.7 L481.5,400.2 L482.5,398.6 L483.5,396.9 L484.5,395.1 L485.5,393.3 L486.5,391.4 L487.5,389.4 L488.5,387.3 L489.5,385.2 L490.5,383.0 L491.5,380.7 L492.5,378.3 L493.5,375.9 L494.5,373.4 L495.5,370.9 L496.5,368.2 L497.5,365.5 L498.5,362.7 L499.5,359.9 L500.5,357.0 L501.5,354.0 L502.5,351.0 L503.5,347.9 L504.5,344.7 L505.5,341.5 L506.5,338.2 L507.5,334.9 L508.5,331.6 L509.5,328.2 L510.5,324.7 L511.5,321.3 L512.5,317.7 L513.5,314.2 L514.5,310.7 L515.5,307.1 L516.5,303.5 L517.5,299.9 L518.5,296.3 L519.5,292.7 L520.5,289.1 L521.5,285.6 L522.5,282.0 L523.5,278.5 L524.5,275.0 L525.5,271.6 L526.5,268.2 L527.5,264.8 L528.5,261.5 L529.5,258.3 L530.5,255.2 L531.5,252.1 L532.5,249.1 L533.5,246.2 L534.5,243.4 L535.5,240.7 L536.5,238.2 L537.5,235.7 L538.5,233.4 L539.5,231.2 L540.5,229.2 L541.5,227.3 L542.5,225.6 L543.5,224.0 L544.5,222.6 L545.5,221.3 L546.5,220.2 L547.5,219.3 L548.5,218.6 L549.5,218.0 L550.5,217.7 L551.5,217.5 L552.5,217.5 L553.5,217.6 L554.5,217.8 L555.5,218.1 L556.5,218.5 L557.5,219.0 L558.5,219.6 L559.5,220.4 L560.5,221.2 L561.5,222.1 L562.5,223.1 L563.5,224.2 L564.5,225.4 L565.5,226.7 L566.5,228.1 L567.5,229.6 L568.5,231.2 L569.5,232.8 L570.5,234.5 L571.5,236.4 L572.5,238.2 L573.5,240.2 L574.5,242.2 L575.5,244.3 L576.5,246.5 L577.5,248.7 L578.5,251.0 L579.5,253.3 L580.5,255.7 L581.5,258.1 L582.5,260.6 L583.5,263.1 L584.5,265.7 L585.5,268.3 L586.5,270.9 L587.5,273.6 L588.5,276.2 L589.5,279.0 L590.5,281.7 L591.5,284.4 L592.5,287.2 L593.5,290.0 L594.5,292.8 L595.5,295.6 L596.5,298.4 L597.5,301.2 L598.5,304.0 L599.5,306.7 L600.5,309.5 L601.5,312.3 L602.5,315.1 L603.5,317.8 L604.5,320.5 L605.5,323.2 L606.5,325.9 L607.5,328.6 L608.5,331.2 L609.5,333.8 L610.5,336.4 L611.5,339.0 L612.5,341.5 L613.5,343.9 L614.5,346.4 L615.5,348.8 L616.5,351.1 L617.5,353.5 L618.5,355.7 L619.5,358.0 L620.5,360.2 L621.5,362.3 L622.5,364.4 L623.5,366.4 L624.5,368.5 L625.5,370.4 L626.5,372.4 L627.5,374.3 L628.5,376.2 L629.5,378.0 L630.5,379.8 L631.5,381.6 L632.5,383.3 L633.5,385.0 L634.5,386.6 L635.5,388.2 L636.5,389.7 L637.5,391.1 L638.5,392.5 L639.5,393.7 L640.5,394.9 L641.5,396.0 L642.5,397.0 L643.5,397.9 L644.5,398.8 L645.5,399.5 L646.5,400.2 L647.5,400.8 L648.5,401.3 L649.5,401.7 L650.5,402.1 L651.5,402.5 L652.5,402.8 L653.5,403.0 L654.5,403.2 L655.5,403.4 L656.5,403.5 L657.5,403.6 L658.5,403.7 L659.5,403.7 L660.5,403.7 L661.5,403.6 L662.5,403.6 L663.5,403.4 L664.5,403.3 L665.5,403.1 L666.5,403.0 L667.5,402.7 L668.5,402.5 L669.5,402.3 L670.5,402.0 L671.5,401.7 L672.5,401.3 L673.5,400.9 L674.5,400.5 L675.5,400.1 L676.5,399.6 L677.5,399.1 L678.5,398.6 L679.5,398.0 L680.5,397.3 L681.5,396.6 L682.5,395.9 L683.5,395.1 L684.5,394.3 L685.5,393.4 L686.5,392.5 L687.5,391.6 L688.5,390.6 L689.5,389.6 L690.5,388.6 L691.5,387.5 L692.5,386.4 L693.5,385.3 L694.5,384.2 L695.5,383.1 L696.5,382.0 L697.5,380.8 L698.5,379.6 L699.5,378.4 L700.5,377.2 L701.5,376.0 L702.5,374.8 L703.5,373.5 L704.5,372.3 L705.5,371.0 L706.5,369.7 L707.5,368.4 L708.5,367.0 L709.5,365.7 L710.5,364.3 L711.5,362.9 L712.5,361.5 L713.5,360.1 L714.5,358.7 L715.5,357.3 L716.5,355.8 L717.5,354.3 L718.5,352.9 L719.5,351.4 L720.5,349.9 L721.5,348.4 L722.5,346.9 L723.5,345.4 L724.5,343.9 L725.5,342.3 L726.5,340.8 L727.5,339.2 L728.5,337.6 L729.5,336.0 L730.5,334.4 L731.5,332.7 L732.5,331.1 L733.5,329.4 L734.5,327.8 L735.5,326.1 L736.5,324.4 L737.5,322.7 L738.5,321.1 L739.5,319.4 L740.5,317.7 L741.5,316.1 L742.5,314.4 L743.5,312.8 L744.5,311.2 L745.5,309.6 L746.5,308.0 L747.5,306.4 L748.5,304.9 L749.5,303.4 L750.5,301.8 L751.5,300.4 L752.5,298.9 L753.5,297.4 L754.5,296.0 L755.5,294.6 L756.5,293.2 L757.5,291.9 L758.5,290.5 L759.5,289.3 L760.5,288.0 L761.5,286.7 L762.5,285.5 L763.5,284.4 L764.5,283.2 L765.5,282.1 L766.5,281.0 L767.5,280.0 L768.5,279.0 L769.5,278.0 L770.5,277.1 L771.5,276.2 L772.5,275.4 L773.5,274.5 L774.5,273.8 L775.5,273.1 L776.5,272.4 L777.5,271.8 L778.5,271.2 L779.5,270.6 L780.5,270.1 L781.5,269.7 L782.5,269.3 L783.5,269.0 L784.5,268.7 L785.5,268.4 L786.5,268.2 L787.5,268.0 L788.5,267.9 L789.5,267.8 L790.5,267.8 L791.5,267.9 L792.5,267.9 L793.5,268.0 L794.5,268.1 L795.5,268.3 L796.5,268.5 L797.5,268.8 L798.5,269.0 L799.5,269.3 L800.5,269.7 L801.5,270.1 L802.5,270.5 L803.5,271.0 L804.5,271.4 L805.5,272.0 L806.5,272.5 L807.5,273.1 L808.5,273.8 L809.5,274.4 L810.5,275.1 L811.5,275.8 L812.5,276.6 L813.5,277.4 L814.5,278.2 L815.5,279.0 L816.5,279.9 L817.5,280.8 L818.5,281.8 L819.5,282.7 L820.5,283.7 L821.5,284.7 L822.5,285.8 L823.5,286.8 L824.5,287.9 L825.5,289.0 L826.5,290.1 L827.5,291.3 L828.5,292.5 L829.5,293.6 L830.5,294.9 L831.5,296.1 L832.5,297.3 L833.5,298.6 L834.5,299.9 L835.5,301.2 L836.5,302.5 L837.5,303.8 L838.5,305.1 L839.5,306.5 L840.5,307.8 L841.5,309.2 L842.5,310.6 L843.5,312.0 L844.5,313.4 L845.5,314.8 L846.5,316.2 L847.5,317.6 L848.5,319.1 L849.5,320.5 L850.5,321.9 L851.5,323.4 L852.5,324.8 L853.5,326.3 L854.5,327.7 L855.5,329.2 L856.5,330.7 L857.5,332.1 L858.5,333.6 L859.5,335.0 L860.5,336.5 L861.5,337.9 L862.5,339.4 L863.5,340.8 L864.5,342.3 L865.5,343.7 L866.5,345.1 L867.5,346.6 L868.5,348.0 L869.5,349.4 L870.5,350.8 L871.5,352.2 L872.5,353.6 L873.5,355.0 L874.5,356.4 L875.5,357.8 L876.5,359.1 L877.5,360.5 L878.5,361.8 L879.5,363.2 L880.5,364.5 L881.5,365.8 L882.5,367.1 L883.5,368.4 L884.5,369.7 L885.5,371.0 L886.5,372.2 L887.5,373.5 L888.5,374.7 L889.5,375.9 L890.5,377.1 L891.5,378.3 L892.5,379.5 L893.5,380.7 L894.5,381.8 L895.5,383.0 L896.5,384.1 L897.5,385.2 L898.5,386.3 L899.5,387.4 L900.5,388.5 L901.5,389.5 L902.5,390.6 L903.5,391.6 L904.5,392.6 L905.5,393.6 L906.5,394.6 L907.5,395.5 L908.5,396.5 L909.5,397.4 L910.5,398.3 L911.5,399.3 L912.5,400.1 L913.5,401.0 L914.5,401.9 L915.5,402.7 L916.5,403.6 L917.5,404.4 L918.5,405.2 L919.5,406.0 L920.5,406.7 L921.5,407.5 L922.5,408.3 L923.5,409.0 L924.5,409.7 L925.5,410.4 L926.5,411.1 L927.5,411.8 L928.5,412.4 L929.5,413.1 L930.5,413.7 L931.5,414.3 L932.5,414.9 L933.5,415.5 L934.5,416.1 L935.5,416.7 L936.5,417.2 L937.5,417.8 L938.5,418.3 L939.5,418.8 L940.5,419.4 L941.5,419.8 L942.5,420.3 L943.5,420.8 L944.5,421.3 L945.5,421.7 L946.5,422.2 L947.5,422.6 L948.5,423.0 L949.5,423.4 L950.5,423.8 L951.5,424.2 L952.5,424.6 L953.5,424.9 L954.5,425.3 L955.5,425.7 L956.5,426.0 L957.5,426.3 L958.5,426.7 L959.5,427.0 L960.5,427.3 L961.5,427.6 L962.5,427.9 L963.5,428.1 L964.5,428.4 L965.5,428.7 L966.5,429.0" stroke="#ffff00" stroke-width="2.4"/>
<path d="M64.5,442.8 L65.5,442.8 L66.5,442.8 L67.5,442.8 L68.5,442.8 L69.5,442.8 L70.5,442.8 L71.5,442.8 L72.5,442.8 L73.5,442.8 L74.5,442.8 L75.5,442.8 L76.5,442.8 L77.5,442.8 L78.5,442.8 L79.5,442.7 L80.5,442.7 L81.5,442.7 L82.5,442.7 L83.5,442.7 L84.5,442.7 L85.5,442.7 L86.5,442.7 L87.5,442.7 L88.5,442.7 L89.5,442.7 L90.5,442.7 L91.5,442.7 L92.5,442.7 L93.5,442.7 L94.5,442.7 L95.5,442.7 L96.5,442.7 L97.5,442.7 L98.5,442.7 L99.5,442.7 L100.5,442.7 L101.5,442.7 L102.5,442.7 L103.5,442.7 L104.5,442.7 L105.5,442.6 L106.5,442.6 L107.5,442.6 L108.5,442.6 L109.5,442.6 L110.5,442.6 L111.5,442.6 L112.5,442.6 L113.5,442.6 L114.5,442.6 L115.5,442.6 L116.5,442.6 L117.5,442.6 L118.5,442.6 L119.5,442.6 L120.5,442.6 L121.5,442.6 L122.5,442.6 L123.5,442.6 L124.5,442.6 L125.5,442.5 L126.5,442.5 L127.5,442.5 L128.5,442.5 L129.5,442.5 L130.5,442.5 L131.5,442.5 L132.5,442.5 L133.5,442.5 L134.5,442.5 L135.5,442.5 L136.5,442.5 L137.5,442.5 L138.5,442.5 L139.5,442.5 L140.5,442.4 L141.5,442.4 L142.5,442.4 L143.5,442.4 L144.5,442.4 L145.5,442.4 L146.5,442.4 L147.5,442.4 L148.5,442.4 L149.5,442.4 L150.5,442.4 L151.5,442.4 L152.5,442.4 L153.5,442.3 L154.5,442.3 L155.5,442.3 L156.5,442.3 L157.5,442.3 L158.5,442.3 L159.5,442.3 L160.5,442.3 L161.5,442.3 L162.5,442.3 L163.5,442.3 L164.5,442.2 L165.5,442.2 L166.5,442.2 L167.5,442.2 L168.5,442.2 L169.5,442.2 L170.5,442.2 L171.5,442.2 L172.5,442.2 L173.5,442.1 L174.5,442.1 L175.5,442.1 L176.5,442.1 L177.5,442.1 L178.5,442.1 L179.5,442.1 L180.5,442.1 L181.5,442.0 L182.5,442.0 L183.5,442.0 L184.5,442.0 L185.5,442.0 L186.5,442.0 L187.5,442.0 L188.5,441.9 L189.5,441.9 L190.5,441.9 L191.5,441.9 L192.5,441.9 L193.5,441.9 L194.5,441.8 L195.5,441.8 L196.5,441.8 L197.5,441.8 L198.5,441.8 L199.5,441.7 L200.5,441.7 L201.5,441.7 L202.5,441.7 L203.5,441.6 L204.5,441.6 L205.5,441.6 L206.5,441.6 L207.5,441.5 L208.5,441.5 L209.5,441.5 L210.5,441.5 L211.5,441.4 L212.5,441.4 L213.5,441.4 L214.5,441.3 L215.5,441.3 L216.5,441.2 L217.5,441.2 L218.5,441.1 L219.5,441.1 L220.5,441.0 L221.5,441.0 L222.5,440.9 L223.5,440.9 L224.5,440.8 L225.5,440.7 L226.5,440.7 L227.5,440.6 L228.5,440.5 L229.5,440.4 L230.5,440.3 L231.5,440.2 L232.5,440.1 L233.5,440.0 L234.5,439.9 L235.5,439.8 L236.5,439.7 L237.5,439.5 L238.5,439.4 L239.5,439.2 L240.5,439.0 L241.5,438.8 L242.5,438.6 L243.5,438.4 L244.5,438.2 L245.5,438.0 L246.5,437.7 L247.5,437.5 L248.5,437.2 L249.5,436.9 L250.5,436.5 L251.5,436.2 L252.5,435.8 L253.5,435.4 L254.5,435.0 L255.5,434.6 L256.5,434.1 L257.5,433.6 L258.5,433.1 L259.5,432.5 L260.5,431.9 L261.5,431.3 L262.5,430.7 L263.5,430.0 L264.5,429.3 L265.5,428.5 L266.5,427.7 L267.5,426.8 L268.5,426.0 L269.5,425.0 L270.5,424.1 L271.5,423.0 L272.5,422.0 L273.5,420.8 L274.5,419.7 L275.5,418.4 L276.5,417.2 L277.5,415.9 L278.5,414.5 L279.5,413.0 L280.5,411.6 L281.5,410.0 L282.5,408.4 L283.5,406.7 L284.5,405.0 L285.5,403.3 L286.5,401.4 L287.5,399.5 L288.5,397.6 L289.5,395.6 L290.5,393.5 L291.5,391.4 L292.5,389.3 L293.5,387.1 L294.5,384.8 L295.5,382.5 L296.5,380.1 L297.5,377.7 L298.5,375.3 L299.5,372.8 L300.5,370.2 L301.5,367.7 L302.5,365.1 L303.5,362.5 L304.5,359.8 L305.5,357.1 L306.5,354.4 L307.5,351.7 L308.5,349.0 L309.5,346.3 L310.5,343.5 L311.5,340.8 L312.5,338.1 L313.5,335.4 L314.5,332.7 L315.5,330.0 L316.5,327.4 L317.5,324.8 L318.5,322.2 L319.5,319.7 L320.5,317.2 L321.5,314.8 L322.5,312.4 L323.5,310.1 L324.5,307.9 L325.5,305.8 L326.5,303.7 L327.5,301.8 L328.5,299.9 L329.5,298.1 L330.5,296.4 L331.5,294.9 L332.5,293.4 L333.5,292.1 L334.5,290.9 L335.5,289.8 L336.5,288.9 L337.5,288.1 L338.5,287.4 L339.5,286.9 L340.5,286.5 L341.5,286.2 L342.5,286.1 L343.5,286.1 L344.5,286.2 L345.5,286.4 L346.5,286.7 L347.5,287.1 L348.5,287.5 L349.5,288.1 L350.5,288.7 L351.5,289.4 L352.5,290.2 L353.5,291.1 L354.5,292.1 L355.5,293.1 L356.5,294.2 L357.5,295.4 L358.5,296.6 L359.5,297.9 L360.5,299.3 L361.5,300.8 L362.5,302.3 L363.5,303.8 L364.5,305.4 L365.5,307.1 L366.5,308.8 L367.5,310.6 L368.5,312.4 L369.5,314.2 L370.5,316.1 L371.5,318.1 L372.5,320.0 L373.5,322.0 L374.5,324.0 L375.5,326.0 L376.5,328.1 L377.5,330.2 L378.5,332.3 L379.5,334.4 L380.5,336.5 L381.5,338.6 L382.5,340.8 L383.5,342.9 L384.5,345.0 L385.5,347.2 L386.5,349.3 L387.5,351.4 L388.5,353.6 L389.5,355.7 L390.5,357.8 L391.5,359.9 L392.5,362.0 L393.5,364.0 L394.5,366.1 L395.5,368.1 L396.5,370.1 L397.5,372.1 L398.5,374.0 L399.5,376.0 L400.5,377.9 L401.5,379.8 L402.5,381.6 L403.5,383.4 L404.5,385.2 L405.5,387.0 L406.5,388.7 L407.5,390.4 L408.5,392.1 L409.5,393.7 L410.5,395.3 L411.5,396.9 L412.5,398.4 L413.5,399.9 L414.5,401.4 L415.5,402.8 L416.5,404.2 L417.5,405.6 L418.5,406.9 L419.5,408.2 L420.5,409.4 L421.5,410.6 L422.5,411.8 L423.5,413.0 L424.5,414.1 L425.5,415.2 L426.5,416.2 L427.5,417.3 L428.5,418.2 L429.5,419.2 L430.5,420.1 L431.5,421.0 L432.5,421.9 L433.5,422.7 L434.5,423.5 L435.5,424.3 L436.5,425.0 L437.5,425.7 L438.5,426.4 L439.5,427.1 L440.5,427.7 L441.5,428.3 L442.5,428.9 L443.5,429.5 L444.5,430.1 L445.5,430.6 L446.5,431.1 L447.5,431.6 L448.5,432.0 L449.5,432.5 L450.5,432.9 L451.5,433.3 L452.5,433.7 L453.5,434.1 L454.5,434.4 L455.5,434.7 L456.5,435.1 L457.5,435.4 L458.5,435.7 L459.5,436.0 L460.5,436.2 L461.5,436.5 L462.5,436.7 L463.5,437.0 L464.5,437.2 L465.5,437.4 L466.5,437.6 L467.5,437.8 L468.5,438.0 L469.5,438.1 L470.5,438.3 L471.5,438.5 L472.5,438.6 L473.5,438.7 L474.5,438.9 L475.5,439.0 L476.5,439.1 L477.5,439.2 L478.5,439.4 L479.5,439.5 L480.5,439.6 L481.5,439.7 L482.5,439.8 L483.5,439.8 L484.5,439.9 L485.5,440.0 L486.5,440.1 L487.5,440.2 L488.5,440.2 L489.5,440.3 L490.5,440.3 L491.5,440.4 L492.5,440.5 L493.5,440.5 L494.5,440.6 L495.5,440.6 L496.5,440.7 L497.5,440.7 L498.5,440.8 L499.5,440.8 L500.5,440.8 L501.5,440.9 L502.5,440.9 L503.5,441.0 L504.5,441.0 L505.5,441.0 L506.5,441.1 L507.5,441.1 L508.5,441.1 L509.5,441.1 L510.5,441.2 L511.5,441.2 L512.5,441.2 L513.5,441.3 L514.5,441.3 L515.5,441.3 L516.5,441.3 L517.5,441.4 L518.5,441.4 L519.5,441.4 L520.5,441.4 L521.5,441.4 L522.5,441.5 L523.5,441.5 L524.5,441.5 L525.5,441.5 L526.5,441.5 L527.5,441.6 L528.5,441.6 L529.5,441.6 L530.5,441.6 L531.5,441.6 L532.5,441.6 L533.5,441.7 L534.5,441.7 L535.5,441.7 L536.5,441.7 L537.5,441.7 L538.5,441.7 L539.5,441.7 L540.5,441.8 L541.5,441.8 L542.5,441.8 L543.5,441.8 L544.5,441.8 L545.5,441.8 L546.5,441.8 L547.5,441.9 L548.5,441.9 L549.5,441.9 L550.5,441.9 L551.5,441.9 L552.5,441.9 L553.5,441.9 L554.5,441.9 L555.5,441.9 L556.5,442.0 L557.5,442.0 L558.5,442.0 L559.5,442.0 L560.5,442.0 L561.5,442.0 L562.5,442.0 L563.5,442.0 L564.5,442.0 L565.5,442.1 L566.5,442.1 L567.5,442.1 L568.5,442.1 L569.5,442.1 L570.5,442.1 L571.5,442.1 L572.5,442.1 L573.5,442.1 L574.5,442.1 L575.5,442.1 L576.5,442.2 L577.5,442.2 L578.5,442.2 L579.5,442.2 L580.5,442.2 L581.5,442.2 L582.5,442.2 L583.5,442.2 L584.5,442.2 L585.5,442.2 L586.5,442.2 L587.5,442.2 L588.5,442.2 L589.5,442.3 L590.5,442.3 L591.5,442.3 L592.5,442.3 L593.5,442.3 L594.5,442.3 L595.5,442.3 L596.5,442.3 L597.5,442.3 L598.5,442.3 L599.5,442.3 L600.5,442.3 L601.5,442.3 L602.5,442.3 L603.5,442.4 L604.5,442.4 L605.5,442.4 L606.5,442.4 L607.5,442.4 L608.5,442.4 L609.5,442.4 L610.5,442.4 L611.5,442.4 L612.5,442.4 L613.5,442.4 L614.5,442.4 L615.5,442.4 L616.5,442.4 L617.5,442.4 L618.5,442.4 L619.5,442.4 L620.5,442.4 L621.5,442.5 L622.5,442.5 L623.5,442.5 L624.5,442.5 L625.5,442.5 L626.5,442.5 L627.5,442.5 L628.5,442.5 L629.5,442.5 L630.5,442.5 L631.5,442.5 L632.5,442.5 L633.5,442.5 L634.5,442.5 L635.5,442.5 L636.5,442.5 L637.5,442.5 L638.5,442.5 L639.5,442.5 L640.5,442.5 L641.5,442.5 L642.5,442.6 L643.5,442.6 L644.5,442.6 L645.5,442.6 L646.5,442.6 L647.5,442.6 L648.5,442.6 L649.5,442.6 L650.5,442.6 L651.5,442.6 L652.5,442.6 L653.5,442.6 L654.5,442.6 L655.5,442.6 L656.5,442.6 L657.5,442.6 L658.5,442.6 L659.5,442.6 L660.5,442.6 L661.5,442.6 L662.5,442.6 L663.5,442.6 L664.5,442.6 L665.5,442.6 L666.5,442.6 L667.5,442.6 L668.5,442.6 L669.5,442.7 L670.5,442.7 L671.5,442.7 L672.5,442.7 L673.5,442.7 L674.5,442.7 L675.5,442.7 L676.5,442.7 L677.5,442.7 L678.5,442.7 L679.5,442.7 L680.5,442.7 L681.5,442.7 L682.5,442.7 L683.5,442.7 L684.5,442.7 L685.5,442.7 L686.5,442.7 L687.5,442.7 L688.5,442.7 L689.5,442.7 L690.5,442.7 L691.5,442.7 L692.5,442.7 L693.5,442.7 L694.5,442.7 L695.5,442.7 L696.5,442.7 L697.5,442.7 L698.5,442.7 L699.5,442.7 L700.5,442.7 L701.5,442.7 L702.5,442.7 L703.5,442.7 L704.5,442.8 L705.5,442.8 L706.5,442.8 L707.5,442.8 L708.5,442.8 L709.5,442.8 L710.5,442.8 L711.5,442.8 L712.5,442.8 L713.5,442.8 L714.5,442.8 L715.5,442.8 L716.5,442.8 L717.5,442.8 L718.5,442.8 L719.5,442.8 L720.5,442.8 L721.5,442.8 L722.5,442.8 L723.5,442.8 L724.5,442.8 L725.5,442.8 L726.5,442.8 L727.5,442.8 L728.5,442.8 L729.5,442.8 L730.5,442.8 L731.5,442.8 L732.5,442.8 L733.5,442.8 L734.5,442.8 L735.5,442.8 L736.5,442.8 L737.5,442.8 L738.5,442.8 L739.5,442.8 L740.5,442.8 L741.5,442.8 L742.5,442.8 L743.5,442.8 L744.5,442.8 L745.5,442.8 L746.5,442.8 L747.5,442.8 L748.5,442.8 L749.5,442.8 L750.5,442.8 L751.5,442.8 L752.5,442.8 L753.5,442.9 L754.5,442.9 L755.5,442.9 L756.5,442.9 L757.5,442.9 L758.5,442.9 L759.5,442.9 L760.5,442.9 L761.5,442.9 L762.5,442.9 L763.5,442.9 L764.5,442.9 L765.5,442.9 L766.5,442.9 L767.5,442.9 L768.5,442.9 L769.5,442.9 L770.5,442.9 L771.5,442.9 L772.5,442.9 L773.5,442.9 L774.5,442.9 L775.5,442.9 L776.5,442.9 L777.5,442.9 L778.5,442.9 L779.5,442.9 L780.5,442.9 L781.5,442.9 L782.5,442.9 L783.5,442.9 L784.5,442.9 L785.5,442.9 L786.5,442.9 L787.5,442.9 L788.5,442.9 L789.5,442.9 L790.5,442.9 L791.5,442.9 L792.5,442.9 L793.5,442.9 L794.5,442.9 L795.5,442.9 L796.5,442.9 L797.5,442.9 L798.5,442.9 L799.5,442.9 L800.5,442.9 L801.5,442.9 L802.5,442.9 L803.5,442.9 L804.5,442.9 L805.5,442.9 L806.5,442.9 L807.5,442.9 L808.5,442.9 L809.5,442.9 L810.5,442.9 L811.5,442.9 L812.5,442.9 L813.5,442.9 L814.5,442.9 L815.5,442.9 L816.5,442.9 L817.5,442.9 L818.5,442.9 L819.5,442.9 L820.5,442.9 L821.5,442.9 L822.5,442.9 L823.5,442.9 L824.5,442.9 L825.5,442.9 L826.5,442.9 L827.5,442.9 L828.5,442.9 L829.5,443.0 L830.5,443.0 L831.5,443.0 L832.5,443.0 L833.5,443.0 L834.5,443.0 L835.5,443.0 L836.5,443.0 L837.5,443.0 L838.5,443.0 L839.5,443.0 L840.5,443.0 L841.5,443.0 L842.5,443.0 L843.5,443.0 L844.5,443.0 L845.5,443.0 L846.5,443.0 L847.5,443.0 L848.5,443.0 L849.5,443.0 L850.5,443.0 L851.5,443.0 L852.5,443.0 L853.5,443.0 L854.5,443.0 L855.5,443.0 L856.5,443.0 L857.5,443.0 L858.5,443.0 L859.5,443.0 L860.5,443.0 L861.5,443.0 L862.5,443.0 L863.5,443.0 L864.5,443.0 L865.5,443.0 L866.5,443.0 L867.5,443.0 L868.5,443.0 L869.5,443.0 L870.5,443.0 L871.5,443.0 L872.5,443.0 L873.5,443.0 L874.5,443.0 L875.5,443.0 L876.5,443.0 L877.5,443.0 L878.5,443.0 L879.5,443.0 L880.5,443.0 L881.5,443.0 L882.5,443.0 L883.5,443.0 L884.5,443.0 L885.5,443.0 L886.5,443.0 L887.5,443.0 L888.5,443.0 L889.5,443.0 L890.5,443.0 L891.5,443.0 L892.5,443.0 L893.5,443.0 L894.5,443.0 L895.5,443.0 L896.5,443.0 L897.5,443.0 L898.5,443.0 L899.5,443.0 L900.5,443.0 L901.5,443.0 L902.5,443.0 L903.5,443.0 L904.5,443.0 L905.5,443.0 L906.5,443.0 L907.5,443.0 L908.5,443.0 L909.5,443.0 L910.5,443.0 L911.5,443.0 L912.5,443.0 L913.5,443.0 L914.5,443.0 L915.5,443.0 L916.5,443.0 L917.5,443.0 L918.5,443.0 L919.5,443.0 L920.5,443.0 L921.5,443.0 L922.5,443.0 L923.5,443.0 L924.5,443.0 L925.5,443.0 L926.5,443.0 L927.5,443.0 L928.5,443.0 L929.5,443.0 L930.5,443.0 L931.5,443.0 L932.5,443.0 L933.5,443.0 L934.5,443.0 L935.5,443.0 L936.5,443.0 L937.5,443.0 L938.5,443.0 L939.5,443.0 L940.5,443.0 L941.5,443.0 L942.5,443.0 L943.5,443.0 L944.5,443.0 L945.5,443.0 L946.5,443.0 L947.5,443.0 L948.5,443.0 L949.5,443.0 L950.5,443.0 L951.5,443.0 L952.5,443.0 L953.5,443.0 L954.5,443.0 L955.5,443.0 L956.5,443.0 L957.5,443.0 L958.5,443.0 L959.5,443.0 L960.5,443.0 L961.5,443.0 L962.5,443.0 L963.5,443.0 L964.5,443.0 L965.5,443.0 L966.5,443.0" stroke="#0000ff" stroke-width="2.5"/>
<path d="M64.5,443.0 L65.5,443.0 L66.5,443.0 L67.5,443.0 L68.5,443.0 L69.5,443.0 L70.5,443.0 L71.5,443.0 L72.5,443.0 L73.5,443.0 L74.5,443.0 L75.5,443.0 L76.5,443.0 L77.5,443.0 L78.5,443.0 L79.5,443.0 L80.5,443.0 L81.5,443.0 L82.5,443.0 L83.5,443.0 L84.5,443.0 L85.5,443.0 L86.5,443.0 L87.5,443.0 L88.5,443.0 L89.5,443.0 L90.5,443.0 L91.5,443.0 L92.5,443.0 L93.5,443.0 L94.5,443.0 L95.5,443.0 L96.5,443.0 L97.5,443.0 L98.5,443.0 L99.5,443.0 L100.5,443.0 L101.5,443.0 L102.5,443.0 L103.5,443.0 L104.5,443.0 L105.5,443.0 L106.5,443.0 L107.5,443.0 L108.5,443.0 L109.5,443.0 L110.5,443.0 L111.5,443.0 L112.5,443.0 L113.5,443.0 L114.5,443.0 L115.5,443.0 L116.5,443.0 L117.5,443.0 L118.5,443.0 L119.5,443.0 L120.5,443.0 L121.5,442.9 L122.5,442.9 L123.5,442.9 L124.5,442.9 L125.5,442.9 L126.5,442.9 L127.5,442.9 L128.5,442.9 L129.5,442.9 L130.5,442.9 L131.5,442.9 L132.5,442.9 L133.5,442.9 L134.5,442.9 L135.5,442.9 L136.5,442.9 L137.5,442.9 L138.5,442.9 L139.5,442.9 L140.5,442.9 L141.5,442.9 L142.5,442.9 L143.5,442.9 L144.5,442.9 L145.5,442.9 L146.5,442.9 L147.5,442.9 L148.5,442.9 L149.5,442.9 L150.5,442.9 L151.5,442.9 L152.5,442.9 L153.5,442.9 L154.5,442.9 L155.5,442.9 L156.5,442.9 L157.5,442.9 L158.5,442.9 L159.5,442.9 L160.5,442.9 L161.5,442.9 L162.5,442.9 L163.5,442.9 L164.5,442.9 L165.5,442.9 L166.5,442.9 L167.5,442.9 L168.5,442.9 L169.5,442.9 L170.5,442.9 L171.5,442.9 L172.5,442.9 L173.5,442.9 L174.5,442.9 L175.5,442.9 L176.5,442.9 L177.5,442.9 L178.5,442.9 L179.5,442.9 L180.5,442.9 L181.5,442.9 L182.5,442.9 L183.5,442.9 L184.5,442.9 L185.5,442.9 L186.5,442.9 L187.5,442.9 L188.5,442.9 L189.5,442.9 L190.5,442.9 L191.5,442.9 L192.5,442.9 L193.5,442.9 L194.5,442.9 L195.5,442.9 L196.5,442.9 L197.5,442.9 L198.5,442.9 L199.5,442.9 L200.5,442.9 L201.5,442.9 L202.5,442.9 L203.5,442.9 L204.5,442.9 L205.5,442.9 L206.5,442.9 L207.5,442.9 L208.5,442.9 L209.5,442.9 L210.5,442.9 L211.5,442.9 L212.5,442.9 L213.5,442.9 L214.5,442.9 L215.5,442.9 L216.5,442.9 L217.5,442.9 L218.5,442.9 L219.5,442.9 L220.5,442.9 L221.5,442.9 L222.5,442.9 L223.5,442.9 L224.5,442.9 L225.5,442.9 L226.5,442.8 L227.5,442.8 L228.5,442.8 L229.5,442.8 L230.5,442.8 L231.5,442.8 L232.5,442.8 L233.5,442.8 L234.5,442.8 L235.5,442.8 L236.5,442.8 L237.5,442.8 L238.5,442.8 L239.5,442.8 L240.5,442.8 L241.5,442.8 L242.5,442.8 L243.5,442.8 L244.5,442.8 L245.5,442.8 L246.5,442.8 L247.5,442.8 L248.5,442.8 L249.5,442.8 L250.5,442.8 L251.5,442.8 L252.5,442.8 L253.5,442.8 L254.5,442.8 L255.5,442.8 L256.5,442.8 L257.5,442.8 L258.5,442.8 L259.5,442.8 L260.5,442.8 L261.5,442.8 L262.5,442.8 L263.5,442.8 L264.5,442.8 L265.5,442.8 L266.5,442.8 L267.5,442.8 L268.5,442.8 L269.5,442.8 L270.5,442.8 L271.5,442.8 L272.5,442.8 L273.5,442.8 L274.5,442.8 L275.5,442.8 L276.5,442.8 L277.5,442.8 L278.5,442.8 L279.5,442.8 L280.5,442.8 L281.5,442.8 L282.5,442.8 L283.5,442.8 L284.5,442.8 L285.5,442.8 L286.5,442.8 L287.5,442.8 L288.5,442.8 L289.5,442.8 L290.5,442.8 L291.5,442.8 L292.5,442.8 L293.5,442.8 L294.5,442.7 L295.5,442.7 L296.5,442.7 L297.5,442.7 L298.5,442.7 L299.5,442.7 L300.5,442.7 L301.5,442.7 L302.5,442.7 L303.5,442.7 L304.5,442.7 L305.5,442.7 L306.5,442.7 L307.5,442.7 L308.5,442.7 L309.5,442.7 L310.5,442.7 L311.5,442.7 L312.5,442.7 L313.5,442.7 L314.5,442.7 L315.5,442.7 L316.5,442.7 L317.5,442.7 L318.5,442.7 L319.5,442.7 L320.5,442.7 L321.5,442.7 L322.5,442.7 L323.5,442.7 L324.5,442.7 L325.5,442.7 L326.5,442.7 L327.5,442.7 L328.5,442.7 L329.5,442.7 L330.5,442.7 L331.5,442.7 L332.5,442.7 L333.5,442.7 L334.5,442.7 L335.5,442.7 L336.5,442.7 L337.5,442.7 L338.5,442.7 L339.5,442.7 L340.5,442.7 L341.5,442.7 L342.5,442.6 L343.5,442.6 L344.5,442.6 L345.5,442.6 L346.5,442.6 L347.5,442.6 L348.5,442.6 L349.5,442.6 L350.5,442.6 L351.5,442.6 L352.5,442.6 L353.5,442.6 L354.5,442.6 L355.5,442.6 L356.5,442.6 L357.5,442.6 L358.5,442.6 L359.5,442.6 L360.5,442.6 L361.5,442.6 L362.5,442.6 L363.5,442.6 L364.5,442.6 L365.5,442.6 L366.5,442.6 L367.5,442.6 L368.5,442.6 L369.5,442.6 L370.5,442.6 L371.5,442.6 L372.5,442.6 L373.5,442.6 L374.5,442.6 L375.5,442.6 L376.5,442.6 L377.5,442.6 L378.5,442.6 L379.5,442.5 L380.5,442.5 L381.5,442.5 L382.5,442.5 L383.5,442.5 L384.5,442.5 L385.5,442.5 L386.5,442.5 L387.5,442.5 L388.5,442.5 L389.5,442.5 L390.5,442.5 L391.5,442.5 L392.5,442.5 L393.5,442.5 L394.5,442.5 L395.5,442.5 L396.5,442.5 L397.5,442.5 L398.5,442.5 L399.5,442.5 L400.5,442.5 L401.5,442.5 L402.5,442.5 L403.5,442.5 L404.5,442.5 L405.5,442.5 L406.5,442.5 L407.5,442.5 L408.5,442.4 L409.5,442.4 L410.5,442.4 L411.5,442.4 L412.5,442.4 L413.5,442.4 L414.5,442.4 L415.5,442.4 L416.5,442.4 L417.5,442.4 L418.5,442.4 L419.5,442.4 L420.5,442.4 L421.5,442.4 L422.5,442.4 L423.5,442.4 L424.5,442.4 L425.5,442.4 L426.5,442.4 L427.5,442.4 L428.5,442.4 L429.5,442.4 L430.5,442.4 L431.5,442.4 L432.5,442.3 L433.5,442.3 L434.5,442.3 L435.5,442.3 L436.5,442.3 L437.5,442.3 L438.5,442.3 L439.5,442.3 L440.5,442.3 L441.5,442.3 L442.5,442.3 L443.5,442.3 L444.5,442.3 L445.5,442.3 L446.5,442.3 L447.5,442.3 L448.5,442.3 L449.5,442.3 L450.5,442.3 L451.5,442.3 L452.5,442.3 L453.5,442.2 L454.5,442.2 L455.5,442.2 L456.5,442.2 L457.5,442.2 L458.5,442.2 L459.5,442.2 L460.5,442.2 L461.5,442.2 L462.5,442.2 L463.5,442.2 L464.5,442.2 L465.5,442.2 L466.5,442.2 L467.5,442.2 L468.5,442.2 L469.5,442.2 L470.5,442.1 L471.5,442.1 L472.5,442.1 L473.5,442.1 L474.5,442.1 L475.5,442.1 L476.5,442.1 L477.5,442.1 L478.5,442.1 L479.5,442.1 L480.5,442.1 L481.5,442.1 L482.5,442.1 L483.5,442.1 L484.5,442.1 L485.5,442.0 L486.5,442.0 L487.5,442.0 L488.5,442.0 L489.5,442.0 L490.5,442.0 L491.5,442.0 L492.5,442.0 L493.5,442.0 L494.5,442.0 L495.5,442.0 L496.5,442.0 L497.5,442.0 L498.5,441.9 L499.5,441.9 L500.5,441.9 L501.5,441.9 L502.5,441.9 L503.5,441.9 L504.5,441.9 L505.5,441.9 L506.5,441.9 L507.5,441.9 L508.5,441.9 L509.5,441.8 L510.5,441.8 L511.5,441.8 L512.5,441.8 L513.5,441.8 L514.5,441.8 L515.5,441.8 L516.5,441.8 L517.5,441.8 L518.5,441.8 L519.5,441.7 L520.5,441.7 L521.5,441.7 L522.5,441.7 L523.5,441.7 L524.5,441.7 L525.5,441.7 L526.5,441.7 L527.5,441.7 L528.5,441.6 L529.5,441.6 L530.5,441.6 L531.5,441.6 L532.5,441.6 L533.5,441.6 L534.5,441.6 L535.5,441.6 L536.5,441.5 L537.5,441.5 L538.5,441.5 L539.5,441.5 L540.5,441.5 L541.5,441.5 L542.5,441.5 L543.5,441.4 L544.5,441.4 L545.5,441.4 L546.5,441.4 L547.5,441.4 L548.5,441.4 L549.5,441.3 L550.5,441.3 L551.5,441.3 L552.5,441.3 L553.5,441.3 L554.5,441.3 L555.5,441.2 L556.5,441.2 L557.5,441.2 L558.5,441.2 L559.5,441.2 L560.5,441.1 L561.5,441.1 L562.5,441.1 L563.5,441.1 L564.5,441.0 L565.5,441.0 L566.5,441.0 L567.5,441.0 L568.5,440.9 L569.5,440.9 L570.5,440.9 L571.5,440.8 L572.5,440.8 L573.5,440.8 L574.5,440.7 L575.5,440.7 L576.5,440.7 L577.5,440.6 L578.5,440.6 L579.5,440.5 L580.5,440.5 L581.5,440.5 L582.5,440.4 L583.5,440.4 L584.5,440.3 L585.5,440.3 L586.5,440.2 L587.5,440.2 L588.5,440.1 L589.5,440.1 L590.5,440.0 L591.5,439.9 L592.5,439.9 L593.5,439.8 L594.5,439.8 L595.5,439.7 L596.5,439.6 L597.5,439.5 L598.5,439.5 L599.5,439.4 L600.5,439.3 L601.5,439.2 L602.5,439.1 L603.5,439.0 L604.5,438.9 L605.5,438.8 L606.5,438.7 L607.5,438.6 L608.5,438.5 L609.5,438.4 L610.5,438.3 L611.5,438.2 L612.5,438.0 L613.5,437.9 L614.5,437.8 L615.5,437.6 L616.5,437.5 L617.5,437.3 L618.5,437.2 L619.5,437.0 L620.5,436.8 L621.5,436.6 L622.5,436.5 L623.5,436.3 L624.5,436.1 L625.5,435.9 L626.5,435.7 L627.5,435.4 L628.5,435.2 L629.5,435.0 L630.5,434.7 L631.5,434.5 L632.5,434.2 L633.5,434.0 L634.5,433.7 L635.5,433.4 L636.5,433.1 L637.5,432.8 L638.5,432.5 L639.5,432.2 L640.5,431.9 L641.5,431.5 L642.5,431.2 L643.5,430.8 L644.5,430.4 L645.5,430.0 L646.5,429.6 L647.5,429.2 L648.5,428.8 L649.5,428.3 L650.5,427.9 L651.5,427.4 L652.5,426.9 L653.5,426.5 L654.5,425.9 L655.5,425.4 L656.5,424.9 L657.5,424.3 L658.5,423.8 L659.5,423.2 L660.5,422.6 L661.5,422.0 L662.5,421.4 L663.5,420.7 L664.5,420.1 L665.5,419.4 L666.5,418.7 L667.5,418.0 L668.5,417.2 L669.5,416.5 L670.5,415.7 L671.5,414.9 L672.5,414.1 L673.5,413.3 L674.5,412.5 L675.5,411.6 L676.5,410.7 L677.5,409.9 L678.5,408.9 L679.5,408.0 L680.5,407.0 L681.5,406.1 L682.5,405.1 L683.5,404.1 L684.5,403.0 L685.5,402.0 L686.5,400.9 L687.5,399.8 L688.5,398.7 L689.5,397.6 L690.5,396.4 L691.5,395.3 L692.5,394.1 L693.5,392.9 L694.5,391.6 L695.5,390.4 L696.5,389.1 L697.5,387.8 L698.5,386.5 L699.5,385.2 L700.5,383.8 L701.5,382.5 L702.5,381.1 L703.5,379.7 L704.5,378.3 L705.5,376.9 L706.5,375.4 L707.5,373.9 L708.5,372.5 L709.5,371.0 L710.5,369.5 L711.5,367.9 L712.5,366.4 L713.5,364.8 L714.5,363.3 L715.5,361.7 L716.5,360.1 L717.5,358.5 L718.5,356.9 L719.5,355.2 L720.5,353.6 L721.5,352.0 L722.5,350.3 L723.5,348.6 L724.5,347.0 L725.5,345.3 L726.5,343.6 L727.5,341.9 L728.5,340.3 L729.5,338.6 L730.5,336.9 L731.5,335.2 L732.5,333.5 L733.5,331.8 L734.5,330.1 L735.5,328.4 L736.5,326.7 L737.5,325.0 L738.5,323.4 L739.5,321.7 L740.5,320.0 L741.5,318.4 L742.5,316.7 L743.5,315.1 L744.5,313.5 L745.5,311.9 L746.5,310.3 L747.5,308.7 L748.5,307.1 L749.5,305.6 L750.5,304.0 L751.5,302.5 L752.5,301.0 L753.5,299.5 L754.5,298.1 L755.5,296.7 L756.5,295.3 L757.5,293.9 L758.5,292.5 L759.5,291.2 L760.5,289.9 L761.5,288.7 L762.5,287.4 L763.5,286.2 L764.5,285.1 L765.5,283.9 L766.5,282.8 L767.5,281.8 L768.5,280.8 L769.5,279.8 L770.5,278.8 L771.5,277.9 L772.5,277.0 L773.5,276.2 L774.5,275.4 L775.5,274.7 L776.5,274.0 L777.5,273.4 L778.5,272.8 L779.5,272.2 L780.5,271.7 L781.5,271.2 L782.5,270.8 L783.5,270.4 L784.5,270.1 L785.5,269.8 L786.5,269.6 L787.5,269.4 L788.5,269.3 L789.5,269.2 L790.5,269.2 L791.5,269.2 L792.5,269.3 L793.5,269.4 L794.5,269.5 L795.5,269.7 L796.5,269.9 L797.5,270.2 L798.5,270.4 L799.5,270.8 L800.5,271.1 L801.5,271.5 L802.5,271.9 L803.5,272.4 L804.5,272.9 L805.5,273.4 L806.5,274.0 L807.5,274.6 L808.5,275.2 L809.5,275.9 L810.5,276.6 L811.5,277.3 L812.5,278.1 L813.5,278.9 L814.5,279.7 L815.5,280.6 L816.5,281.5 L817.5,282.4 L818.5,283.3 L819.5,284.3 L820.5,285.3 L821.5,286.3 L822.5,287.4 L823.5,288.4 L824.5,289.5 L825.5,290.6 L826.5,291.8 L827.5,292.9 L828.5,294.1 L829.5,295.3 L830.5,296.5 L831.5,297.8 L832.5,299.0 L833.5,300.3 L834.5,301.6 L835.5,302.9 L836.5,304.2 L837.5,305.6 L838.5,306.9 L839.5,308.3 L840.5,309.6 L841.5,311.0 L842.5,312.4 L843.5,313.8 L844.5,315.2 L845.5,316.7 L846.5,318.1 L847.5,319.5 L848.5,321.0 L849.5,322.4 L850.5,323.9 L851.5,325.3 L852.5,326.8 L853.5,328.2 L854.5,329.7 L855.5,331.2 L856.5,332.6 L857.5,334.1 L858.5,335.6 L859.5,337.0 L860.5,338.5 L861.5,340.0 L862.5,341.4 L863.5,342.9 L864.5,344.3 L865.5,345.8 L866.5,347.2 L867.5,348.7 L868.5,350.1 L869.5,351.5 L870.5,353.0 L871.5,354.4 L872.5,355.8 L873.5,357.2 L874.5,358.6 L875.5,360.0 L876.5,361.4 L877.5,362.7 L878.5,364.1 L879.5,365.4 L880.5,366.8 L881.5,368.1 L882.5,369.4 L883.5,370.7 L884.5,372.0 L885.5,373.3 L886.5,374.6 L887.5,375.8 L888.5,377.1 L889.5,378.3 L890.5,379.5 L891.5,380.7 L892.5,381.9 L893.5,383.1 L894.5,384.3 L895.5,385.4 L896.5,386.6 L897.5,387.7 L898.5,388.8 L899.5,389.9 L900.5,391.0 L901.5,392.0 L902.5,393.1 L903.5,394.1 L904.5,395.1 L905.5,396.2 L906.5,397.1 L907.5,398.1 L908.5,399.1 L909.5,400.0 L910.5,401.0 L911.5,401.9 L912.5,402.8 L913.5,403.7 L914.5,404.6 L915.5,405.4 L916.5,406.3 L917.5,407.1 L918.5,407.9 L919.5,408.7 L920.5,409.5 L921.5,410.3 L922.5,411.0 L923.5,411.8 L924.5,412.5 L925.5,413.2 L926.5,413.9 L927.5,414.6 L928.5,415.3 L929.5,416.0 L930.5,416.6 L931.5,417.2 L932.5,417.9 L933.5,418.5 L934.5,419.1 L935.5,419.6 L936.5,420.2 L937.5,420.8 L938.5,421.3 L939.5,421.9 L940.5,422.4 L941.5,422.9 L942.5,423.4 L943.5,423.9 L944.5,424.3 L945.5,424.8 L946.5,425.3 L947.5,425.7 L948.5,426.1 L949.5,426.6 L950.5,427.0 L951.5,427.4 L952.5,427.8 L953.5,428.1 L954.5,428.5 L955.5,428.9 L956.5,429.2 L957.5,429.6 L958.5,429.9 L959.5,430.2 L960.5,430.6 L961.5,430.9 L962.5,431.2 L963.5,431.5 L964.5,431.8 L965.5,432.0 L966.5,432.3" stroke="#0000ff" stroke-width="2.5"/>
<path d="M64.5,440.6 L65.5,440.6 L66.5,440.5 L67.5,440.5 L68.5,440.4 L69.5,440.4 L70.5,440.3 L71.5,440.2 L72.5,440.2 L73.5,440.1 L74.5,440.0 L75.5,439.9 L76.5,439.9 L77.5,439.8 L78.5,439.7 L79.5,439.6 L80.5,439.6 L81.5,439.5 L82.5,439.4 L83.5,439.3 L84.5,439.3 L85.5,439.2 L86.5,439.1 L87.5,439.1 L88.5,439.0 L89.5,438.9 L90.5,438.8 L91.5,438.8 L92.5,438.7 L93.5,438.6 L94.5,438.6 L95.5,438.5 L96.5,438.4 L97.5,438.4 L98.5,438.3 L99.5,438.2 L100.5,438.1 L101.5,438.1 L102.5,438.0 L103.5,437.9 L104.5,437.9 L105.5,437.8 L106.5,437.7 L107.5,437.6 L108.5,437.6 L109.5,437.5 L110.5,437.4 L111.5,437.3 L112.5,437.3 L113.5,437.2 L114.5,437.1 L115.5,437.1 L116.5,437.0 L117.5,436.9 L118.5,436.8 L119.5,436.8 L120.5,436.7 L121.5,436.6 L122.5,436.5 L123.5,436.4 L124.5,436.3 L125.5,436.2 L126.5,436.1 L127.5,436.0 L128.5,435.9 L129.5,435.8 L130.5,435.7 L131.5,435.6 L132.5,435.4 L133.5,435.3 L134.5,435.2 L135.5,435.1 L136.5,435.0 L137.5,434.8 L138.5,434.7 L139.5,434.6 L140.5,434.4 L141.5,434.2 L142.5,434.0 L143.5,433.9 L144.5,433.7 L145.5,433.4 L146.5,433.2 L147.5,432.9 L148.5,432.7 L149.5,432.3 L150.5,432.0 L151.5,431.6 L152.5,431.1 L153.5,430.6 L154.5,430.0 L155.5,429.4 L156.5,428.6 L157.5,427.8 L158.5,426.8 L159.5,425.7 L160.5,424.5 L161.5,423.1 L162.5,421.5 L163.5,419.8 L164.5,418.0 L165.5,415.9 L166.5,413.7 L167.5,411.2 L168.5,408.5 L169.5,405.6 L170.5,402.5 L171.5,399.1 L172.5,395.4 L173.5,391.5 L174.5,387.3 L175.5,382.6 L176.5,377.7 L177.5,372.5 L178.5,367.2 L179.5,361.7 L180.5,356.0 L181.5,350.2 L182.5,344.1 L183.5,337.6 L184.5,330.6 L185.5,323.2 L186.5,315.4 L187.5,307.0 L188.5,298.5 L189.5,289.7 L190.5,280.7 L191.5,271.6 L192.5,262.4 L193.5,253.0 L194.5,243.4 L195.5,233.8 L196.5,224.3 L197.5,215.0 L198.5,205.9 L199.5,197.0 L200.5,188.5 L201.5,180.3 L202.5,172.3 L203.5,164.3 L204.5,156.4 L205.5,148.6 L206.5,141.0 L207.5,133.6 L208.5,126.6 L209.5,119.8 L210.5,113.3 L211.5,107.1 L212.5,101.2 L213.5,95.7 L214.5,90.6 L215.5,85.9 L216.5,81.6 L217.5,77.7 L218.5,74.4 L219.5,71.6 L220.5,69.5 L221.5,67.8 L222.5,66.9 L223.5,66.4 L224.5,66.5 L225.5,66.9 L226.5,67.8 L227.5,69.1 L228.5,70.8 L229.5,72.9 L230.5,75.4 L231.5,78.3 L232.5,81.7 L233.5,85.4 L234.5,89.6 L235.5,94.1 L236.5,99.1 L237.5,104.2 L238.5,109.5 L239.5,114.7 L240.5,120.0 L241.5,125.5 L242.5,131.1 L243.5,136.8 L244.5,142.6 L245.5,148.6 L246.5,154.5 L247.5,160.5 L248.5,166.5 L249.5,172.5 L250.5,178.6 L251.5,185.0 L252.5,191.6 L253.5,198.4 L254.5,205.4 L255.5,212.4 L256.5,219.4 L257.5,226.4 L258.5,233.4 L259.5,240.3 L260.5,247.2 L261.5,253.9 L262.5,260.7 L263.5,267.3 L264.5,273.8 L265.5,280.2 L266.5,286.6 L267.5,292.8 L268.5,298.9 L269.5,304.7 L270.5,310.4 L271.5,315.8 L272.5,321.1 L273.5,326.1 L274.5,330.9 L275.5,335.5 L276.5,339.9 L277.5,344.1 L278.5,348.0 L279.5,351.8 L280.5,355.4 L281.5,358.9 L282.5,362.2 L283.5,365.5 L284.5,368.6 L285.5,371.6 L286.5,374.5 L287.5,377.4 L288.5,380.2 L289.5,382.9 L290.5,385.5 L291.5,388.1 L292.5,390.5 L293.5,392.8 L294.5,395.1 L295.5,397.3 L296.5,399.3 L297.5,401.3 L298.5,403.3 L299.5,405.1 L300.5,406.8 L301.5,408.5 L302.5,410.1 L303.5,411.6 L304.5,413.0 L305.5,414.3 L306.5,415.6 L307.5,416.8 L308.5,417.9 L309.5,419.0 L310.5,420.0 L311.5,420.9 L312.5,421.8 L313.5,422.7 L314.5,423.5 L315.5,424.3 L316.5,425.1 L317.5,425.8 L318.5,426.5 L319.5,427.2 L320.5,427.9 L321.5,428.5 L322.5,429.1 L323.5,429.7 L324.5,430.3 L325.5,430.8 L326.5,431.3 L327.5,431.8 L328.5,432.2 L329.5,432.7 L330.5,433.1 L331.5,433.5 L332.5,433.9 L333.5,434.2 L334.5,434.5 L335.5,434.9 L336.5,435.2 L337.5,435.4 L338.5,435.7 L339.5,436.0 L340.5,436.2 L341.5,436.5 L342.5,436.7 L343.5,436.9 L344.5,437.1 L345.5,437.3 L346.5,437.4 L347.5,437.6 L348.5,437.8 L349.5,437.9 L350.5,438.1 L351.5,438.2 L352.5,438.3 L353.5,438.5 L354.5,438.6 L355.5,438.7 L356.5,438.8 L357.5,438.9 L358.5,439.0 L359.5,439.1 L360.5,439.2 L361.5,439.3 L362.5,439.3 L363.5,439.4 L364.5,439.5 L365.5,439.6 L366.5,439.6 L367.5,439.7 L368.5,439.8 L369.5,439.8 L370.5,439.9 L371.5,439.9 L372.5,439.9 L373.5,440.0 L374.5,440.0 L375.5,440.0 L376.5,440.1 L377.5,440.1 L378.5,440.1 L379.5,440.1 L380.5,440.1 L381.5,440.2 L382.5,440.2 L383.5,440.2 L384.5,440.2 L385.5,440.2 L386.5,440.2 L387.5,440.2 L388.5,440.2 L389.5,440.2 L390.5,440.3 L391.5,440.3 L392.5,440.3 L393.5,440.3 L394.5,440.3 L395.5,440.3 L396.5,440.3 L397.5,440.3 L398.5,440.3 L399.5,440.3 L400.5,440.3 L401.5,440.4 L402.5,440.4 L403.5,440.4 L404.5,440.4 L405.5,440.4 L406.5,440.4 L407.5,440.4 L408.5,440.5 L409.5,440.5 L410.5,440.5 L411.5,440.5 L412.5,440.5 L413.5,440.5 L414.5,440.6 L415.5,440.6 L416.5,440.6 L417.5,440.6 L418.5,440.6 L419.5,440.6 L420.5,440.6 L421.5,440.6 L422.5,440.7 L423.5,440.7 L424.5,440.7 L425.5,440.7 L426.5,440.7 L427.5,440.7 L428.5,440.7 L429.5,440.7 L430.5,440.7 L431.5,440.7 L432.5,440.8 L433.5,440.8 L434.5,440.8 L435.5,440.8 L436.5,440.8 L437.5,440.8 L438.5,440.8 L439.5,440.8 L440.5,440.8 L441.5,440.8 L442.5,440.9 L443.5,440.9 L444.5,440.9 L445.5,440.9 L446.5,440.9 L447.5,441.0 L448.5,441.0 L449.5,441.0 L450.5,441.0 L451.5,441.0 L452.5,441.1 L453.5,441.1 L454.5,441.1 L455.5,441.1 L456.5,441.1 L457.5,441.1 L458.5,441.2 L459.5,441.2 L460.5,441.2 L461.5,441.2 L462.5,441.2 L463.5,441.2 L464.5,441.3 L465.5,441.3 L466.5,441.3 L467.5,441.3 L468.5,441.3 L469.5,441.3 L470.5,441.4 L471.5,441.4 L472.5,441.4 L473.5,441.4 L474.5,441.4 L475.5,441.4 L476.5,441.4 L477.5,441.5 L478.5,441.5 L479.5,441.5 L480.5,441.5 L481.5,441.5 L482.5,441.5 L483.5,441.5 L484.5,441.5 L485.5,441.6 L486.5,441.6 L487.5,441.6 L488.5,441.6 L489.5,441.6 L490.5,441.6 L491.5,441.6 L492.5,441.6 L493.5,441.7 L494.5,441.7 L495.5,441.7 L496.5,441.7 L497.5,441.7 L498.5,441.7 L499.5,441.7 L500.5,441.7 L501.5,441.7 L502.5,441.8 L503.5,441.8 L504.5,441.8 L505.5,441.8 L506.5,441.8 L507.5,441.8 L508.5,441.8 L509.5,441.8 L510.5,441.8 L511.5,441.8 L512.5,441.8 L513.5,441.9 L514.5,441.9 L515.5,441.9 L516.5,441.9 L517.5,441.9 L518.5,441.9 L519.5,441.9 L520.5,441.9 L521.5,441.9 L522.5,441.9 L523.5,441.9 L524.5,442.0 L525.5,442.0 L526.5,442.0 L527.5,442.0 L528.5,442.0 L529.5,442.0 L530.5,442.0 L531.5,442.0 L532.5,442.0 L533.5,442.0 L534.5,442.0 L535.5,442.0 L536.5,442.0 L537.5,442.1 L538.5,442.1 L539.5,442.1 L540.5,442.1 L541.5,442.1 L542.5,442.1 L543.5,442.1 L544.5,442.1 L545.5,442.1 L546.5,442.1 L547.5,442.1 L548.5,442.1 L549.5,442.1 L550.5,442.1 L551.5,442.1 L552.5,442.2 L553.5,442.2 L554.5,442.2 L555.5,442.2 L556.5,442.2 L557.5,442.2 L558.5,442.2 L559.5,442.2 L560.5,442.2 L561.5,442.2 L562.5,442.2 L563.5,442.2 L564.5,442.2 L565.5,442.2 L566.5,442.2 L567.5,442.2 L568.5,442.2 L569.5,442.3 L570.5,442.3 L571.5,442.3 L572.5,442.3 L573.5,442.3 L574.5,442.3 L575.5,442.3 L576.5,442.3 L577.5,442.3 L578.5,442.3 L579.5,442.3 L580.5,442.3 L581.5,442.3 L582.5,442.3 L583.5,442.3 L584.5,442.3 L585.5,442.3 L586.5,442.3 L587.5,442.3 L588.5,442.3 L589.5,442.3 L590.5,442.4 L591.5,442.4 L592.5,442.4 L593.5,442.4 L594.5,442.4 L595.5,442.4 L596.5,442.4 L597.5,442.4 L598.5,442.4 L599.5,442.4 L600.5,442.4 L601.5,442.4 L602.5,442.4 L603.5,442.4 L604.5,442.4 L605.5,442.4 L606.5,442.4 L607.5,442.4 L608.5,442.4 L609.5,442.4 L610.5,442.4 L611.5,442.4 L612.5,442.4 L613.5,442.4 L614.5,442.5 L615.5,442.5 L616.5,442.5 L617.5,442.5 L618.5,442.5 L619.5,442.5 L620.5,442.5 L621.5,442.5 L622.5,442.5 L623.5,442.5 L624.5,442.5 L625.5,442.5 L626.5,442.5 L627.5,442.5 L628.5,442.5 L629.5,442.5 L630.5,442.5 L631.5,442.5 L632.5,442.5 L633.5,442.5 L634.5,442.5 L635.5,442.5 L636.5,442.5 L637.5,442.5 L638.5,442.5 L639.5,442.5 L640.5,442.5 L641.5,442.5 L642.5,442.5 L643.5,442.6 L644.5,442.6 L645.5,442.6 L646.5,442.6 L647.5,442.6 L648.5,442.6 L649.5,442.6 L650.5,442.6 L651.5,442.6 L652.5,442.6 L653.5,442.6 L654.5,442.6 L655.5,442.6 L656.5,442.6 L657.5,442.6 L658.5,442.6 L659.5,442.6 L660.5,442.6 L661.5,442.6 L662.5,442.6 L663.5,442.6 L664.5,442.6 L665.5,442.6 L666.5,442.6 L667.5,442.6 L668.5,442.6 L669.5,442.6 L670.5,442.6 L671.5,442.6 L672.5,442.6 L673.5,442.6 L674.5,442.6 L675.5,442.6 L676.5,442.6 L677.5,442.6 L678.5,442.6 L679.5,442.6 L680.5,442.7 L681.5,442.7 L682.5,442.7 L683.5,442.7 L684.5,442.7 L685.5,442.7 L686.5,442.7 L687.5,442.7 L688.5,442.7 L689.5,442.7 L690.5,442.7 L691.5,442.7 L692.5,442.7 L693.5,442.7 L694.5,442.7 L695.5,442.7 L696.5,442.7 L697.5,442.7 L698.5,442.7 L699.5,442.7 L700.5,442.7 L701.5,442.7 L702.5,442.7 L703.5,442.7 L704.5,442.7 L705.5,442.7 L706.5,442.7 L707.5,442.7 L708.5,442.7 L709.5,442.7 L710.5,442.7 L711.5,442.7 L712.5,442.7 L713.5,442.7 L714.5,442.7 L715.5,442.7 L716.5,442.7 L717.5,442.7 L718.5,442.7 L719.5,442.7 L720.5,442.7 L721.5,442.7 L722.5,442.7 L723.5,442.7 L724.5,442.7 L725.5,442.7 L726.5,442.7 L727.5,442.7 L728.5,442.8 L729.5,442.8 L730.5,442.8 L731.5,442.8 L732.5,442.8 L733.5,442.8 L734.5,442.8 L735.5,442.8 L736.5,442.8 L737.5,442.8 L738.5,442.8 L739.5,442.8 L740.5,442.8 L741.5,442.8 L742.5,442.8 L743.5,442.8 L744.5,442.8 L745.5,442.8 L746.5,442.8 L747.5,442.8 L748.5,442.8 L749.5,442.8 L750.5,442.8 L751.5,442.8 L752.5,442.8 L753.5,442.8 L754.5,442.8 L755.5,442.8 L756.5,442.8 L757.5,442.8 L758.5,442.8 L759.5,442.8 L760.5,442.8 L761.5,442.8 L762.5,442.8 L763.5,442.8 L764.5,442.8 L765.5,442.8 L766.5,442.8 L767.5,442.8 L768.5,442.8 L769.5,442.8 L770.5,442.8 L771.5,442.8 L772.5,442.8 L773.5,442.8 L774.5,442.8 L775.5,442.8 L776.5,442.8 L777.5,442.8 L778.5,442.8 L779.5,442.8 L780.5,442.8 L781.5,442.8 L782.5,442.8 L783.5,442.8 L784.5,442.8 L785.5,442.8 L786.5,442.8 L787.5,442.8 L788.5,442.8 L789.5,442.8 L790.5,442.8 L791.5,442.8 L792.5,442.8 L793.5,442.8 L794.5,442.8 L795.5,442.8 L796.5,442.9 L797.5,442.9 L798.5,442.9 L799.5,442.9 L800.5,442.9 L801.5,442.9 L802.5,442.9 L803.5,442.9 L804.5,442.9 L805.5,442.9 L806.5,442.9 L807.5,442.9 L808.5,442.9 L809.5,442.9 L810.5,442.9 L811.5,442.9 L812.5,442.9 L813.5,442.9 L814.5,442.9 L815.5,442.9 L816.5,442.9 L817.5,442.9 L818.5,442.9 L819.5,442.9 L820.5,442.9 L821.5,442.9 L822.5,442.9 L823.5,442.9 L824.5,442.9 L825.5,442.9 L826.5,442.9 L827.5,442.9 L828.5,442.9 L829.5,442.9 L830.5,442.9 L831.5,442.9 L832.5,442.9 L833.5,442.9 L834.5,442.9 L835.5,442.9 L836.5,442.9 L837.5,442.9 L838.5,442.9 L839.5,442.9 L840.5,442.9 L841.5,442.9 L842.5,442.9 L843.5,442.9 L844.5,442.9 L845.5,442.9 L846.5,442.9 L847.5,442.9 L848.5,442.9 L849.5,442.9 L850.5,442.9 L851.5,442.9 L852.5,442.9 L853.5,442.9 L854.5,442.9 L855.5,442.9 L856.5,442.9 L857.5,442.9 L858.5,442.9 L859.5,442.9 L860.5,442.9 L861.5,442.9 L862.5,442.9 L863.5,442.9 L864.5,442.9 L865.5,442.9 L866.5,442.9 L867.5,442.9 L868.5,442.9 L869.5,442.9 L870.5,442.9 L871.5,442.9 L872.5,442.9 L873.5,442.9 L874.5,442.9 L875.5,442.9 L876.5,442.9 L877.5,442.9 L878.5,442.9 L879.5,442.9 L880.5,442.9 L881.5,442.9 L882.5,442.9 L883.5,442.9 L884.5,442.9 L885.5,442.9 L886.5,442.9 L887.5,442.9 L888.5,442.9 L889.5,442.9 L890.5,442.9 L891.5,442.9 L892.5,442.9 L893.5,442.9 L894.5,442.9 L895.5,442.9 L896.5,442.9 L897.5,442.9 L898.5,442.9 L899.5,442.9 L900.5,442.9 L901.5,442.9 L902.5,443.0 L903.5,443.0 L904.5,443.0 L905.5,443.0 L906.5,443.0 L907.5,443.0 L908.5,443.0 L909.5,443.0 L910.5,443.0 L911.5,443.0 L912.5,443.0 L913.5,443.0 L914.5,443.0 L915.5,443.0 L916.5,443.0 L917.5,443.0 L918.5,443.0 L919.5,443.0 L920.5,443.0 L921.5,443.0 L922.5,443.0 L923.5,443.0 L924.5,443.0 L925.5,443.0 L926.5,443.0 L927.5,443.0 L928.5,443.0 L929.5,443.0 L930.5,443.0 L931.5,443.0 L932.5,443.0 L933.5,443.0 L934.5,443.0 L935.5,443.0 L936.5,443.0 L937.5,443.0 L938.5,443.0 L939.5,443.0 L940.5,443.0 L941.5,443.0 L942.5,443.0 L943.5,443.0 L944.5,443.0 L945.5,443.0 L946.5,443.0 L947.5,443.0 L948.5,443.0 L949.5,443.0 L950.5,443.0 L951.5,443.0 L952.5,443.0 L953.5,443.0 L954.5,443.0 L955.5,443.0 L956.5,443.0 L957.5,443.0 L958.5,443.0 L959.5,443.0 L960.5,443.0 L961.5,443.0 L962.5,443.0 L963.5,443.0 L964.5,443.0 L965.5,443.0 L966.5,443.0" stroke="#ff0000" stroke-width="2.5"/>
<path d="M64.5,442.9 L65.5,442.9 L66.5,442.9 L67.5,442.9 L68.5,442.9 L69.5,442.9 L70.5,442.9 L71.5,442.9 L72.5,442.9 L73.5,442.9 L74.5,442.9 L75.5,442.9 L76.5,442.9 L77.5,442.9 L78.5,442.9 L79.5,442.9 L80.5,442.9 L81.5,442.9 L82.5,442.9 L83.5,442.9 L84.5,442.9 L85.5,442.9 L86.5,442.9 L87.5,442.9 L88.5,442.9 L89.5,442.9 L90.5,442.9 L91.5,442.9 L92.5,442.9 L93.5,442.9 L94.5,442.9 L95.5,442.8 L96.5,442.8 L97.5,442.8 L98.5,442.8 L99.5,442.8 L100.5,442.8 L101.5,442.8 L102.5,442.8 L103.5,442.8 L104.5,442.8 L105.5,442.8 L106.5,442.8 L107.5,442.8 L108.5,442.8 L109.5,442.8 L110.5,442.8 L111.5,442.8 L112.5,442.8 L113.5,442.8 L114.5,442.8 L115.5,442.8 L116.5,442.8 L117.5,442.8 L118.5,442.8 L119.5,442.8 L120.5,442.8 L121.5,442.8 L122.5,442.8 L123.5,442.8 L124.5,442.8 L125.5,442.8 L126.5,442.8 L127.5,442.8 L128.5,442.8 L129.5,442.8 L130.5,442.8 L131.5,442.8 L132.5,442.8 L133.5,442.8 L134.5,442.8 L135.5,442.8 L136.5,442.8 L137.5,442.8 L138.5,442.8 L139.5,442.8 L140.5,442.8 L141.5,442.8 L142.5,442.8 L143.5,442.8 L144.5,442.8 L145.5,442.8 L146.5,442.8 L147.5,442.8 L148.5,442.8 L149.5,442.7 L150.5,442.7 L151.5,442.7 L152.5,442.7 L153.5,442.7 L154.5,442.7 L155.5,442.7 L156.5,442.7 L157.5,442.7 L158.5,442.7 L159.5,442.7 L160.5,442.7 L161.5,442.7 L162.5,442.7 L163.5,442.7 L164.5,442.7 L165.5,442.7 L166.5,442.7 L167.5,442.7 L168.5,442.7 L169.5,442.7 L170.5,442.7 L171.5,442.7 L172.5,442.7 L173.5,442.7 L174.5,442.7 L175.5,442.7 L176.5,442.7 L177.5,442.7 L178.5,442.7 L179.5,442.7 L180.5,442.7 L181.5,442.7 L182.5,442.7 L183.5,442.7 L184.5,442.7 L185.5,442.7 L186.5,442.7 L187.5,442.7 L188.5,442.6 L189.5,442.6 L190.5,442.6 L191.5,442.6 L192.5,442.6 L193.5,442.6 L194.5,442.6 L195.5,442.6 L196.5,442.6 L197.5,442.6 L198.5,442.6 L199.5,442.6 L200.5,442.6 L201.5,442.6 L202.5,442.6 L203.5,442.6 L204.5,442.6 L205.5,442.6 L206.5,442.6 L207.5,442.6 L208.5,442.6 L209.5,442.6 L210.5,442.6 L211.5,442.6 L212.5,442.6 L213.5,442.6 L214.5,442.6 L215.5,442.6 L216.5,442.6 L217.5,442.6 L218.5,442.5 L219.5,442.5 L220.5,442.5 L221.5,442.5 L222.5,442.5 L223.5,442.5 L224.5,442.5 L225.5,442.5 L226.5,442.5 L227.5,442.5 L228.5,442.5 L229.5,442.5 L230.5,442.5 L231.5,442.5 L232.5,442.5 L233.5,442.5 L234.5,442.5 L235.5,442.5 L236.5,442.5 L237.5,442.5 L238.5,442.5 L239.5,442.5 L240.5,442.5 L241.5,442.4 L242.5,442.4 L243.5,442.4 L244.5,442.4 L245.5,442.4 L246.5,442.4 L247.5,442.4 L248.5,442.4 L249.5,442.4 L250.5,442.4 L251.5,442.4 L252.5,442.4 L253.5,442.4 L254.5,442.4 L255.5,442.4 L256.5,442.4 L257.5,442.4 L258.5,442.4 L259.5,442.4 L260.5,442.4 L261.5,442.3 L262.5,442.3 L263.5,442.3 L264.5,442.3 L265.5,442.3 L266.5,442.3 L267.5,442.3 L268.5,442.3 L269.5,442.3 L270.5,442.3 L271.5,442.3 L272.5,442.3 L273.5,442.3 L274.5,442.3 L275.5,442.3 L276.5,442.3 L277.5,442.2 L278.5,442.2 L279.5,442.2 L280.5,442.2 L281.5,442.2 L282.5,442.2 L283.5,442.2 L284.5,442.2 L285.5,442.2 L286.5,442.2 L287.5,442.2 L288.5,442.2 L289.5,442.2 L290.5,442.1 L291.5,442.1 L292.5,442.1 L293.5,442.1 L294.5,442.1 L295.5,442.1 L296.5,442.1 L297.5,442.1 L298.5,442.1 L299.5,442.1 L300.5,442.1 L301.5,442.1 L302.5,442.0 L303.5,442.0 L304.5,442.0 L305.5,442.0 L306.5,442.0 L307.5,442.0 L308.5,442.0 L309.5,442.0 L310.5,442.0 L311.5,442.0 L312.5,442.0 L313.5,441.9 L314.5,441.9 L315.5,441.9 L316.5,441.9 L317.5,441.9 L318.5,441.9 L319.5,441.9 L320.5,441.9 L321.5,441.9 L322.5,441.8 L323.5,441.8 L324.5,441.8 L325.5,441.8 L326.5,441.8 L327.5,441.8 L328.5,441.8 L329.5,441.8 L330.5,441.8 L331.5,441.7 L332.5,441.7 L333.5,441.7 L334.5,441.7 L335.5,441.7 L336.5,441.7 L337.5,441.7 L338.5,441.6 L339.5,441.6 L340.5,441.6 L341.5,441.6 L342.5,441.6 L343.5,441.6 L344.5,441.6 L345.5,441.5 L346.5,441.5 L347.5,441.5 L348.5,441.5 L349.5,441.5 L350.5,441.5 L351.5,441.4 L352.5,441.4 L353.5,441.4 L354.5,441.4 L355.5,441.4 L356.5,441.4 L357.5,441.3 L358.5,441.3 L359.5,441.3 L360.5,441.3 L361.5,441.3 L362.5,441.2 L363.5,441.2 L364.5,441.2 L365.5,441.2 L366.5,441.2 L367.5,441.1 L368.5,441.1 L369.5,441.1 L370.5,441.1 L371.5,441.1 L372.5,441.0 L373.5,441.0 L374.5,441.0 L375.5,441.0 L376.5,440.9 L377.5,440.9 L378.5,440.9 L379.5,440.9 L380.5,440.8 L381.5,440.8 L382.5,440.8 L383.5,440.8 L384.5,440.7 L385.5,440.7 L386.5,440.7 L387.5,440.6 L388.5,440.6 L389.5,440.6 L390.5,440.5 L391.5,440.5 L392.5,440.5 L393.5,440.5 L394.5,440.4 L395.5,440.4 L396.5,440.3 L397.5,440.3 L398.5,440.3 L399.5,440.2 L400.5,440.2 L401.5,440.2 L402.5,440.1 L403.5,440.1 L404.5,440.0 L405.5,440.0 L406.5,439.9 L407.5,439.9 L408.5,439.8 L409.5,439.8 L410.5,439.7 L411.5,439.7 L412.5,439.6 L413.5,439.6 L414.5,439.5 L415.5,439.4 L416.5,439.4 L417.5,439.3 L418.5,439.2 L419.5,439.2 L420.5,439.1 L421.5,439.0 L422.5,438.9 L423.5,438.8 L424.5,438.8 L425.5,438.7 L426.5,438.6 L427.5,438.5 L428.5,438.3 L429.5,438.2 L430.5,438.1 L431.5,438.0 L432.5,437.8 L433.5,437.7 L434.5,437.5 L435.5,437.4 L436.5,437.2 L437.5,437.0 L438.5,436.9 L439.5,436.7 L440.5,436.4 L441.5,436.2 L442.5,436.0 L443.5,435.7 L444.5,435.5 L445.5,435.2 L446.5,434.9 L447.5,434.6 L448.5,434.3 L449.5,433.9 L450.5,433.6 L451.5,433.2 L452.5,432.8 L453.5,432.3 L454.5,431.9 L455.5,431.4 L456.5,430.9 L457.5,430.3 L458.5,429.8 L459.5,429.2 L460.5,428.5 L461.5,427.9 L462.5,427.2 L463.5,426.4 L464.5,425.6 L465.5,424.8 L466.5,424.0 L467.5,423.1 L468.5,422.1 L469.5,421.1 L470.5,420.1 L471.5,419.0 L472.5,417.8 L473.5,416.7 L474.5,415.4 L475.5,414.1 L476.5,412.7 L477.5,411.3 L478.5,409.8 L479.5,408.3 L480.5,406.7 L481.5,405.0 L482.5,403.3 L483.5,401.5 L484.5,399.7 L485.5,397.7 L486.5,395.7 L487.5,393.7 L488.5,391.5 L489.5,389.3 L490.5,387.1 L491.5,384.7 L492.5,382.3 L493.5,379.8 L494.5,377.3 L495.5,374.6 L496.5,372.0 L497.5,369.2 L498.5,366.4 L499.5,363.5 L500.5,360.5 L501.5,357.5 L502.5,354.4 L503.5,351.3 L504.5,348.1 L505.5,344.9 L506.5,341.6 L507.5,338.2 L508.5,334.8 L509.5,331.4 L510.5,328.0 L511.5,324.5 L512.5,320.9 L513.5,317.4 L514.5,313.8 L515.5,310.2 L516.5,306.6 L517.5,303.0 L518.5,299.4 L519.5,295.8 L520.5,292.2 L521.5,288.6 L522.5,285.0 L523.5,281.5 L524.5,278.0 L525.5,274.5 L526.5,271.1 L527.5,267.7 L528.5,264.4 L529.5,261.2 L530.5,258.0 L531.5,254.9 L532.5,251.9 L533.5,249.0 L534.5,246.2 L535.5,243.6 L536.5,241.0 L537.5,238.5 L538.5,236.2 L539.5,234.0 L540.5,232.0 L541.5,230.1 L542.5,228.3 L543.5,226.7 L544.5,225.3 L545.5,224.1 L546.5,223.0 L547.5,222.1 L548.5,221.3 L549.5,220.8 L550.5,220.4 L551.5,220.2 L552.5,220.2 L553.5,220.3 L554.5,220.5 L555.5,220.8 L556.5,221.3 L557.5,221.8 L558.5,222.4 L559.5,223.1 L560.5,224.0 L561.5,224.9 L562.5,225.9 L563.5,227.1 L564.5,228.3 L565.5,229.6 L566.5,231.0 L567.5,232.5 L568.5,234.1 L569.5,235.7 L570.5,237.5 L571.5,239.3 L572.5,241.2 L573.5,243.2 L574.5,245.2 L575.5,247.4 L576.5,249.5 L577.5,251.8 L578.5,254.1 L579.5,256.4 L580.5,258.9 L581.5,261.3 L582.5,263.8 L583.5,266.4 L584.5,269.0 L585.5,271.6 L586.5,274.3 L587.5,277.0 L588.5,279.7 L589.5,282.5 L590.5,285.3 L591.5,288.1 L592.5,290.9 L593.5,293.7 L594.5,296.6 L595.5,299.4 L596.5,302.3 L597.5,305.2 L598.5,308.0 L599.5,310.9 L600.5,313.8 L601.5,316.6 L602.5,319.5 L603.5,322.3 L604.5,325.1 L605.5,327.9 L606.5,330.7 L607.5,333.4 L608.5,336.2 L609.5,338.9 L610.5,341.6 L611.5,344.2 L612.5,346.9 L613.5,349.5 L614.5,352.1 L615.5,354.6 L616.5,357.1 L617.5,359.6 L618.5,362.0 L619.5,364.4 L620.5,366.7 L621.5,369.0 L622.5,371.3 L623.5,373.5 L624.5,375.7 L625.5,377.9 L626.5,380.0 L627.5,382.0 L628.5,384.0 L629.5,386.0 L630.5,387.9 L631.5,389.8 L632.5,391.7 L633.5,393.5 L634.5,395.2 L635.5,396.9 L636.5,398.6 L637.5,400.2 L638.5,401.8 L639.5,403.3 L640.5,404.8 L641.5,406.2 L642.5,407.6 L643.5,409.0 L644.5,410.3 L645.5,411.6 L646.5,412.8 L647.5,414.0 L648.5,415.2 L649.5,416.3 L650.5,417.4 L651.5,418.4 L652.5,419.4 L653.5,420.4 L654.5,421.3 L655.5,422.3 L656.5,423.1 L657.5,424.0 L658.5,424.8 L659.5,425.6 L660.5,426.3 L661.5,427.0 L662.5,427.7 L663.5,428.4 L664.5,429.0 L665.5,429.6 L666.5,430.2 L667.5,430.8 L668.5,431.3 L669.5,431.9 L670.5,432.3 L671.5,432.8 L672.5,433.3 L673.5,433.7 L674.5,434.1 L675.5,434.5 L676.5,434.9 L677.5,435.3 L678.5,435.6 L679.5,435.9 L680.5,436.2 L681.5,436.5 L682.5,436.8 L683.5,437.1 L684.5,437.3 L685.5,437.6 L686.5,437.8 L687.5,438.0 L688.5,438.3 L689.5,438.5 L690.5,438.6 L691.5,438.8 L692.5,439.0 L693.5,439.2 L694.5,439.3 L695.5,439.5 L696.5,439.6 L697.5,439.7 L698.5,439.9 L699.5,440.0 L700.5,440.1 L701.5,440.2 L702.5,440.3 L703.5,440.4 L704.5,440.5 L705.5,440.6 L706.5,440.7 L707.5,440.7 L708.5,440.8 L709.5,440.9 L710.5,441.0 L711.5,441.0 L712.5,441.1 L713.5,441.1 L714.5,441.2 L715.5,441.2 L716.5,441.3 L717.5,441.3 L718.5,441.4 L719.5,441.4 L720.5,441.5 L721.5,441.5 L722.5,441.5 L723.5,441.6 L724.5,441.6 L725.5,441.6 L726.5,441.7 L727.5,441.7 L728.5,441.7 L729.5,441.7 L730.5,441.8 L731.5,441.8 L732.5,441.8 L733.5,441.8 L734.5,441.9 L735.5,441.9 L736.5,441.9 L737.5,441.9 L738.5,441.9 L739.5,441.9 L740.5,442.0 L741.5,442.0 L742.5,442.0 L743.5,442.0 L744.5,442.0 L745.5,442.0 L746.5,442.1 L747.5,442.1 L748.5,442.1 L749.5,442.1 L750.5,442.1 L751.5,442.1 L752.5,442.1 L753.5,442.1 L754.5,442.2 L755.5,442.2 L756.5,442.2 L757.5,442.2 L758.5,442.2 L759.5,442.2 L760.5,442.2 L761.5,442.2 L762.5,442.2 L763.5,442.2 L764.5,442.3 L765.5,442.3 L766.5,442.3 L767.5,442.3 L768.5,442.3 L769.5,442.3 L770.5,442.3 L771.5,442.3 L772.5,442.3 L773.5,442.3 L774.5,442.3 L775.5,442.3 L776.5,442.3 L777.5,442.4 L778.5,442.4 L779.5,442.4 L780.5,442.4 L781.5,442.4 L782.5,442.4 L783.5,442.4 L784.5,442.4 L785.5,442.4 L786.5,442.4 L787.5,442.4 L788.5,442.4 L789.5,442.4 L790.5,442.4 L791.5,442.4 L792.5,442.5 L793.5,442.5 L794.5,442.5 L795.5,442.5 L796.5,442.5 L797.5,442.5 L798.5,442.5 L799.5,442.5 L800.5,442.5 L801.5,442.5 L802.5,442.5 L803.5,442.5 L804.5,442.5 L805.5,442.5 L806.5,442.5 L807.5,442.5 L808.5,442.5 L809.5,442.5 L810.5,442.6 L811.5,442.6 L812.5,442.6 L813.5,442.6 L814.5,442.6 L815.5,442.6 L816.5,442.6 L817.5,442.6 L818.5,442.6 L819.5,442.6 L820.5,442.6 L821.5,442.6 L822.5,442.6 L823.5,442.6 L824.5,442.6 L825.5,442.6 L826.5,442.6 L827.5,442.6 L828.5,442.6 L829.5,442.6 L830.5,442.6 L831.5,442.6 L832.5,442.6 L833.5,442.6 L834.5,442.7 L835.5,442.7 L836.5,442.7 L837.5,442.7 L838.5,442.7 L839.5,442.7 L840.5,442.7 L841.5,442.7 L842.5,442.7 L843.5,442.7 L844.5,442.7 L845.5,442.7 L846.5,442.7 L847.5,442.7 L848.5,442.7 L849.5,442.7 L850.5,442.7 L851.5,442.7 L852.5,442.7 L853.5,442.7 L854.5,442.7 L855.5,442.7 L856.5,442.7 L857.5,442.7 L858.5,442.7 L859.5,442.7 L860.5,442.7 L861.5,442.7 L862.5,442.7 L863.5,442.7 L864.5,442.7 L865.5,442.8 L866.5,442.8 L867.5,442.8 L868.5,442.8 L869.5,442.8 L870.5,442.8 L871.5,442.8 L872.5,442.8 L873.5,442.8 L874.5,442.8 L875.5,442.8 L876.5,442.8 L877.5,442.8 L878.5,442.8 L879.5,442.8 L880.5,442.8 L881.5,442.8 L882.5,442.8 L883.5,442.8 L884.5,442.8 L885.5,442.8 L886.5,442.8 L887.5,442.8 L888.5,442.8 L889.5,442.8 L890.5,442.8 L891.5,442.8 L892.5,442.8 L893.5,442.8 L894.5,442.8 L895.5,442.8 L896.5,442.8 L897.5,442.8 L898.5,442.8 L899.5,442.8 L900.5,442.8 L901.5,442.8 L902.5,442.8 L903.5,442.8 L904.5,442.8 L905.5,442.8 L906.5,442.8 L907.5,442.8 L908.5,442.9 L909.5,442.9 L910.5,442.9 L911.5,442.9 L912.5,442.9 L913.5,442.9 L914.5,442.9 L915.5,442.9 L916.5,442.9 L917.5,442.9 L918.5,442.9 L919.5,442.9 L920.5,442.9 L921.5,442.9 L922.5,442.9 L923.5,442.9 L924.5,442.9 L925.5,442.9 L926.5,442.9 L927.5,442.9 L928.5,442.9 L929.5,442.9 L930.5,442.9 L931.5,442.9 L932.5,442.9 L933.5,442.9 L934.5,442.9 L935.5,442.9 L936.5,442.9 L937.5,442.9 L938.5,442.9 L939.5,442.9 L940.5,442.9 L941.5,442.9 L942.5,442.9 L943.5,442.9 L944.5,442.9 L945.5,442.9 L946.5,442.9 L947.5,442.9 L948.5,442.9 L949.5,442.9 L950.5,442.9 L951.5,442.9 L952.5,442.9 L953.5,442.9 L954.5,442.9 L955.5,442.9 L956.5,442.9 L957.5,442.9 L958.5,442.9 L959.5,442.9 L960.5,442.9 L961.5,442.9 L962.5,442.9 L963.5,442.9 L964.5,442.9 L965.5,442.9 L966.5,442.9" stroke="#ff0000" stroke-width="2.5"/>
</g>
<g stroke="#000" stroke-width="2" fill="none">
<line x1="65" y1="442.4" x2="977" y2="442.4"/>
<line x1="156.3" y1="443" x2="156.3" y2="447"/><line x1="247.7" y1="443" x2="247.7" y2="447"/><line x1="339.1" y1="443" x2="339.1" y2="447"/><line x1="430.5" y1="443" x2="430.5" y2="447"/><line x1="521.9" y1="443" x2="521.9" y2="447"/><line x1="613.2" y1="443" x2="613.2" y2="447"/><line x1="704.6" y1="443" x2="704.6" y2="447"/><line x1="796.0" y1="443" x2="796.0" y2="447"/><line x1="887.4" y1="443" x2="887.4" y2="447"/>
</g>
<g font-size="26" fill="#000"><text x="116.4" y="939" text-anchor="middle">366</text><text x="220.8" y="939" text-anchor="middle">368</text><text x="325.1" y="939" text-anchor="middle">370</text><text x="429.5" y="939" text-anchor="middle">372</text><text x="533.8" y="939" text-anchor="middle">374</text><text x="638.2" y="939" text-anchor="middle">376</text><text x="742.6" y="939" text-anchor="middle">378</text><text x="846.9" y="939" text-anchor="middle">380</text><text x="951.3" y="939" text-anchor="middle">382</text></g>
<text x="553" y="985" font-size="47.5" fill="#000">Binding Energy (eV)</text>
<text transform="translate(34,301) rotate(-90)" font-size="47" fill="#000">Intensity (a.u.)</text>
<text x="475.5" y="42.6" font-size="35" font-style="italic" fill="#0000ff">Ag 3d</text>
<text x="928" y="38.7" font-size="36" fill="#000">(a)</text>
<text x="928" y="479.6" font-size="36" fill="#000">(b)</text>
<line x1="700.3" y1="83.2" x2="781" y2="83.2" stroke="#000" stroke-width="3"/>
<text x="790" y="95.6" font-size="35.5" fill="#000">GrO-0.5Ag</text>
<line x1="700.3" y1="126" x2="781" y2="126" stroke="#ffff00" stroke-width="2.4"/>
<text x="789" y="137.6" font-size="35.5" fill="#ffff00">Fit curve</text>
<line x1="692.2" y1="536.7" x2="773.2" y2="536.7" stroke="#000" stroke-width="3"/>
<text x="782" y="548.3" font-size="35.5" fill="#000">GrO-1.5Ag</text>
<line x1="692.2" y1="580" x2="773.2" y2="580" stroke="#ffff00" stroke-width="2.4"/>
<text x="782" y="591" font-size="35.5" fill="#ffff00">Fit curve</text>
<text x="267.5" y="166.8" font-size="35" font-style="italic" fill="#8b0000">5/2</text>
<text x="630" y="214.6" font-size="35" font-style="italic" fill="#8b0000">3/2</text>
<g fill="#ff0000" stroke="#ff0000" stroke-width="0.6"><text class="serif" transform="translate(164,590) scale(0.9,1)" font-size="35">Ag</text><text class="serif" x="204.5" y="582" font-size="21">+</text></g>
<g fill="#0000ff" stroke="#0000ff" stroke-width="0.6"><text class="serif" transform="translate(437,636.8) scale(0.9,1)" font-size="35">Ag</text><text class="serif" x="477" y="628.4" font-size="24">0</text></g>
<g stroke="none">
<rect x="189.2" y="608" width="5.3" height="153" fill="#ff0000"/>
<polygon points="183,759.5 201,759.5 191.8,777.5" fill="#ff0000"/>
<line x1="434" y1="644" x2="344" y2="717" stroke="#0000ff" stroke-width="5.5"/>
<polygon points="335.4,727.4 343.3,709.3 354.7,722.9" fill="#0000ff"/>
</g>
</svg>
</body></html>
